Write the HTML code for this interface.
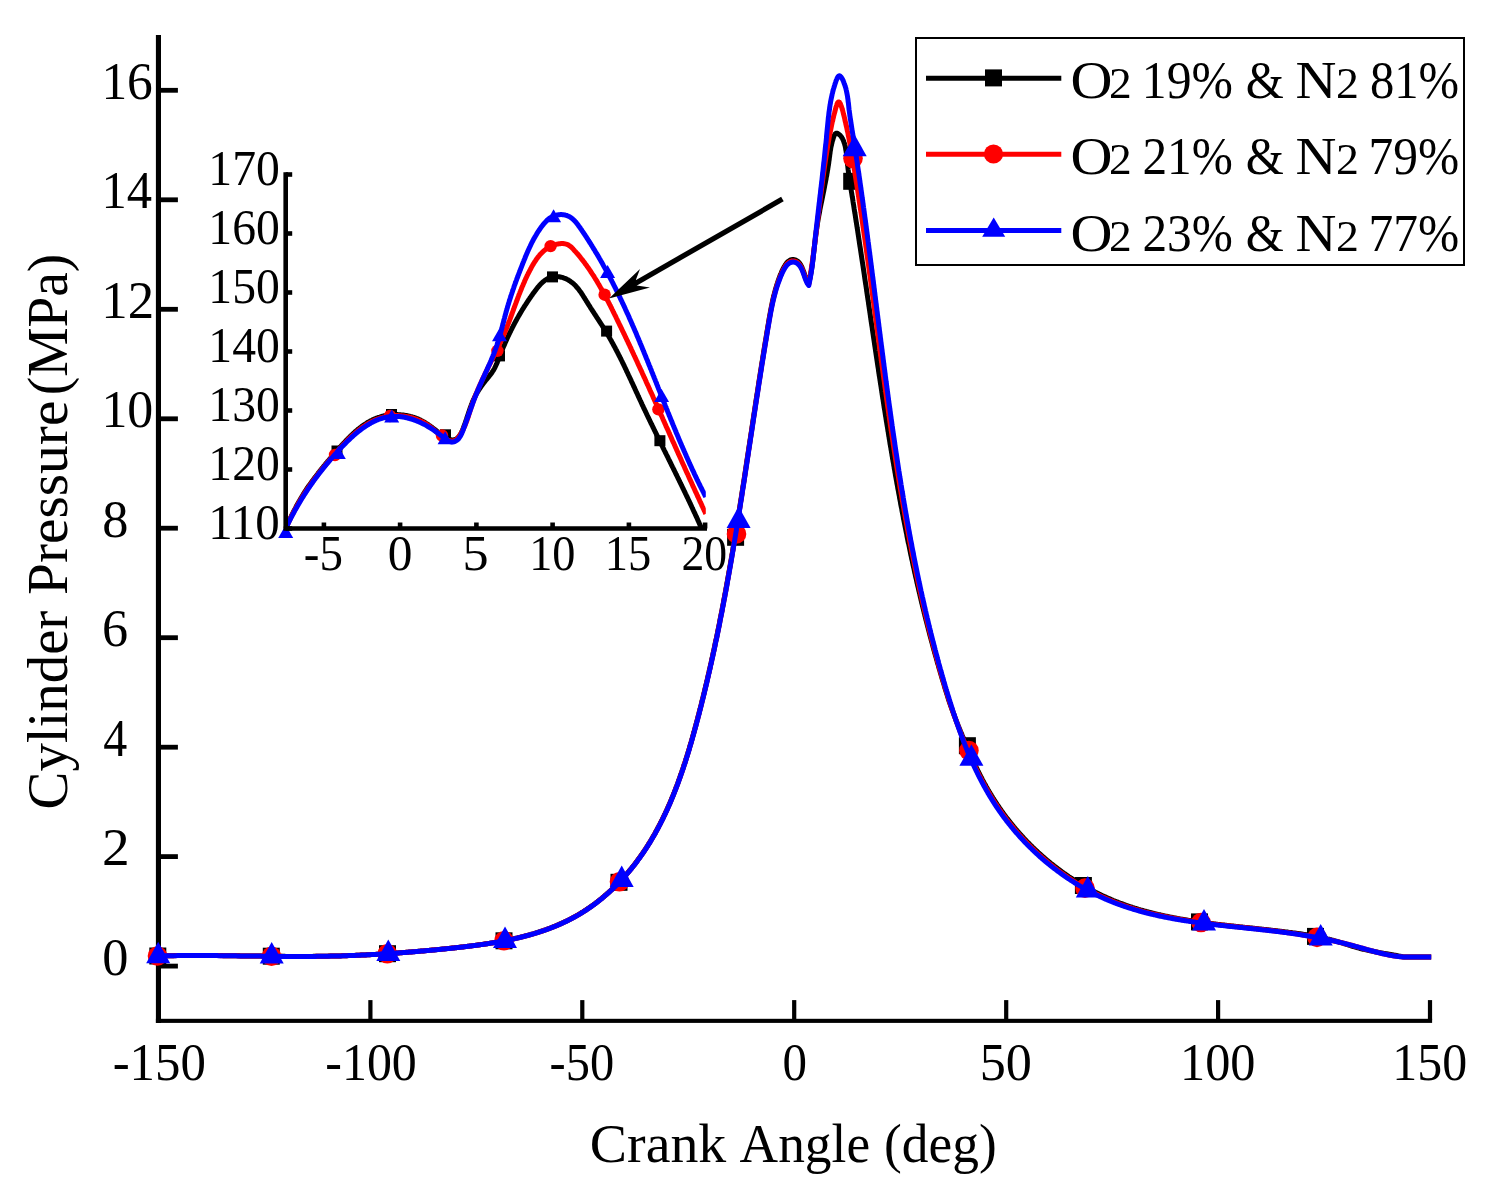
<!DOCTYPE html>
<html lang="en"><head><meta charset="utf-8"><title>Cylinder Pressure vs Crank Angle</title>
<style>html,body{margin:0;padding:0;background:#fff}body{width:1499px;height:1198px;overflow:hidden}svg{display:block}text{font-family:"Liberation Serif", "DejaVu Serif", serif;fill:#000}</style></head><body>
<svg width="1499" height="1198" viewBox="0 0 1499 1198">
<rect width="1499" height="1198" fill="#fff"/>
<g fill="#000">
<rect x="155.9" y="35" width="5.1" height="987.90"/>
<rect x="155.9" y="1018.8" width="1276.2" height="4.1"/>
<rect x="158" y="963.7" width="19.9" height="4.8"/>
<rect x="158" y="854.2" width="19.9" height="4.8"/>
<rect x="158" y="744.8" width="19.9" height="4.8"/>
<rect x="158" y="635.3" width="19.9" height="4.8"/>
<rect x="158" y="525.8" width="19.9" height="4.8"/>
<rect x="158" y="416.4" width="19.9" height="4.8"/>
<rect x="158" y="306.9" width="19.9" height="4.8"/>
<rect x="158" y="197.4" width="19.9" height="4.8"/>
<rect x="158" y="87.9" width="19.9" height="4.8"/>
<rect x="368.3" y="1000.1" width="4.2" height="20"/>
<rect x="580.2" y="1000.1" width="4.2" height="20"/>
<rect x="792.1" y="1000.1" width="4.2" height="20"/>
<rect x="1004.1" y="1000.1" width="4.2" height="20"/>
<rect x="1216.0" y="1000.1" width="4.2" height="20"/>
<rect x="1427.9" y="1000.1" width="4.2" height="20"/>
</g>
<clipPath id="ic"><rect x="283.4" y="170" width="422.4" height="361"/></clipPath>
<path d="M285.7 528.5 L286.1 527.5 L286.5 526.6 L287.0 525.6 L287.4 524.6 L287.8 523.6 L288.2 522.7 L288.7 521.7 L289.1 520.8 L289.6 519.8 L290.0 518.8 L290.5 517.9 L290.9 517.0 L291.4 516.0 L291.8 515.1 L292.3 514.1 L292.8 513.2 L293.2 512.3 L293.7 511.3 L294.2 510.4 L294.7 509.5 L295.2 508.6 L295.7 507.7 L296.1 506.7 L296.6 505.8 L297.1 504.9 L297.6 504.0 L298.1 503.1 L298.7 502.2 L299.2 501.3 L299.7 500.4 L300.2 499.5 L300.7 498.6 L301.2 497.8 L301.8 496.9 L302.3 496.0 L302.8 495.1 L303.4 494.2 L303.9 493.3 L304.4 492.5 L305.0 491.6 L305.5 490.7 L306.1 489.9 L306.6 489.0 L307.2 488.2 L307.7 487.4 L308.3 486.6 L308.9 485.8 L309.4 485.0 L310.0 484.2 L310.6 483.4 L311.2 482.6 L311.7 481.8 L312.3 481.0 L312.9 480.2 L313.5 479.4 L314.1 478.6 L314.7 477.8 L315.3 477.0 L315.9 476.3 L316.5 475.5 L317.1 474.7 L317.7 473.9 L318.3 473.1 L318.9 472.3 L319.5 471.6 L320.1 470.8 L320.7 470.0 L321.3 469.2 L322.0 468.4 L322.6 467.7 L323.2 466.9 L323.8 466.1 L324.5 465.3 L325.1 464.6 L325.7 463.8 L326.4 463.0 L327.0 462.3 L327.7 461.5 L328.3 460.7 L329.0 460.0 L329.6 459.2 L330.3 458.4 L330.9 457.7 L331.6 456.9 L332.2 456.1 L332.9 455.3 L333.5 454.6 L334.2 453.8 L334.9 453.0 L335.5 452.3 L336.2 451.5 L336.9 450.7 L337.6 450.0 L338.2 449.2 L338.9 448.4 L339.6 447.7 L340.3 446.9 L341.0 446.1 L341.6 445.4 L342.3 444.6 L343.0 443.9 L343.7 443.1 L344.4 442.4 L345.1 441.6 L345.8 440.9 L346.5 440.1 L347.2 439.4 L348.0 438.6 L348.7 437.9 L349.4 437.2 L350.1 436.5 L350.9 435.8 L351.6 435.1 L352.3 434.4 L353.1 433.7 L353.8 433.0 L354.6 432.3 L355.3 431.6 L356.1 431.0 L356.9 430.3 L357.6 429.7 L358.4 429.0 L359.2 428.4 L360.0 427.8 L360.8 427.2 L361.5 426.6 L362.3 426.0 L363.2 425.4 L364.0 424.9 L364.8 424.3 L365.6 423.8 L366.4 423.3 L367.3 422.7 L368.1 422.2 L369.0 421.8 L369.8 421.3 L370.7 420.8 L371.5 420.4 L372.4 419.9 L373.3 419.5 L374.2 419.1 L375.1 418.7 L376.0 418.4 L376.9 418.0 L377.8 417.7 L378.7 417.4 L379.7 417.1 L380.6 416.8 L381.6 416.5 L382.5 416.3 L383.5 416.0 L384.4 415.8 L385.4 415.6 L386.4 415.4 L387.4 415.3 L388.4 415.1 L389.3 415.0 L390.3 414.9 L391.3 414.8 L392.3 414.7 L393.3 414.7 L394.3 414.6 L395.3 414.6 L396.3 414.6 L397.3 414.6 L398.4 414.7 L399.4 414.7 L400.4 414.8 L401.4 414.9 L402.4 415.0 L403.4 415.1 L404.4 415.2 L405.4 415.4 L406.4 415.5 L407.3 415.7 L408.3 415.9 L409.3 416.1 L410.3 416.4 L411.3 416.6 L412.2 416.9 L413.2 417.2 L414.1 417.5 L415.1 417.8 L416.0 418.2 L416.9 418.5 L417.9 418.9 L418.8 419.3 L419.7 419.7 L420.6 420.1 L421.4 420.6 L422.3 421.1 L423.2 421.5 L424.0 422.0 L424.9 422.5 L425.7 423.1 L426.6 423.6 L427.4 424.1 L428.2 424.7 L429.1 425.3 L429.9 425.8 L430.7 426.4 L431.5 427.0 L432.3 427.6 L433.1 428.3 L433.9 428.9 L434.8 429.5 L435.6 430.1 L436.4 430.8 L437.2 431.4 L438.0 432.1 L438.8 432.7 L439.6 433.4 L440.5 434.1 L441.3 434.7 L442.1 435.4 L443.0 436.0 L443.8 436.6 L444.7 437.2 L445.6 437.7 L446.5 438.2 L447.3 438.7 L448.2 439.0 L449.1 439.4 L450.0 439.6 L450.9 439.8 L451.8 440.0 L452.7 440.0 L453.5 440.0 L454.3 439.8 L455.1 439.6 L455.8 439.3 L456.5 438.9 L457.2 438.4 L457.8 437.8 L458.4 437.1 L459.0 436.4 L459.6 435.7 L460.1 434.8 L460.6 434.0 L461.1 433.1 L461.6 432.1 L462.1 431.1 L462.5 430.1 L462.9 429.1 L463.3 428.1 L463.7 427.0 L464.1 426.0 L464.5 425.0 L464.8 424.1 L465.2 423.1 L465.5 422.1 L465.8 421.2 L466.2 420.2 L466.5 419.3 L466.8 418.3 L467.1 417.4 L467.4 416.4 L467.7 415.5 L468.0 414.6 L468.3 413.7 L468.6 412.8 L468.9 411.9 L469.2 411.0 L469.5 410.1 L469.8 409.2 L470.1 408.3 L470.4 407.4 L470.8 406.5 L471.1 405.6 L471.4 404.8 L471.7 403.9 L472.1 403.0 L472.4 402.2 L472.8 401.3 L473.1 400.5 L473.5 399.7 L473.9 398.8 L474.3 398.0 L474.7 397.2 L475.1 396.3 L475.5 395.5 L475.9 394.7 L476.4 393.9 L476.9 393.1 L477.4 392.3 L477.9 391.5 L478.4 390.6 L478.9 389.8 L479.5 388.9 L480.1 388.1 L480.7 387.2 L481.2 386.4 L481.8 385.5 L482.5 384.7 L483.1 383.8 L483.7 383.0 L484.3 382.2 L484.9 381.4 L485.6 380.6 L486.2 379.8 L486.8 379.1 L487.5 378.3 L488.1 377.5 L488.7 376.8 L489.3 376.0 L489.9 375.2 L490.5 374.5 L491.1 373.7 L491.7 372.9 L492.2 372.1 L492.7 371.3 L493.3 370.5 L493.8 369.6 L494.3 368.8 L494.7 367.9 L495.2 367.0 L495.6 366.1 L496.0 365.2 L496.5 364.2 L496.9 363.3 L497.3 362.4 L497.6 361.4 L498.0 360.5 L498.4 359.5 L498.8 358.5 L499.2 357.6 L499.5 356.6 L499.9 355.7 L500.3 354.7 L500.7 353.8 L501.0 352.8 L501.4 351.9 L501.8 350.9 L502.2 350.0 L502.6 349.1 L502.9 348.1 L503.3 347.2 L503.7 346.3 L504.1 345.4 L504.5 344.5 L504.9 343.5 L505.3 342.6 L505.7 341.7 L506.1 340.8 L506.5 339.9 L506.9 339.0 L507.3 338.1 L507.7 337.2 L508.1 336.3 L508.6 335.4 L509.0 334.5 L509.4 333.7 L509.8 332.8 L510.3 331.9 L510.7 331.0 L511.1 330.1 L511.6 329.2 L512.0 328.4 L512.4 327.5 L512.9 326.6 L513.3 325.8 L513.8 324.9 L514.2 324.0 L514.7 323.1 L515.2 322.3 L515.6 321.4 L516.1 320.6 L516.6 319.7 L517.0 318.8 L517.5 318.0 L518.0 317.1 L518.5 316.3 L519.0 315.4 L519.5 314.6 L520.0 313.7 L520.5 312.8 L521.0 312.0 L521.5 311.1 L522.0 310.3 L522.5 309.4 L523.1 308.6 L523.6 307.7 L524.1 306.9 L524.7 306.0 L525.2 305.2 L525.8 304.3 L526.3 303.5 L526.9 302.6 L527.4 301.8 L528.0 300.9 L528.6 300.1 L529.1 299.2 L529.7 298.4 L530.3 297.5 L530.9 296.7 L531.5 295.8 L532.1 295.0 L532.7 294.1 L533.3 293.3 L533.9 292.4 L534.6 291.6 L535.2 290.7 L535.8 289.9 L536.5 289.0 L537.1 288.2 L537.8 287.4 L538.4 286.6 L539.1 285.8 L539.8 285.0 L540.5 284.3 L541.2 283.6 L541.9 282.9 L542.7 282.2 L543.4 281.5 L544.2 280.9 L544.9 280.3 L545.7 279.8 L546.5 279.3 L547.3 278.8 L548.1 278.3 L549.0 277.9 L549.8 277.6 L550.7 277.3 L551.6 277.0 L552.5 276.8 L553.4 276.7 L554.4 276.6 L555.3 276.5 L556.3 276.5 L557.3 276.6 L558.2 276.7 L559.2 276.8 L560.2 277.0 L561.2 277.2 L562.1 277.4 L563.1 277.7 L564.1 278.1 L565.0 278.4 L565.9 278.8 L566.9 279.3 L567.8 279.7 L568.6 280.2 L569.5 280.7 L570.3 281.3 L571.1 281.9 L571.9 282.5 L572.7 283.1 L573.4 283.7 L574.2 284.4 L574.9 285.1 L575.6 285.8 L576.2 286.5 L576.9 287.3 L577.5 288.0 L578.2 288.8 L578.8 289.6 L579.4 290.4 L580.0 291.2 L580.6 292.0 L581.2 292.8 L581.7 293.7 L582.3 294.5 L582.8 295.4 L583.4 296.3 L583.9 297.1 L584.5 298.0 L585.0 298.9 L585.6 299.7 L586.1 300.6 L586.6 301.5 L587.2 302.3 L587.7 303.2 L588.2 304.1 L588.8 304.9 L589.3 305.8 L589.9 306.6 L590.4 307.5 L590.9 308.3 L591.5 309.2 L592.0 310.0 L592.6 310.9 L593.1 311.7 L593.7 312.5 L594.2 313.4 L594.8 314.2 L595.3 315.1 L595.9 315.9 L596.4 316.7 L596.9 317.6 L597.5 318.4 L598.0 319.2 L598.6 320.1 L599.1 320.9 L599.6 321.7 L600.2 322.5 L600.7 323.4 L601.3 324.2 L601.8 325.0 L602.3 325.9 L602.8 326.7 L603.4 327.6 L603.9 328.4 L604.4 329.2 L604.9 330.1 L605.5 330.9 L606.0 331.8 L606.5 332.6 L607.0 333.5 L607.5 334.3 L608.0 335.2 L608.5 336.0 L609.0 336.9 L609.5 337.7 L610.0 338.6 L610.5 339.5 L611.0 340.3 L611.5 341.2 L611.9 342.1 L612.4 342.9 L612.9 343.8 L613.4 344.7 L613.8 345.6 L614.3 346.4 L614.8 347.3 L615.3 348.2 L615.7 349.1 L616.2 349.9 L616.6 350.8 L617.1 351.7 L617.6 352.6 L618.0 353.5 L618.5 354.4 L618.9 355.3 L619.4 356.2 L619.8 357.0 L620.3 357.9 L620.7 358.8 L621.2 359.7 L621.6 360.6 L622.1 361.5 L622.5 362.4 L622.9 363.3 L623.4 364.2 L623.8 365.1 L624.2 366.0 L624.7 366.9 L625.1 367.8 L625.5 368.7 L626.0 369.6 L626.4 370.5 L626.8 371.5 L627.3 372.4 L627.7 373.3 L628.1 374.2 L628.5 375.1 L629.0 376.0 L629.4 376.9 L629.8 377.8 L630.2 378.7 L630.7 379.6 L631.1 380.5 L631.5 381.5 L631.9 382.4 L632.4 383.3 L632.8 384.2 L633.2 385.1 L633.6 386.0 L634.0 386.9 L634.5 387.8 L634.9 388.8 L635.3 389.7 L635.7 390.6 L636.1 391.5 L636.5 392.4 L637.0 393.3 L637.4 394.2 L637.8 395.1 L638.2 396.1 L638.6 397.0 L639.1 397.9 L639.5 398.8 L639.9 399.7 L640.3 400.6 L640.8 401.5 L641.2 402.4 L641.6 403.3 L642.0 404.3 L642.4 405.2 L642.9 406.1 L643.3 407.0 L643.7 407.9 L644.1 408.8 L644.6 409.7 L645.0 410.6 L645.4 411.5 L645.9 412.4 L646.3 413.3 L646.7 414.2 L647.1 415.1 L647.6 416.0 L648.0 416.9 L648.4 417.8 L648.9 418.7 L649.3 419.6 L649.7 420.5 L650.2 421.4 L650.6 422.3 L651.0 423.2 L651.5 424.1 L651.9 425.0 L652.4 425.9 L652.8 426.8 L653.2 427.7 L653.7 428.6 L654.1 429.5 L654.5 430.4 L655.0 431.3 L655.4 432.2 L655.9 433.1 L656.3 434.0 L656.7 434.9 L657.2 435.8 L657.6 436.7 L658.0 437.6 L658.5 438.5 L658.9 439.4 L659.4 440.3 L659.8 441.2 L660.3 442.1 L660.7 443.0 L661.1 443.9 L661.6 444.8 L662.0 445.7 L662.5 446.6 L662.9 447.5 L663.3 448.4 L663.8 449.3 L664.2 450.2 L664.7 451.0 L665.1 451.9 L665.5 452.8 L666.0 453.7 L666.4 454.6 L666.9 455.5 L667.3 456.4 L667.8 457.3 L668.2 458.2 L668.6 459.1 L669.1 460.0 L669.5 460.9 L670.0 461.8 L670.4 462.7 L670.9 463.6 L671.3 464.5 L671.7 465.4 L672.2 466.3 L672.6 467.1 L673.1 468.0 L673.5 468.9 L673.9 469.8 L674.4 470.7 L674.8 471.6 L675.3 472.5 L675.7 473.4 L676.1 474.3 L676.6 475.2 L677.0 476.1 L677.5 477.0 L677.9 477.9 L678.3 478.8 L678.8 479.7 L679.2 480.6 L679.6 481.5 L680.1 482.4 L680.5 483.3 L681.0 484.2 L681.4 485.1 L681.8 486.0 L682.3 486.9 L682.7 487.8 L683.1 488.7 L683.6 489.6 L684.0 490.5 L684.4 491.4 L684.9 492.3 L685.3 493.2 L685.7 494.1 L686.2 495.0 L686.6 495.9 L687.0 496.8 L687.5 497.7 L687.9 498.6 L688.3 499.5 L688.7 500.4 L689.2 501.3 L689.6 502.2 L690.0 503.1 L690.4 504.0 L690.9 504.9 L691.3 505.8 L691.7 506.7 L692.1 507.6 L692.6 508.5 L693.0 509.5 L693.4 510.4 L693.8 511.3 L694.2 512.2 L694.7 513.1 L695.1 514.0 L695.5 514.9 L695.9 515.8 L696.3 516.7 L696.8 517.7 L697.2 518.6 L697.6 519.5 L698.0 520.4 L698.4 521.3 L698.8 522.2 L699.2 523.1 L699.6 524.1 L700.0 525.0 L700.4 525.9 L700.9 526.8 L701.3 527.7 L701.6 528.5" fill="none" stroke="#000" stroke-width="5" stroke-linejoin="round" clip-path="url(#ic)"/>
<rect x="331.5" y="445.5" width="11.0" height="11.0" fill="#000"/>
<rect x="386.0" y="409.0" width="11.0" height="11.0" fill="#000"/>
<rect x="440.0" y="429.3" width="11.0" height="11.0" fill="#000"/>
<rect x="494.0" y="350.4" width="11.0" height="11.0" fill="#000"/>
<rect x="547.0" y="271.4" width="11.0" height="11.0" fill="#000"/>
<rect x="601.1" y="325.6" width="11.0" height="11.0" fill="#000"/>
<rect x="654.4" y="435.2" width="11.0" height="11.0" fill="#000"/>
<path d="M285.7 528.5 L286.1 527.6 L286.6 526.6 L287.0 525.6 L287.4 524.7 L287.9 523.8 L288.3 522.8 L288.7 521.9 L289.2 520.9 L289.6 520.0 L290.1 519.1 L290.5 518.2 L291.0 517.2 L291.5 516.3 L291.9 515.4 L292.4 514.5 L292.9 513.6 L293.3 512.7 L293.8 511.8 L294.3 510.9 L294.8 510.0 L295.3 509.1 L295.8 508.2 L296.2 507.3 L296.7 506.4 L297.2 505.5 L297.7 504.7 L298.2 503.8 L298.7 502.9 L299.2 502.0 L299.8 501.2 L300.3 500.3 L300.8 499.4 L301.3 498.6 L301.8 497.7 L302.4 496.9 L302.9 496.0 L303.4 495.1 L304.0 494.3 L304.5 493.4 L305.0 492.6 L305.6 491.8 L306.1 490.9 L306.7 490.1 L307.2 489.3 L307.8 488.5 L308.3 487.7 L308.9 486.9 L309.4 486.0 L310.0 485.2 L310.6 484.4 L311.1 483.6 L311.7 482.8 L312.3 482.0 L312.9 481.2 L313.5 480.4 L314.0 479.6 L314.6 478.9 L315.2 478.1 L315.8 477.3 L316.4 476.5 L317.0 475.7 L317.6 474.9 L318.2 474.1 L318.8 473.3 L319.4 472.6 L320.0 471.8 L320.6 471.0 L321.2 470.2 L321.9 469.4 L322.5 468.7 L323.1 467.9 L323.7 467.1 L324.4 466.3 L325.0 465.6 L325.6 464.8 L326.3 464.0 L326.9 463.3 L327.6 462.5 L328.2 461.7 L328.8 461.0 L329.5 460.2 L330.1 459.4 L330.8 458.6 L331.5 457.9 L332.1 457.1 L332.8 456.3 L333.4 455.6 L334.1 454.8 L334.8 454.1 L335.5 453.3 L336.1 452.5 L336.8 451.8 L337.5 451.0 L338.2 450.2 L338.9 449.5 L339.5 448.7 L340.2 447.9 L340.9 447.2 L341.6 446.4 L342.3 445.7 L343.0 444.9 L343.7 444.2 L344.4 443.4 L345.2 442.7 L345.9 441.9 L346.6 441.2 L347.3 440.4 L348.0 439.7 L348.8 439.0 L349.5 438.3 L350.2 437.6 L351.0 436.9 L351.7 436.2 L352.5 435.5 L353.2 434.8 L354.0 434.1 L354.7 433.4 L355.5 432.8 L356.3 432.1 L357.0 431.4 L357.8 430.8 L358.6 430.2 L359.4 429.5 L360.2 428.9 L361.0 428.3 L361.8 427.7 L362.6 427.2 L363.4 426.6 L364.2 426.0 L365.0 425.5 L365.9 424.9 L366.7 424.4 L367.5 423.9 L368.4 423.4 L369.2 422.9 L370.1 422.4 L370.9 422.0 L371.8 421.5 L372.6 421.1 L373.5 420.7 L374.4 420.3 L375.3 419.9 L376.2 419.5 L377.1 419.2 L378.0 418.8 L378.9 418.5 L379.8 418.2 L380.7 417.9 L381.7 417.6 L382.6 417.4 L383.5 417.1 L384.5 416.9 L385.4 416.7 L386.4 416.5 L387.3 416.4 L388.3 416.2 L389.3 416.1 L390.2 416.0 L391.2 415.8 L392.2 415.8 L393.2 415.7 L394.1 415.7 L395.1 415.6 L396.1 415.6 L397.1 415.6 L398.1 415.6 L399.1 415.7 L400.1 415.7 L401.0 415.8 L402.0 415.9 L403.0 416.0 L404.0 416.1 L405.0 416.3 L406.0 416.4 L407.0 416.6 L407.9 416.8 L408.9 417.0 L409.9 417.2 L410.9 417.5 L411.9 417.8 L412.8 418.0 L413.8 418.3 L414.8 418.7 L415.7 419.0 L416.7 419.3 L417.6 419.7 L418.6 420.1 L419.5 420.5 L420.4 420.9 L421.4 421.4 L422.3 421.8 L423.2 422.3 L424.1 422.8 L425.0 423.3 L425.9 423.9 L426.8 424.4 L427.7 425.0 L428.6 425.6 L429.4 426.2 L430.3 426.8 L431.1 427.4 L432.0 428.1 L432.8 428.8 L433.6 429.4 L434.4 430.1 L435.2 430.9 L436.0 431.6 L436.8 432.3 L437.6 433.0 L438.4 433.7 L439.2 434.4 L440.0 435.0 L440.8 435.7 L441.6 436.3 L442.4 436.9 L443.2 437.5 L444.0 438.1 L444.8 438.6 L445.6 439.1 L446.4 439.5 L447.3 439.9 L448.1 440.2 L449.0 440.5 L449.8 440.8 L450.7 440.9 L451.6 441.0 L452.5 441.1 L453.3 441.0 L454.2 440.8 L454.9 440.5 L455.7 440.0 L456.4 439.5 L457.1 438.9 L457.7 438.2 L458.3 437.4 L458.9 436.6 L459.5 435.8 L460.0 435.0 L460.5 434.2 L461.0 433.3 L461.5 432.5 L462.0 431.6 L462.5 430.8 L462.9 429.9 L463.4 429.0 L463.8 428.1 L464.2 427.2 L464.6 426.3 L465.0 425.4 L465.4 424.5 L465.7 423.6 L466.1 422.7 L466.4 421.8 L466.8 420.9 L467.1 420.0 L467.4 419.0 L467.8 418.1 L468.1 417.1 L468.4 416.2 L468.7 415.3 L469.0 414.3 L469.3 413.4 L469.6 412.4 L469.9 411.4 L470.2 410.5 L470.5 409.5 L470.8 408.6 L471.1 407.6 L471.4 406.7 L471.8 405.7 L472.1 404.8 L472.4 403.8 L472.7 402.9 L473.0 402.0 L473.4 401.0 L473.7 400.1 L474.1 399.2 L474.4 398.2 L474.8 397.3 L475.1 396.4 L475.5 395.5 L475.9 394.6 L476.2 393.6 L476.6 392.7 L477.0 391.8 L477.4 390.9 L477.7 390.0 L478.1 389.1 L478.5 388.2 L478.9 387.3 L479.3 386.3 L479.7 385.4 L480.1 384.5 L480.5 383.6 L481.0 382.7 L481.4 381.8 L481.8 380.8 L482.2 379.9 L482.6 379.0 L483.0 378.1 L483.5 377.2 L483.9 376.3 L484.3 375.4 L484.8 374.5 L485.2 373.6 L485.6 372.7 L486.1 371.8 L486.5 370.9 L486.9 370.0 L487.4 369.1 L487.8 368.2 L488.2 367.3 L488.7 366.4 L489.1 365.5 L489.6 364.6 L490.0 363.7 L490.5 362.8 L490.9 361.9 L491.3 361.1 L491.8 360.2 L492.2 359.3 L492.7 358.4 L493.1 357.5 L493.6 356.6 L494.0 355.7 L494.4 354.8 L494.9 353.9 L495.3 353.0 L495.7 352.1 L496.2 351.2 L496.6 350.3 L497.0 349.4 L497.5 348.5 L497.9 347.6 L498.3 346.8 L498.8 345.9 L499.2 345.0 L499.6 344.1 L500.0 343.2 L500.4 342.3 L500.9 341.4 L501.3 340.4 L501.7 339.5 L502.1 338.6 L502.5 337.7 L502.9 336.8 L503.3 335.9 L503.7 335.0 L504.1 334.1 L504.5 333.2 L504.8 332.3 L505.2 331.4 L505.6 330.4 L506.0 329.5 L506.3 328.6 L506.7 327.7 L507.1 326.8 L507.4 325.8 L507.8 324.9 L508.2 324.0 L508.5 323.0 L508.9 322.1 L509.2 321.2 L509.6 320.3 L509.9 319.3 L510.3 318.4 L510.6 317.5 L511.0 316.5 L511.3 315.6 L511.6 314.7 L512.0 313.7 L512.3 312.8 L512.7 311.9 L513.0 310.9 L513.4 310.0 L513.7 309.1 L514.0 308.1 L514.4 307.2 L514.7 306.2 L515.1 305.3 L515.4 304.4 L515.8 303.4 L516.1 302.5 L516.5 301.6 L516.8 300.6 L517.2 299.7 L517.5 298.7 L517.9 297.8 L518.2 296.9 L518.6 295.9 L518.9 295.0 L519.3 294.1 L519.7 293.1 L520.0 292.2 L520.4 291.3 L520.8 290.3 L521.2 289.4 L521.5 288.5 L521.9 287.5 L522.3 286.6 L522.7 285.7 L523.1 284.7 L523.5 283.8 L523.9 282.9 L524.3 282.0 L524.7 281.0 L525.1 280.1 L525.5 279.2 L525.9 278.3 L526.4 277.4 L526.8 276.4 L527.2 275.5 L527.7 274.6 L528.1 273.7 L528.6 272.8 L529.1 271.9 L529.5 271.0 L530.0 270.1 L530.5 269.2 L531.0 268.3 L531.4 267.4 L531.9 266.5 L532.4 265.6 L533.0 264.7 L533.5 263.8 L534.0 262.9 L534.6 262.1 L535.1 261.2 L535.7 260.4 L536.2 259.6 L536.8 258.7 L537.4 257.9 L538.0 257.1 L538.6 256.4 L539.3 255.6 L539.9 254.8 L540.6 254.1 L541.2 253.4 L541.9 252.7 L542.6 252.0 L543.3 251.4 L544.1 250.7 L544.8 250.1 L545.6 249.5 L546.3 248.9 L547.1 248.4 L547.9 247.9 L548.8 247.4 L549.6 246.9 L550.5 246.4 L551.3 246.0 L552.2 245.6 L553.2 245.3 L554.1 244.9 L555.1 244.6 L556.0 244.4 L557.0 244.1 L558.1 243.9 L559.1 243.8 L560.1 243.7 L561.1 243.6 L562.2 243.6 L563.2 243.6 L564.2 243.7 L565.2 243.9 L566.1 244.1 L567.0 244.4 L567.9 244.8 L568.8 245.3 L569.6 245.8 L570.4 246.4 L571.1 247.0 L571.9 247.7 L572.6 248.4 L573.3 249.2 L574.0 249.9 L574.6 250.7 L575.3 251.4 L576.0 252.2 L576.7 252.9 L577.3 253.7 L578.0 254.5 L578.6 255.2 L579.3 256.0 L579.9 256.8 L580.5 257.6 L581.2 258.4 L581.8 259.2 L582.4 260.0 L583.0 260.7 L583.6 261.5 L584.2 262.3 L584.8 263.1 L585.4 264.0 L586.0 264.8 L586.6 265.6 L587.2 266.4 L587.8 267.2 L588.3 268.0 L588.9 268.8 L589.5 269.7 L590.0 270.5 L590.6 271.3 L591.1 272.2 L591.7 273.0 L592.2 273.8 L592.8 274.7 L593.3 275.5 L593.9 276.3 L594.4 277.2 L594.9 278.0 L595.4 278.9 L596.0 279.7 L596.5 280.6 L597.0 281.4 L597.5 282.3 L598.0 283.2 L598.5 284.0 L599.0 284.9 L599.5 285.7 L600.0 286.6 L600.5 287.5 L601.0 288.3 L601.5 289.2 L602.0 290.1 L602.5 291.0 L603.0 291.8 L603.4 292.7 L603.9 293.6 L604.4 294.5 L604.9 295.4 L605.3 296.2 L605.8 297.1 L606.3 298.0 L606.7 298.9 L607.2 299.8 L607.7 300.7 L608.1 301.5 L608.6 302.4 L609.0 303.3 L609.5 304.2 L610.0 305.1 L610.4 306.0 L610.9 306.9 L611.3 307.8 L611.8 308.7 L612.2 309.6 L612.7 310.5 L613.1 311.4 L613.5 312.3 L614.0 313.2 L614.4 314.1 L614.9 315.0 L615.3 315.9 L615.8 316.8 L616.2 317.7 L616.6 318.6 L617.1 319.5 L617.5 320.4 L617.9 321.3 L618.4 322.2 L618.8 323.1 L619.3 324.0 L619.7 324.9 L620.1 325.8 L620.6 326.7 L621.0 327.6 L621.4 328.5 L621.9 329.4 L622.3 330.3 L622.7 331.2 L623.2 332.1 L623.6 333.0 L624.0 333.9 L624.5 334.8 L624.9 335.7 L625.3 336.6 L625.7 337.5 L626.2 338.4 L626.6 339.3 L627.0 340.2 L627.5 341.1 L627.9 342.0 L628.3 342.9 L628.7 343.8 L629.2 344.7 L629.6 345.6 L630.0 346.5 L630.4 347.4 L630.9 348.3 L631.3 349.3 L631.7 350.2 L632.1 351.1 L632.5 352.0 L633.0 352.9 L633.4 353.8 L633.8 354.7 L634.2 355.6 L634.7 356.5 L635.1 357.4 L635.5 358.3 L635.9 359.2 L636.3 360.1 L636.8 361.0 L637.2 361.9 L637.6 362.9 L638.0 363.8 L638.4 364.7 L638.8 365.6 L639.3 366.5 L639.7 367.4 L640.1 368.3 L640.5 369.2 L640.9 370.1 L641.3 371.0 L641.8 371.9 L642.2 372.9 L642.6 373.8 L643.0 374.7 L643.4 375.6 L643.8 376.5 L644.2 377.4 L644.7 378.3 L645.1 379.2 L645.5 380.1 L645.9 381.0 L646.3 382.0 L646.7 382.9 L647.1 383.8 L647.5 384.7 L648.0 385.6 L648.4 386.5 L648.8 387.4 L649.2 388.3 L649.6 389.2 L650.0 390.2 L650.4 391.1 L650.8 392.0 L651.2 392.9 L651.7 393.8 L652.1 394.7 L652.5 395.6 L652.9 396.5 L653.3 397.5 L653.7 398.4 L654.1 399.3 L654.5 400.2 L654.9 401.1 L655.3 402.0 L655.7 402.9 L656.2 403.8 L656.6 404.7 L657.0 405.7 L657.4 406.6 L657.8 407.5 L658.2 408.4 L658.6 409.3 L659.0 410.2 L659.4 411.1 L659.8 412.1 L660.2 413.0 L660.6 413.9 L661.0 414.8 L661.5 415.7 L661.9 416.6 L662.3 417.5 L662.7 418.4 L663.1 419.4 L663.5 420.3 L663.9 421.2 L664.3 422.1 L664.7 423.0 L665.1 423.9 L665.5 424.8 L665.9 425.7 L666.3 426.7 L666.7 427.6 L667.1 428.5 L667.6 429.4 L668.0 430.3 L668.4 431.2 L668.8 432.1 L669.2 433.1 L669.6 434.0 L670.0 434.9 L670.4 435.8 L670.8 436.7 L671.2 437.6 L671.6 438.5 L672.0 439.4 L672.4 440.4 L672.8 441.3 L673.2 442.2 L673.7 443.1 L674.1 444.0 L674.5 444.9 L674.9 445.8 L675.3 446.8 L675.7 447.7 L676.1 448.6 L676.5 449.5 L676.9 450.4 L677.3 451.3 L677.7 452.2 L678.1 453.1 L678.5 454.1 L679.0 455.0 L679.4 455.9 L679.8 456.8 L680.2 457.7 L680.6 458.6 L681.0 459.5 L681.4 460.4 L681.8 461.4 L682.2 462.3 L682.6 463.2 L683.0 464.1 L683.5 465.0 L683.9 465.9 L684.3 466.8 L684.7 467.7 L685.1 468.7 L685.5 469.6 L685.9 470.5 L686.3 471.4 L686.7 472.3 L687.1 473.2 L687.6 474.1 L688.0 475.0 L688.4 475.9 L688.8 476.9 L689.2 477.8 L689.6 478.7 L690.0 479.6 L690.4 480.5 L690.9 481.4 L691.3 482.3 L691.7 483.2 L692.1 484.1 L692.5 485.1 L692.9 486.0 L693.3 486.9 L693.8 487.8 L694.2 488.7 L694.6 489.6 L695.0 490.5 L695.4 491.4 L695.8 492.3 L696.3 493.2 L696.7 494.1 L697.1 495.1 L697.5 496.0 L697.9 496.9 L698.4 497.8 L698.8 498.7 L699.2 499.6 L699.6 500.5 L700.0 501.4 L700.4 502.3 L700.9 503.2 L701.3 504.1 L701.7 505.0 L702.1 506.0 L702.6 506.9 L703.0 507.8 L703.4 508.7 L703.8 509.6 L704.2 510.5 L704.7 511.4 L705.1 512.3 L705.5 513.2 L705.8 513.8" fill="none" stroke="#f00" stroke-width="5" stroke-linejoin="round" clip-path="url(#ic)"/>
<circle cx="335.0" cy="455.0" r="6.2" fill="#f00"/>
<circle cx="390.0" cy="416.0" r="6.2" fill="#f00"/>
<circle cx="442.0" cy="435.5" r="6.2" fill="#f00"/>
<circle cx="497.4" cy="350.8" r="6.2" fill="#f00"/>
<circle cx="550.6" cy="246.1" r="6.2" fill="#f00"/>
<circle cx="604.6" cy="294.7" r="6.2" fill="#f00"/>
<circle cx="658.4" cy="409.4" r="6.2" fill="#f00"/>
<path d="M285.7 528.5 L286.2 527.6 L286.6 526.6 L287.1 525.7 L287.5 524.7 L288.0 523.8 L288.4 522.9 L288.9 522.0 L289.3 521.1 L289.8 520.1 L290.3 519.2 L290.7 518.3 L291.2 517.4 L291.7 516.5 L292.2 515.6 L292.6 514.7 L293.1 513.8 L293.6 513.0 L294.1 512.1 L294.5 511.2 L295.0 510.3 L295.5 509.4 L296.0 508.6 L296.5 507.7 L297.0 506.8 L297.5 506.0 L298.0 505.1 L298.5 504.3 L299.0 503.4 L299.5 502.6 L300.0 501.7 L300.5 500.9 L301.0 500.0 L301.5 499.2 L302.0 498.4 L302.5 497.5 L303.1 496.7 L303.6 495.9 L304.1 495.0 L304.6 494.2 L305.2 493.4 L305.7 492.6 L306.2 491.7 L306.8 490.9 L307.3 490.1 L307.8 489.3 L308.4 488.5 L308.9 487.7 L309.5 486.9 L310.0 486.1 L310.6 485.3 L311.1 484.5 L311.7 483.7 L312.3 482.9 L312.8 482.1 L313.4 481.3 L314.0 480.5 L314.5 479.7 L315.1 478.9 L315.7 478.1 L316.3 477.3 L316.9 476.6 L317.5 475.8 L318.0 475.0 L318.6 474.2 L319.2 473.4 L319.8 472.7 L320.4 471.9 L321.0 471.1 L321.7 470.3 L322.3 469.6 L322.9 468.8 L323.5 468.0 L324.1 467.2 L324.7 466.5 L325.4 465.7 L326.0 464.9 L326.6 464.2 L327.3 463.4 L327.9 462.6 L328.6 461.8 L329.2 461.1 L329.9 460.3 L330.5 459.5 L331.2 458.8 L331.9 458.0 L332.5 457.3 L333.2 456.5 L333.9 455.7 L334.5 455.0 L335.2 454.2 L335.9 453.4 L336.6 452.7 L337.3 451.9 L338.0 451.1 L338.7 450.4 L339.4 449.6 L340.1 448.8 L340.8 448.1 L341.5 447.3 L342.2 446.6 L343.0 445.8 L343.7 445.0 L344.4 444.3 L345.2 443.6 L345.9 442.8 L346.6 442.1 L347.4 441.3 L348.1 440.6 L348.9 439.9 L349.6 439.2 L350.4 438.4 L351.2 437.7 L351.9 437.0 L352.7 436.3 L353.5 435.6 L354.2 434.9 L355.0 434.3 L355.8 433.6 L356.6 432.9 L357.4 432.3 L358.2 431.6 L359.0 431.0 L359.8 430.4 L360.6 429.8 L361.4 429.2 L362.2 428.6 L363.0 428.0 L363.9 427.4 L364.7 426.8 L365.5 426.3 L366.3 425.7 L367.2 425.2 L368.0 424.7 L368.9 424.2 L369.7 423.7 L370.6 423.2 L371.4 422.7 L372.3 422.3 L373.1 421.8 L374.0 421.4 L374.9 421.0 L375.8 420.6 L376.6 420.2 L377.5 419.9 L378.4 419.5 L379.3 419.2 L380.2 418.9 L381.1 418.6 L382.0 418.3 L382.9 418.0 L383.8 417.8 L384.7 417.6 L385.6 417.4 L386.5 417.2 L387.4 417.0 L388.4 416.9 L389.3 416.7 L390.2 416.6 L391.2 416.5 L392.1 416.5 L393.0 416.4 L394.0 416.4 L394.9 416.4 L395.9 416.4 L396.8 416.4 L397.8 416.5 L398.8 416.5 L399.7 416.6 L400.7 416.7 L401.6 416.8 L402.6 417.0 L403.6 417.1 L404.5 417.3 L405.5 417.5 L406.5 417.7 L407.4 418.0 L408.4 418.2 L409.4 418.5 L410.3 418.7 L411.3 419.0 L412.3 419.3 L413.2 419.7 L414.2 420.0 L415.2 420.4 L416.1 420.7 L417.1 421.1 L418.0 421.5 L419.0 421.9 L419.9 422.3 L420.9 422.8 L421.8 423.2 L422.8 423.7 L423.7 424.1 L424.6 424.6 L425.6 425.1 L426.5 425.6 L427.4 426.2 L428.3 426.7 L429.2 427.2 L430.1 427.8 L431.0 428.3 L431.9 428.9 L432.8 429.5 L433.7 430.1 L434.5 430.7 L435.4 431.3 L436.3 431.9 L437.1 432.5 L438.0 433.2 L438.8 433.8 L439.6 434.5 L440.5 435.1 L441.3 435.8 L442.1 436.4 L442.9 437.1 L443.7 437.8 L444.5 438.4 L445.3 439.0 L446.0 439.5 L446.8 440.1 L447.6 440.5 L448.4 441.0 L449.2 441.3 L450.0 441.6 L450.8 441.8 L451.6 441.9 L452.4 442.0 L453.2 441.9 L454.0 441.7 L454.8 441.5 L455.6 441.1 L456.3 440.7 L457.1 440.2 L457.7 439.7 L458.4 439.0 L458.9 438.3 L459.5 437.5 L460.0 436.7 L460.6 435.8 L461.0 434.9 L461.5 434.0 L461.9 433.0 L462.3 432.0 L462.8 431.0 L463.1 430.0 L463.5 429.0 L463.9 427.9 L464.3 426.9 L464.7 425.9 L465.0 424.9 L465.4 423.9 L465.7 422.9 L466.1 421.9 L466.4 420.9 L466.8 419.9 L467.1 418.9 L467.5 418.0 L467.8 417.0 L468.2 416.0 L468.5 415.1 L468.8 414.1 L469.2 413.2 L469.5 412.2 L469.9 411.3 L470.2 410.3 L470.5 409.4 L470.9 408.5 L471.2 407.5 L471.5 406.6 L471.9 405.7 L472.2 404.8 L472.5 403.9 L472.9 402.9 L473.2 402.0 L473.6 401.1 L473.9 400.2 L474.2 399.3 L474.6 398.4 L474.9 397.5 L475.3 396.6 L475.7 395.7 L476.0 394.8 L476.4 393.8 L476.7 392.9 L477.1 392.0 L477.5 391.1 L477.9 390.2 L478.2 389.3 L478.6 388.4 L479.0 387.5 L479.4 386.6 L479.8 385.7 L480.2 384.8 L480.6 383.9 L481.0 383.0 L481.4 382.1 L481.8 381.1 L482.2 380.2 L482.6 379.3 L483.1 378.4 L483.5 377.5 L483.9 376.6 L484.3 375.7 L484.7 374.8 L485.1 373.8 L485.5 372.9 L486.0 372.0 L486.4 371.1 L486.8 370.2 L487.2 369.3 L487.6 368.3 L488.0 367.4 L488.4 366.5 L488.8 365.6 L489.3 364.6 L489.7 363.7 L490.1 362.8 L490.5 361.9 L490.9 360.9 L491.3 360.0 L491.6 359.1 L492.0 358.1 L492.4 357.2 L492.8 356.3 L493.2 355.3 L493.6 354.4 L493.9 353.5 L494.3 352.5 L494.6 351.6 L495.0 350.7 L495.3 349.7 L495.7 348.8 L496.0 347.8 L496.4 346.9 L496.7 345.9 L497.0 345.0 L497.3 344.0 L497.6 343.1 L497.9 342.1 L498.2 341.2 L498.5 340.2 L498.8 339.3 L499.1 338.3 L499.4 337.4 L499.6 336.4 L499.9 335.4 L500.2 334.5 L500.4 333.5 L500.7 332.6 L501.0 331.6 L501.2 330.6 L501.5 329.7 L501.7 328.7 L502.0 327.7 L502.2 326.8 L502.5 325.8 L502.7 324.8 L503.0 323.9 L503.2 322.9 L503.5 322.0 L503.7 321.0 L504.0 320.0 L504.2 319.1 L504.5 318.1 L504.7 317.1 L505.0 316.2 L505.2 315.2 L505.5 314.2 L505.8 313.3 L506.0 312.3 L506.3 311.4 L506.6 310.4 L506.8 309.4 L507.1 308.5 L507.4 307.5 L507.6 306.6 L507.9 305.6 L508.2 304.7 L508.5 303.7 L508.8 302.7 L509.1 301.8 L509.4 300.8 L509.7 299.9 L510.0 298.9 L510.3 298.0 L510.6 297.0 L510.9 296.1 L511.2 295.1 L511.5 294.2 L511.8 293.2 L512.2 292.3 L512.5 291.3 L512.8 290.4 L513.1 289.4 L513.5 288.5 L513.8 287.5 L514.1 286.6 L514.4 285.6 L514.8 284.7 L515.1 283.8 L515.5 282.8 L515.8 281.9 L516.1 280.9 L516.5 280.0 L516.8 279.0 L517.2 278.1 L517.5 277.2 L517.9 276.2 L518.2 275.3 L518.6 274.4 L518.9 273.4 L519.3 272.5 L519.7 271.5 L520.0 270.6 L520.4 269.7 L520.7 268.7 L521.1 267.8 L521.5 266.9 L521.8 265.9 L522.2 265.0 L522.6 264.1 L522.9 263.1 L523.3 262.2 L523.7 261.3 L524.0 260.3 L524.4 259.4 L524.8 258.5 L525.2 257.5 L525.5 256.6 L525.9 255.7 L526.3 254.8 L526.7 253.8 L527.1 252.9 L527.5 252.0 L527.9 251.1 L528.3 250.2 L528.7 249.3 L529.1 248.4 L529.5 247.5 L530.0 246.6 L530.4 245.7 L530.8 244.8 L531.2 243.9 L531.7 243.0 L532.1 242.1 L532.6 241.2 L533.1 240.3 L533.5 239.4 L534.0 238.6 L534.5 237.7 L535.0 236.8 L535.5 236.0 L536.0 235.1 L536.5 234.3 L537.0 233.4 L537.5 232.6 L538.1 231.7 L538.6 230.9 L539.2 230.1 L539.7 229.3 L540.3 228.4 L540.9 227.6 L541.5 226.8 L542.1 226.0 L542.7 225.2 L543.3 224.5 L543.9 223.7 L544.6 222.9 L545.3 222.2 L545.9 221.4 L546.6 220.7 L547.4 220.0 L548.1 219.4 L548.9 218.7 L549.7 218.1 L550.5 217.6 L551.4 217.1 L552.3 216.6 L553.2 216.1 L554.2 215.8 L555.2 215.4 L556.3 215.2 L557.4 214.9 L558.4 214.8 L559.5 214.7 L560.6 214.6 L561.6 214.6 L562.7 214.7 L563.7 214.8 L564.7 214.9 L565.6 215.2 L566.6 215.4 L567.5 215.8 L568.3 216.1 L569.2 216.6 L570.0 217.0 L570.7 217.5 L571.5 218.1 L572.3 218.6 L573.0 219.3 L573.7 219.9 L574.4 220.6 L575.0 221.3 L575.7 222.0 L576.3 222.7 L576.9 223.5 L577.5 224.3 L578.1 225.1 L578.7 225.9 L579.3 226.7 L579.9 227.5 L580.5 228.4 L581.1 229.2 L581.6 230.0 L582.2 230.9 L582.8 231.7 L583.3 232.6 L583.9 233.4 L584.5 234.2 L585.0 235.1 L585.6 235.9 L586.1 236.8 L586.7 237.6 L587.2 238.5 L587.8 239.3 L588.3 240.1 L588.9 241.0 L589.4 241.8 L589.9 242.7 L590.5 243.5 L591.0 244.4 L591.5 245.3 L592.1 246.1 L592.6 247.0 L593.1 247.8 L593.6 248.7 L594.2 249.5 L594.7 250.4 L595.2 251.3 L595.7 252.1 L596.2 253.0 L596.8 253.8 L597.3 254.7 L597.8 255.6 L598.3 256.4 L598.8 257.3 L599.3 258.2 L599.8 259.0 L600.3 259.9 L600.8 260.8 L601.3 261.6 L601.8 262.5 L602.3 263.4 L602.8 264.3 L603.2 265.1 L603.7 266.0 L604.2 266.9 L604.7 267.8 L605.2 268.6 L605.7 269.5 L606.1 270.4 L606.6 271.3 L607.1 272.2 L607.6 273.0 L608.0 273.9 L608.5 274.8 L609.0 275.7 L609.4 276.6 L609.9 277.5 L610.4 278.3 L610.8 279.2 L611.3 280.1 L611.7 281.0 L612.2 281.9 L612.7 282.8 L613.1 283.7 L613.6 284.6 L614.0 285.5 L614.5 286.3 L614.9 287.2 L615.4 288.1 L615.8 289.0 L616.2 289.9 L616.7 290.8 L617.1 291.7 L617.6 292.6 L618.0 293.5 L618.4 294.4 L618.9 295.3 L619.3 296.2 L619.8 297.1 L620.2 298.0 L620.6 298.9 L621.0 299.8 L621.5 300.7 L621.9 301.6 L622.3 302.5 L622.7 303.4 L623.2 304.3 L623.6 305.2 L624.0 306.1 L624.4 307.0 L624.9 307.9 L625.3 308.9 L625.7 309.8 L626.1 310.7 L626.5 311.6 L626.9 312.5 L627.3 313.4 L627.8 314.3 L628.2 315.2 L628.6 316.1 L629.0 317.0 L629.4 318.0 L629.8 318.9 L630.2 319.8 L630.6 320.7 L631.0 321.6 L631.4 322.5 L631.8 323.4 L632.2 324.3 L632.6 325.3 L633.0 326.2 L633.4 327.1 L633.8 328.0 L634.2 328.9 L634.6 329.8 L635.0 330.8 L635.4 331.7 L635.8 332.6 L636.2 333.5 L636.6 334.4 L636.9 335.4 L637.3 336.3 L637.7 337.2 L638.1 338.1 L638.5 339.0 L638.9 340.0 L639.3 340.9 L639.7 341.8 L640.0 342.7 L640.4 343.7 L640.8 344.6 L641.2 345.5 L641.6 346.4 L642.0 347.4 L642.3 348.3 L642.7 349.2 L643.1 350.1 L643.5 351.1 L643.9 352.0 L644.2 352.9 L644.6 353.8 L645.0 354.8 L645.4 355.7 L645.7 356.6 L646.1 357.5 L646.5 358.5 L646.9 359.4 L647.3 360.3 L647.6 361.2 L648.0 362.2 L648.4 363.1 L648.7 364.0 L649.1 365.0 L649.5 365.9 L649.9 366.8 L650.2 367.7 L650.6 368.7 L651.0 369.6 L651.4 370.5 L651.7 371.5 L652.1 372.4 L652.5 373.3 L652.8 374.2 L653.2 375.2 L653.6 376.1 L653.9 377.0 L654.3 378.0 L654.7 378.9 L655.1 379.8 L655.4 380.8 L655.8 381.7 L656.2 382.6 L656.5 383.5 L656.9 384.5 L657.3 385.4 L657.6 386.3 L658.0 387.3 L658.4 388.2 L658.7 389.1 L659.1 390.1 L659.5 391.0 L659.9 391.9 L660.2 392.8 L660.6 393.8 L661.0 394.7 L661.3 395.6 L661.7 396.6 L662.1 397.5 L662.4 398.4 L662.8 399.4 L663.2 400.3 L663.5 401.2 L663.9 402.2 L664.3 403.1 L664.7 404.0 L665.0 404.9 L665.4 405.9 L665.8 406.8 L666.1 407.7 L666.5 408.7 L666.9 409.6 L667.3 410.5 L667.6 411.4 L668.0 412.4 L668.4 413.3 L668.8 414.2 L669.1 415.2 L669.5 416.1 L669.9 417.0 L670.3 417.9 L670.6 418.9 L671.0 419.8 L671.4 420.7 L671.8 421.6 L672.1 422.6 L672.5 423.5 L672.9 424.4 L673.3 425.4 L673.7 426.3 L674.0 427.2 L674.4 428.1 L674.8 429.1 L675.2 430.0 L675.6 430.9 L675.9 431.8 L676.3 432.8 L676.7 433.7 L677.1 434.6 L677.5 435.5 L677.9 436.4 L678.3 437.4 L678.6 438.3 L679.0 439.2 L679.4 440.1 L679.8 441.1 L680.2 442.0 L680.6 442.9 L681.0 443.8 L681.4 444.7 L681.8 445.7 L682.2 446.6 L682.6 447.5 L683.0 448.4 L683.4 449.3 L683.8 450.2 L684.2 451.2 L684.6 452.1 L685.0 453.0 L685.4 453.9 L685.8 454.8 L686.2 455.7 L686.6 456.7 L687.0 457.6 L687.4 458.5 L687.8 459.4 L688.2 460.3 L688.6 461.2 L689.0 462.1 L689.4 463.1 L689.8 464.0 L690.2 464.9 L690.7 465.8 L691.1 466.7 L691.5 467.6 L691.9 468.5 L692.3 469.4 L692.7 470.3 L693.2 471.2 L693.6 472.1 L694.0 473.0 L694.4 474.0 L694.9 474.9 L695.3 475.8 L695.7 476.7 L696.2 477.6 L696.6 478.5 L697.0 479.4 L697.4 480.3 L697.9 481.2 L698.3 482.1 L698.8 483.0 L699.2 483.9 L699.6 484.8 L700.1 485.7 L700.5 486.6 L701.0 487.5 L701.4 488.4 L701.9 489.3 L702.3 490.1 L702.8 491.0 L703.2 491.9 L703.7 492.8 L704.1 493.7 L704.6 494.6 L705.0 495.5 L705.5 496.4 L705.8 497.0" fill="none" stroke="#00f" stroke-width="5" stroke-linejoin="round" clip-path="url(#ic)"/>
<path d="M285.7 524.9 L293.2 537.9 L278.2 537.9 Z" fill="#00f"/>
<path d="M338.3 446.0 L345.8 459.0 L330.8 459.0 Z" fill="#00f"/>
<path d="M391.7 409.5 L399.2 422.5 L384.2 422.5 Z" fill="#00f"/>
<path d="M445.1 431.3 L452.6 444.3 L437.6 444.3 Z" fill="#00f"/>
<path d="M499.5 328.3 L507.0 341.3 L492.0 341.3 Z" fill="#00f"/>
<path d="M553.6 209.3 L561.1 222.3 L546.1 222.3 Z" fill="#00f"/>
<path d="M607.6 265.1 L615.1 278.1 L600.1 278.1 Z" fill="#00f"/>
<path d="M661.6 388.9 L669.1 401.9 L654.1 401.9 Z" fill="#00f"/>
<g stroke="#000" stroke-width="4.6" fill="none">
<path d="M285.7 172.3 V528.5 H707"/>
<path d="M285.7 528.5 H292.2"/>
<path d="M285.7 469.5 H292.2"/>
<path d="M285.7 410.5 H292.2"/>
<path d="M285.7 351.5 H292.2"/>
<path d="M285.7 292.5 H292.2"/>
<path d="M285.7 233.5 H292.2"/>
<path d="M285.7 174.5 H292.2"/>
<path d="M323.9 528.5 V522.5"/>
<path d="M400.1 528.5 V522.5"/>
<path d="M476.4 528.5 V522.5"/>
<path d="M552.6 528.5 V522.5"/>
<path d="M628.9 528.5 V522.5"/>
<path d="M705.1 528.5 V522.5"/>
</g>
<path d="M158.4 956.0 L159.4 955.9 L160.4 955.9 L161.4 955.9 L162.4 955.9 L163.4 955.8 L164.3 955.8 L165.3 955.8 L166.3 955.8 L167.3 955.8 L168.3 955.7 L169.3 955.7 L170.3 955.7 L171.3 955.7 L172.3 955.7 L173.3 955.7 L174.3 955.6 L175.3 955.6 L176.3 955.6 L177.3 955.6 L178.3 955.6 L179.3 955.6 L180.3 955.6 L181.3 955.6 L182.3 955.6 L183.3 955.6 L184.2 955.5 L185.2 955.5 L186.2 955.5 L187.2 955.5 L188.2 955.5 L189.2 955.5 L190.2 955.5 L191.2 955.5 L192.2 955.5 L193.2 955.5 L194.2 955.5 L195.2 955.5 L196.2 955.5 L197.2 955.5 L198.2 955.5 L199.2 955.5 L200.2 955.5 L201.2 955.5 L202.2 955.5 L203.2 955.5 L204.2 955.5 L205.2 955.5 L206.2 955.5 L207.2 955.5 L208.2 955.5 L209.2 955.5 L210.2 955.6 L211.2 955.6 L212.2 955.6 L213.2 955.6 L214.3 955.6 L215.3 955.6 L216.3 955.6 L217.3 955.6 L218.3 955.6 L219.3 955.6 L220.3 955.6 L221.3 955.6 L222.3 955.6 L223.3 955.7 L224.3 955.7 L225.3 955.7 L226.3 955.7 L227.3 955.7 L228.3 955.7 L229.3 955.7 L230.3 955.7 L231.3 955.7 L232.3 955.8 L233.3 955.8 L234.3 955.8 L235.3 955.8 L236.3 955.8 L237.3 955.8 L238.3 955.8 L239.3 955.8 L240.3 955.9 L241.4 955.9 L242.4 955.9 L243.4 955.9 L244.4 955.9 L245.4 955.9 L246.4 955.9 L247.4 955.9 L248.4 956.0 L249.4 956.0 L250.4 956.0 L251.4 956.0 L252.4 956.0 L253.4 956.0 L254.4 956.0 L255.4 956.1 L256.4 956.1 L257.4 956.1 L258.4 956.1 L259.4 956.1 L260.4 956.1 L261.5 956.1 L262.5 956.1 L263.5 956.2 L264.5 956.2 L265.5 956.2 L266.5 956.2 L267.5 956.2 L268.5 956.2 L269.5 956.2 L270.5 956.2 L271.5 956.2 L272.5 956.2 L273.5 956.3 L274.5 956.3 L275.5 956.3 L276.5 956.3 L277.5 956.3 L278.5 956.3 L279.5 956.3 L280.5 956.3 L281.5 956.3 L282.6 956.3 L283.6 956.3 L284.6 956.3 L285.6 956.4 L286.6 956.4 L287.6 956.4 L288.6 956.4 L289.6 956.4 L290.6 956.4 L291.6 956.4 L292.6 956.4 L293.6 956.4 L294.6 956.4 L295.6 956.4 L296.6 956.4 L297.6 956.4 L298.6 956.4 L299.6 956.4 L300.6 956.4 L301.6 956.4 L302.6 956.4 L303.6 956.4 L304.6 956.4 L305.6 956.4 L306.6 956.4 L307.6 956.4 L308.6 956.4 L309.6 956.4 L310.6 956.4 L311.6 956.4 L312.6 956.4 L313.6 956.3 L314.6 956.3 L315.6 956.3 L316.6 956.3 L317.6 956.3 L318.6 956.3 L319.6 956.3 L320.6 956.3 L321.6 956.3 L322.6 956.2 L323.6 956.2 L324.6 956.2 L325.6 956.2 L326.6 956.2 L327.6 956.2 L328.6 956.1 L329.6 956.1 L330.6 956.1 L331.6 956.1 L332.6 956.1 L333.6 956.0 L334.6 956.0 L335.6 956.0 L336.6 956.0 L337.6 955.9 L338.6 955.9 L339.6 955.9 L340.6 955.9 L341.6 955.8 L342.6 955.8 L343.6 955.8 L344.6 955.7 L345.5 955.7 L346.5 955.7 L347.5 955.6 L348.5 955.6 L349.5 955.6 L350.5 955.5 L351.5 955.5 L352.5 955.5 L353.5 955.4 L354.5 955.4 L355.5 955.3 L356.5 955.3 L357.5 955.3 L358.5 955.2 L359.5 955.2 L360.5 955.1 L361.4 955.1 L362.4 955.0 L363.4 955.0 L364.4 954.9 L365.4 954.9 L366.4 954.8 L367.4 954.8 L368.4 954.7 L369.4 954.7 L370.4 954.6 L371.4 954.6 L372.4 954.5 L373.4 954.5 L374.3 954.4 L375.3 954.4 L376.3 954.3 L377.3 954.3 L378.3 954.2 L379.3 954.2 L380.3 954.1 L381.3 954.0 L382.3 954.0 L383.3 953.9 L384.3 953.9 L385.3 953.8 L386.2 953.7 L387.2 953.7 L388.2 953.6 L389.2 953.5 L390.2 953.5 L391.2 953.4 L392.2 953.3 L393.2 953.3 L394.2 953.2 L395.2 953.1 L396.2 953.1 L397.2 953.0 L398.2 952.9 L399.1 952.8 L400.1 952.8 L401.1 952.7 L402.1 952.6 L403.1 952.6 L404.1 952.5 L405.1 952.4 L406.1 952.3 L407.1 952.2 L408.1 952.2 L409.1 952.1 L410.1 952.0 L411.1 951.9 L412.1 951.8 L413.1 951.8 L414.0 951.7 L415.0 951.6 L416.0 951.5 L417.0 951.4 L418.0 951.3 L419.0 951.3 L420.0 951.2 L421.0 951.1 L422.0 951.0 L423.0 950.9 L424.0 950.8 L425.0 950.7 L426.0 950.6 L427.0 950.6 L428.0 950.5 L429.0 950.4 L430.0 950.3 L431.0 950.2 L432.0 950.1 L433.0 950.0 L434.0 949.9 L435.0 949.8 L436.0 949.7 L437.0 949.6 L438.0 949.5 L439.0 949.4 L440.0 949.3 L441.0 949.2 L442.0 949.1 L443.0 949.0 L444.0 948.9 L445.0 948.8 L446.0 948.7 L447.0 948.6 L448.0 948.5 L449.0 948.4 L450.0 948.3 L451.0 948.2 L452.0 948.1 L453.0 948.0 L454.0 947.9 L455.0 947.8 L456.0 947.7 L457.0 947.5 L458.0 947.4 L459.0 947.3 L460.0 947.2 L461.0 947.1 L462.0 947.0 L463.0 946.9 L464.0 946.8 L465.0 946.6 L466.0 946.5 L467.0 946.4 L468.0 946.3 L469.0 946.2 L470.0 946.0 L471.0 945.9 L472.0 945.8 L473.0 945.6 L474.0 945.5 L475.0 945.4 L476.0 945.3 L477.0 945.1 L478.0 945.0 L479.0 944.8 L480.0 944.7 L481.1 944.6 L482.1 944.4 L483.1 944.3 L484.1 944.1 L485.1 944.0 L486.1 943.8 L487.1 943.7 L488.0 943.5 L489.0 943.4 L490.0 943.2 L491.0 943.1 L492.0 942.9 L493.0 942.7 L494.0 942.6 L495.0 942.4 L496.0 942.2 L497.0 942.1 L498.0 941.9 L499.0 941.7 L500.0 941.5 L501.0 941.4 L502.0 941.2 L503.0 941.0 L503.9 940.8 L504.9 940.6 L505.9 940.4 L506.9 940.2 L507.9 940.0 L508.9 939.8 L509.9 939.6 L510.8 939.4 L511.8 939.2 L512.8 939.0 L513.8 938.8 L514.8 938.5 L515.7 938.3 L516.7 938.1 L517.7 937.9 L518.7 937.6 L519.6 937.4 L520.6 937.2 L521.6 936.9 L522.6 936.7 L523.5 936.4 L524.5 936.2 L525.5 935.9 L526.4 935.7 L527.4 935.4 L528.4 935.2 L529.3 934.9 L530.3 934.6 L531.2 934.3 L532.2 934.1 L533.2 933.8 L534.1 933.5 L535.1 933.2 L536.0 932.9 L537.0 932.6 L537.9 932.3 L538.9 932.0 L539.8 931.7 L540.8 931.4 L541.7 931.1 L542.6 930.8 L543.6 930.5 L544.5 930.1 L545.5 929.8 L546.4 929.5 L547.3 929.1 L548.3 928.8 L549.2 928.4 L550.1 928.1 L551.1 927.7 L552.0 927.4 L552.9 927.0 L553.8 926.6 L554.7 926.3 L555.7 925.9 L556.6 925.5 L557.5 925.1 L558.4 924.7 L559.3 924.3 L560.2 923.9 L561.1 923.5 L562.0 923.1 L562.9 922.7 L563.8 922.3 L564.7 921.9 L565.6 921.4 L566.5 921.0 L567.4 920.6 L568.3 920.1 L569.2 919.7 L570.1 919.2 L571.0 918.8 L571.9 918.3 L572.7 917.8 L573.6 917.3 L574.5 916.9 L575.4 916.4 L576.2 915.9 L577.1 915.4 L578.0 914.9 L578.8 914.4 L579.7 913.9 L580.6 913.4 L581.4 912.8 L582.3 912.3 L583.1 911.8 L584.0 911.2 L584.8 910.7 L585.7 910.2 L586.5 909.6 L587.3 909.0 L588.2 908.5 L589.0 907.9 L589.8 907.3 L590.7 906.7 L591.5 906.2 L592.3 905.6 L593.1 905.0 L594.0 904.4 L594.8 903.8 L595.6 903.2 L596.4 902.5 L597.2 901.9 L598.0 901.3 L598.8 900.7 L599.6 900.0 L600.4 899.4 L601.2 898.8 L602.0 898.1 L602.7 897.5 L603.5 896.8 L604.3 896.2 L605.1 895.5 L605.8 894.8 L606.6 894.2 L607.4 893.5 L608.1 892.8 L608.9 892.1 L609.6 891.5 L610.4 890.8 L611.1 890.1 L611.9 889.4 L612.6 888.7 L613.3 888.0 L614.0 887.3 L614.8 886.6 L615.5 885.9 L616.2 885.2 L616.9 884.4 L617.6 883.7 L618.3 883.0 L619.0 882.3 L619.7 881.6 L620.4 880.8 L621.1 880.1 L621.8 879.4 L622.5 878.6 L623.1 877.9 L623.8 877.2 L624.5 876.4 L625.2 875.7 L625.8 874.9 L626.5 874.2 L627.1 873.4 L627.8 872.7 L628.4 871.9 L629.1 871.1 L629.7 870.4 L630.3 869.6 L631.0 868.8 L631.6 868.1 L632.2 867.3 L632.8 866.5 L633.4 865.7 L634.1 865.0 L634.7 864.2 L635.3 863.4 L635.9 862.6 L636.5 861.8 L637.1 861.0 L637.6 860.2 L638.2 859.4 L638.8 858.6 L639.4 857.8 L640.0 857.0 L640.5 856.2 L641.1 855.4 L641.7 854.6 L642.2 853.8 L642.8 853.0 L643.4 852.2 L643.9 851.3 L644.5 850.5 L645.0 849.7 L645.6 848.9 L646.1 848.0 L646.6 847.2 L647.2 846.4 L647.7 845.5 L648.2 844.7 L648.7 843.9 L649.3 843.0 L649.8 842.2 L650.3 841.3 L650.8 840.5 L651.3 839.6 L651.8 838.8 L652.3 837.9 L652.8 837.1 L653.3 836.2 L653.8 835.4 L654.3 834.5 L654.8 833.7 L655.3 832.8 L655.7 831.9 L656.2 831.1 L656.7 830.2 L657.2 829.3 L657.6 828.4 L658.1 827.6 L658.6 826.7 L659.0 825.8 L659.5 824.9 L659.9 824.1 L660.4 823.2 L660.8 822.3 L661.3 821.4 L661.7 820.5 L662.2 819.6 L662.6 818.7 L663.1 817.8 L663.5 817.0 L663.9 816.1 L664.3 815.2 L664.8 814.3 L665.2 813.4 L665.6 812.5 L666.0 811.6 L666.5 810.7 L666.9 809.7 L667.3 808.8 L667.7 807.9 L668.1 807.0 L668.5 806.1 L668.9 805.2 L669.3 804.3 L669.7 803.4 L670.1 802.5 L670.5 801.5 L670.9 800.6 L671.3 799.7 L671.6 798.8 L672.0 797.8 L672.4 796.9 L672.8 796.0 L673.2 795.1 L673.5 794.1 L673.9 793.2 L674.3 792.3 L674.6 791.3 L675.0 790.4 L675.4 789.5 L675.7 788.5 L676.1 787.6 L676.4 786.7 L676.8 785.7 L677.2 784.8 L677.5 783.9 L677.9 782.9 L678.2 782.0 L678.5 781.0 L678.9 780.1 L679.2 779.1 L679.6 778.2 L679.9 777.2 L680.2 776.3 L680.6 775.3 L680.9 774.4 L681.2 773.4 L681.6 772.5 L681.9 771.5 L682.2 770.6 L682.5 769.6 L682.9 768.7 L683.2 767.7 L683.5 766.8 L683.8 765.8 L684.1 764.8 L684.4 763.9 L684.8 762.9 L685.1 762.0 L685.4 761.0 L685.7 760.0 L686.0 759.1 L686.3 758.1 L686.6 757.1 L686.9 756.2 L687.2 755.2 L687.5 754.2 L687.8 753.3 L688.1 752.3 L688.4 751.3 L688.7 750.4 L689.0 749.4 L689.3 748.4 L689.5 747.5 L689.8 746.5 L690.1 745.5 L690.4 744.5 L690.7 743.6 L691.0 742.6 L691.3 741.6 L691.5 740.6 L691.8 739.7 L692.1 738.7 L692.4 737.7 L692.6 736.8 L692.9 735.8 L693.2 734.8 L693.5 733.8 L693.7 732.8 L694.0 731.9 L694.3 730.9 L694.5 729.9 L694.8 728.9 L695.1 728.0 L695.3 727.0 L695.6 726.0 L695.9 725.0 L696.1 724.0 L696.4 723.1 L696.6 722.1 L696.9 721.1 L697.2 720.1 L697.4 719.2 L697.7 718.2 L697.9 717.2 L698.2 716.2 L698.4 715.2 L698.7 714.3 L699.0 713.3 L699.2 712.3 L699.5 711.3 L699.7 710.3 L700.0 709.4 L700.2 708.4 L700.5 707.4 L700.7 706.4 L701.0 705.4 L701.2 704.5 L701.5 703.5 L701.7 702.5 L701.9 701.5 L702.2 700.5 L702.4 699.6 L702.7 698.6 L702.9 697.6 L703.2 696.6 L703.4 695.6 L703.6 694.7 L703.9 693.7 L704.1 692.7 L704.4 691.7 L704.6 690.7 L704.8 689.8 L705.1 688.8 L705.3 687.8 L705.5 686.8 L705.8 685.8 L706.0 684.9 L706.2 683.9 L706.5 682.9 L706.7 681.9 L706.9 680.9 L707.2 679.9 L707.4 679.0 L707.6 678.0 L707.8 677.0 L708.1 676.0 L708.3 675.0 L708.5 674.1 L708.7 673.1 L709.0 672.1 L709.2 671.1 L709.4 670.1 L709.6 669.1 L709.9 668.2 L710.1 667.2 L710.3 666.2 L710.5 665.2 L710.7 664.2 L711.0 663.3 L711.2 662.3 L711.4 661.3 L711.6 660.3 L711.8 659.3 L712.0 658.3 L712.3 657.4 L712.5 656.4 L712.7 655.4 L712.9 654.4 L713.1 653.4 L713.3 652.4 L713.5 651.5 L713.8 650.5 L714.0 649.5 L714.2 648.5 L714.4 647.5 L714.6 646.6 L714.8 645.6 L715.0 644.6 L715.2 643.6 L715.4 642.6 L715.6 641.6 L715.8 640.7 L716.0 639.7 L716.3 638.7 L716.5 637.7 L716.7 636.7 L716.9 635.7 L717.1 634.8 L717.3 633.8 L717.5 632.8 L717.7 631.8 L717.9 630.8 L718.1 629.8 L718.3 628.9 L718.5 627.9 L718.7 626.9 L718.9 625.9 L719.1 624.9 L719.3 623.9 L719.5 622.9 L719.7 622.0 L719.8 621.0 L720.0 620.0 L720.2 619.0 L720.4 618.0 L720.6 617.0 L720.8 616.1 L721.0 615.1 L721.2 614.1 L721.4 613.1 L721.6 612.1 L721.8 611.1 L722.0 610.2 L722.2 609.2 L722.3 608.2 L722.5 607.2 L722.7 606.2 L722.9 605.2 L723.1 604.2 L723.3 603.3 L723.5 602.3 L723.7 601.3 L723.8 600.3 L724.0 599.3 L724.2 598.3 L724.4 597.3 L724.6 596.4 L724.8 595.4 L724.9 594.4 L725.1 593.4 L725.3 592.4 L725.5 591.4 L725.7 590.5 L725.9 589.5 L726.0 588.5 L726.2 587.5 L726.4 586.5 L726.6 585.5 L726.8 584.5 L726.9 583.6 L727.1 582.6 L727.3 581.6 L727.5 580.6 L727.6 579.6 L727.8 578.6 L728.0 577.6 L728.2 576.7 L728.3 575.7 L728.5 574.7 L728.7 573.7 L728.9 572.7 L729.0 571.7 L729.2 570.7 L729.4 569.8 L729.6 568.8 L729.7 567.8 L729.9 566.8 L730.1 565.8 L730.3 564.8 L730.4 563.8 L730.6 562.8 L730.8 561.9 L730.9 560.9 L731.1 559.9 L731.3 558.9 L731.4 557.9 L731.6 556.9 L731.8 555.9 L731.9 555.0 L732.1 554.0 L732.3 553.0 L732.5 552.0 L732.6 551.0 L732.8 550.0 L733.0 549.0 L733.1 548.1 L733.3 547.1 L733.4 546.1 L733.6 545.1 L733.8 544.1 L733.9 543.1 L734.1 542.1 L734.3 541.1 L734.4 540.2 L734.6 539.2 L734.8 538.2 L734.9 537.2 L735.1 536.2 L735.3 535.2 L735.4 534.2 L735.6 533.2 L735.7 532.3 L735.9 531.3 L736.1 530.3 L736.2 529.3 L736.4 528.3 L736.5 527.3 L736.7 526.3 L736.9 525.3 L737.0 524.4 L737.2 523.4 L737.3 522.4 L737.5 521.4 L737.7 520.4 L737.8 519.4 L738.0 518.4 L738.1 517.4 L738.3 516.5 L738.5 515.5 L738.6 514.5 L738.8 513.5 L738.9 512.5 L739.1 511.5 L739.2 510.5 L739.4 509.5 L739.5 508.6 L739.7 507.6 L739.9 506.6 L740.0 505.6 L740.2 504.6 L740.3 503.6 L740.5 502.6 L740.6 501.6 L740.8 500.7 L740.9 499.7 L741.1 498.7 L741.3 497.7 L741.4 496.7 L741.6 495.7 L741.7 494.7 L741.9 493.7 L742.0 492.7 L742.2 491.8 L742.3 490.8 L742.5 489.8 L742.6 488.8 L742.8 487.8 L742.9 486.8 L743.1 485.8 L743.3 484.8 L743.4 483.9 L743.6 482.9 L743.7 481.9 L743.9 480.9 L744.0 479.9 L744.2 478.9 L744.3 477.9 L744.5 476.9 L744.6 475.9 L744.8 475.0 L744.9 474.0 L745.1 473.0 L745.2 472.0 L745.4 471.0 L745.5 470.0 L745.7 469.0 L745.8 468.0 L746.0 467.0 L746.1 466.1 L746.3 465.1 L746.4 464.1 L746.6 463.1 L746.7 462.1 L746.9 461.1 L747.0 460.1 L747.2 459.1 L747.3 458.1 L747.5 457.2 L747.6 456.2 L747.8 455.2 L747.9 454.2 L748.1 453.2 L748.2 452.2 L748.4 451.2 L748.5 450.2 L748.7 449.2 L748.8 448.3 L749.0 447.3 L749.1 446.3 L749.3 445.3 L749.4 444.3 L749.6 443.3 L749.7 442.3 L749.9 441.3 L750.0 440.3 L750.2 439.4 L750.3 438.4 L750.5 437.4 L750.6 436.4 L750.8 435.4 L750.9 434.4 L751.1 433.4 L751.2 432.4 L751.4 431.4 L751.5 430.5 L751.7 429.5 L751.8 428.5 L752.0 427.5 L752.1 426.5 L752.3 425.5 L752.4 424.5 L752.6 423.5 L752.7 422.5 L752.9 421.5 L753.0 420.6 L753.2 419.6 L753.3 418.6 L753.5 417.6 L753.6 416.6 L753.8 415.6 L753.9 414.6 L754.1 413.6 L754.2 412.6 L754.4 411.7 L754.5 410.7 L754.7 409.7 L754.8 408.7 L755.0 407.7 L755.1 406.7 L755.3 405.7 L755.4 404.7 L755.6 403.7 L755.7 402.7 L755.9 401.8 L756.0 400.8 L756.2 399.8 L756.3 398.8 L756.5 397.8 L756.6 396.8 L756.8 395.8 L756.9 394.8 L757.1 393.8 L757.3 392.9 L757.4 391.9 L757.6 390.9 L757.7 389.9 L757.9 388.9 L758.0 387.9 L758.2 386.9 L758.3 385.9 L758.5 384.9 L758.6 383.9 L758.8 383.0 L758.9 382.0 L759.1 381.0 L759.2 380.0 L759.4 379.0 L759.6 378.0 L759.7 377.0 L759.9 376.0 L760.0 375.0 L760.2 374.0 L760.3 373.1 L760.5 372.1 L760.6 371.1 L760.8 370.1 L761.0 369.1 L761.1 368.1 L761.3 367.1 L761.4 366.1 L761.6 365.1 L761.7 364.1 L761.9 363.2 L762.0 362.2 L762.2 361.2 L762.4 360.2 L762.5 359.2 L762.7 358.2 L762.8 357.2 L763.0 356.2 L763.2 355.2 L763.3 354.2 L763.5 353.3 L763.6 352.3 L763.8 351.3 L764.0 350.3 L764.1 349.3 L764.3 348.3 L764.4 347.3 L764.6 346.3 L764.8 345.3 L764.9 344.4 L765.1 343.4 L765.2 342.4 L765.4 341.4 L765.6 340.4 L765.7 339.4 L765.9 338.4 L766.1 337.4 L766.2 336.4 L766.4 335.4 L766.6 334.5 L766.7 333.5 L766.9 332.5 L767.0 331.5 L767.2 330.5 L767.4 329.5 L767.5 328.5 L767.7 327.5 L767.9 326.5 L768.0 325.5 L768.2 324.6 L768.4 323.6 L768.5 322.6 L768.7 321.6 L768.9 320.6 L769.0 319.6 L769.2 318.6 L769.4 317.6 L769.6 316.6 L769.7 315.6 L769.9 314.7 L770.1 313.7 L770.3 312.7 L770.4 311.7 L770.6 310.7 L770.8 309.7 L771.0 308.7 L771.2 307.7 L771.4 306.7 L771.6 305.7 L771.8 304.8 L772.0 303.8 L772.2 302.8 L772.4 301.8 L772.6 300.8 L772.8 299.8 L773.1 298.8 L773.3 297.8 L773.5 296.8 L773.8 295.8 L774.0 294.9 L774.3 293.9 L774.5 292.9 L774.8 291.9 L775.1 290.9 L775.3 289.9 L775.6 288.9 L775.9 287.9 L776.2 286.9 L776.5 285.9 L776.8 284.9 L777.1 283.9 L777.5 283.0 L777.8 282.0 L778.1 281.0 L778.5 280.0 L778.8 279.0 L779.2 278.0 L779.6 277.0 L779.9 276.0 L780.3 275.0 L780.7 274.0 L781.2 273.0 L781.6 272.0 L782.0 271.0 L782.4 270.1 L782.9 269.1 L783.4 268.1 L783.9 267.2 L784.4 266.3 L784.9 265.5 L785.4 264.6 L786.0 263.9 L786.5 263.1 L787.1 262.4 L787.7 261.8 L788.4 261.3 L789.0 260.8 L789.7 260.4 L790.4 260.0 L791.2 259.8 L791.9 259.6 L792.7 259.6 L793.5 259.6 L794.3 259.7 L795.1 259.9 L795.9 260.2 L796.6 260.5 L797.4 261.0 L798.1 261.6 L798.7 262.2 L799.4 263.0 L800.0 263.8 L800.6 264.7 L801.1 265.6 L801.6 266.5 L802.1 267.5 L802.5 268.6 L802.9 269.6 L803.3 270.7 L803.7 271.7 L804.1 272.8 L804.4 273.9 L804.8 274.9 L805.1 275.9 L805.5 277.0 L805.9 277.9 L806.3 278.9 L806.7 279.8 L807.1 280.6 L807.6 281.4 L808.1 282.1 L808.7 282.8 L808.8 282.9 L808.8 282.9 L809.0 282.1 L809.2 281.3 L809.4 280.5 L809.6 279.6 L809.8 278.8 L810.0 277.9 L810.1 277.1 L810.3 276.2 L810.5 275.4 L810.7 274.5 L810.8 273.6 L811.0 272.8 L811.1 271.9 L811.3 271.0 L811.4 270.2 L811.6 269.3 L811.7 268.4 L811.9 267.5 L812.0 266.6 L812.1 265.6 L812.3 264.7 L812.4 263.7 L812.5 262.7 L812.6 261.7 L812.8 260.7 L812.9 259.7 L813.0 258.7 L813.1 257.7 L813.2 256.7 L813.3 255.8 L813.5 254.8 L813.6 253.8 L813.7 252.8 L813.8 251.8 L813.9 250.8 L814.0 249.8 L814.1 248.8 L814.3 247.8 L814.4 246.8 L814.5 245.9 L814.6 244.9 L814.7 243.9 L814.8 242.9 L814.9 241.9 L815.1 240.9 L815.2 239.9 L815.3 238.9 L815.4 237.9 L815.5 236.9 L815.7 236.0 L815.8 235.0 L815.9 234.0 L816.1 233.0 L816.2 232.0 L816.3 231.0 L816.5 230.0 L816.6 229.0 L816.8 228.0 L816.9 227.0 L817.1 226.1 L817.2 225.1 L817.4 224.1 L817.5 223.1 L817.7 222.1 L817.9 221.1 L818.0 220.1 L818.2 219.1 L818.4 218.1 L818.6 217.2 L818.7 216.2 L818.9 215.2 L819.1 214.2 L819.3 213.2 L819.5 212.2 L819.7 211.2 L819.8 210.2 L820.0 209.3 L820.2 208.3 L820.4 207.3 L820.6 206.3 L820.8 205.3 L821.0 204.3 L821.2 203.3 L821.4 202.4 L821.6 201.4 L821.8 200.4 L822.0 199.4 L822.2 198.4 L822.4 197.4 L822.6 196.4 L822.8 195.5 L823.0 194.5 L823.2 193.5 L823.4 192.5 L823.6 191.5 L823.8 190.6 L824.0 189.6 L824.2 188.6 L824.4 187.6 L824.6 186.6 L824.7 185.6 L824.9 184.7 L825.1 183.7 L825.3 182.7 L825.5 181.7 L825.7 180.8 L825.9 179.8 L826.1 178.8 L826.2 177.8 L826.4 176.8 L826.6 175.9 L826.8 174.9 L826.9 173.9 L827.1 172.9 L827.3 172.0 L827.4 171.0 L827.6 170.0 L827.8 169.0 L827.9 168.1 L828.1 167.1 L828.2 166.1 L828.4 165.2 L828.5 164.2 L828.7 163.2 L828.8 162.3 L828.9 161.3 L829.1 160.3 L829.2 159.4 L829.3 158.4 L829.4 157.4 L829.6 156.4 L829.7 155.5 L829.8 154.5 L830.0 153.5 L830.1 152.5 L830.2 151.5 L830.4 150.5 L830.6 149.5 L830.7 148.5 L830.9 147.4 L831.1 146.4 L831.4 145.3 L831.6 144.2 L831.9 143.1 L832.1 142.0 L832.4 140.9 L832.8 139.8 L833.1 138.6 L833.5 137.4 L833.9 136.3 L834.3 135.3 L834.8 134.5 L835.3 133.8 L835.9 133.4 L836.5 133.2 L837.2 133.3 L837.8 133.6 L838.4 134.0 L839.1 134.4 L839.6 134.9 L840.2 135.4 L840.7 136.0 L841.2 136.6 L841.6 137.2 L842.0 137.9 L842.5 138.6 L842.8 139.3 L843.2 140.1 L843.5 140.9 L843.8 141.7 L844.1 142.6 L844.4 143.4 L844.7 144.3 L844.9 145.3 L845.2 146.2 L845.4 147.2 L845.6 148.2 L845.7 149.2 L845.9 150.2 L846.1 151.2 L846.2 152.3 L846.4 153.4 L846.5 154.4 L846.6 155.5 L846.8 156.6 L846.9 157.7 L847.0 158.8 L847.1 159.9 L847.2 161.0 L847.3 162.1 L847.4 163.2 L847.5 164.3 L847.6 165.3 L847.8 166.4 L847.9 167.5 L848.0 168.6 L848.1 169.6 L848.3 170.7 L848.4 171.7 L848.5 172.8 L848.7 173.8 L848.8 174.8 L848.9 175.8 L849.1 176.9 L849.2 177.9 L849.4 178.9 L849.5 179.9 L849.7 180.9 L849.8 181.9 L850.0 182.9 L850.2 183.9 L850.3 184.8 L850.5 185.8 L850.6 186.8 L850.8 187.8 L851.0 188.8 L851.1 189.8 L851.3 190.7 L851.4 191.7 L851.6 192.7 L851.8 193.7 L851.9 194.7 L852.1 195.7 L852.2 196.6 L852.4 197.6 L852.6 198.6 L852.7 199.6 L852.9 200.6 L853.0 201.6 L853.2 202.5 L853.3 203.5 L853.5 204.5 L853.7 205.5 L853.8 206.5 L854.0 207.5 L854.1 208.4 L854.3 209.4 L854.4 210.4 L854.6 211.4 L854.8 212.4 L854.9 213.4 L855.1 214.3 L855.2 215.3 L855.4 216.3 L855.5 217.3 L855.7 218.3 L855.8 219.3 L856.0 220.3 L856.1 221.2 L856.3 222.2 L856.5 223.2 L856.6 224.2 L856.8 225.2 L856.9 226.2 L857.1 227.2 L857.2 228.1 L857.4 229.1 L857.5 230.1 L857.7 231.1 L857.8 232.1 L858.0 233.1 L858.1 234.0 L858.3 235.0 L858.4 236.0 L858.6 237.0 L858.7 238.0 L858.9 239.0 L859.0 240.0 L859.2 240.9 L859.3 241.9 L859.5 242.9 L859.6 243.9 L859.8 244.9 L859.9 245.9 L860.1 246.9 L860.2 247.8 L860.4 248.8 L860.5 249.8 L860.7 250.8 L860.8 251.8 L861.0 252.8 L861.1 253.8 L861.3 254.8 L861.4 255.7 L861.6 256.7 L861.7 257.7 L861.9 258.7 L862.0 259.7 L862.2 260.7 L862.3 261.7 L862.5 262.6 L862.6 263.6 L862.8 264.6 L862.9 265.6 L863.1 266.6 L863.2 267.6 L863.4 268.6 L863.5 269.6 L863.7 270.5 L863.8 271.5 L864.0 272.5 L864.1 273.5 L864.3 274.5 L864.4 275.5 L864.5 276.5 L864.7 277.4 L864.8 278.4 L865.0 279.4 L865.1 280.4 L865.3 281.4 L865.4 282.4 L865.6 283.4 L865.7 284.4 L865.9 285.3 L866.0 286.3 L866.2 287.3 L866.3 288.3 L866.5 289.3 L866.6 290.3 L866.7 291.3 L866.9 292.3 L867.0 293.2 L867.2 294.2 L867.3 295.2 L867.5 296.2 L867.6 297.2 L867.8 298.2 L867.9 299.2 L868.1 300.2 L868.2 301.1 L868.4 302.1 L868.5 303.1 L868.6 304.1 L868.8 305.1 L868.9 306.1 L869.1 307.1 L869.2 308.1 L869.4 309.1 L869.5 310.0 L869.7 311.0 L869.8 312.0 L870.0 313.0 L870.1 314.0 L870.3 315.0 L870.4 316.0 L870.5 317.0 L870.7 317.9 L870.8 318.9 L871.0 319.9 L871.1 320.9 L871.3 321.9 L871.4 322.9 L871.6 323.9 L871.7 324.9 L871.9 325.9 L872.0 326.8 L872.2 327.8 L872.3 328.8 L872.4 329.8 L872.6 330.8 L872.7 331.8 L872.9 332.8 L873.0 333.8 L873.2 334.7 L873.3 335.7 L873.5 336.7 L873.6 337.7 L873.8 338.7 L873.9 339.7 L874.1 340.7 L874.2 341.7 L874.4 342.7 L874.5 343.6 L874.6 344.6 L874.8 345.6 L874.9 346.6 L875.1 347.6 L875.2 348.6 L875.4 349.6 L875.5 350.6 L875.7 351.5 L875.8 352.5 L876.0 353.5 L876.1 354.5 L876.3 355.5 L876.4 356.5 L876.6 357.5 L876.7 358.5 L876.9 359.5 L877.0 360.4 L877.2 361.4 L877.3 362.4 L877.5 363.4 L877.6 364.4 L877.8 365.4 L877.9 366.4 L878.1 367.4 L878.2 368.3 L878.4 369.3 L878.5 370.3 L878.6 371.3 L878.8 372.3 L878.9 373.3 L879.1 374.3 L879.2 375.3 L879.4 376.3 L879.6 377.2 L879.7 378.2 L879.9 379.2 L880.0 380.2 L880.2 381.2 L880.3 382.2 L880.5 383.2 L880.6 384.2 L880.8 385.1 L880.9 386.1 L881.1 387.1 L881.2 388.1 L881.4 389.1 L881.5 390.1 L881.7 391.1 L881.8 392.1 L882.0 393.0 L882.1 394.0 L882.3 395.0 L882.4 396.0 L882.6 397.0 L882.7 398.0 L882.9 399.0 L883.1 400.0 L883.2 400.9 L883.4 401.9 L883.5 402.9 L883.7 403.9 L883.8 404.9 L884.0 405.9 L884.1 406.9 L884.3 407.9 L884.4 408.8 L884.6 409.8 L884.8 410.8 L884.9 411.8 L885.1 412.8 L885.2 413.8 L885.4 414.8 L885.5 415.8 L885.7 416.7 L885.9 417.7 L886.0 418.7 L886.2 419.7 L886.3 420.7 L886.5 421.7 L886.7 422.7 L886.8 423.7 L887.0 424.6 L887.1 425.6 L887.3 426.6 L887.5 427.6 L887.6 428.6 L887.8 429.6 L887.9 430.6 L888.1 431.5 L888.3 432.5 L888.4 433.5 L888.6 434.5 L888.7 435.5 L888.9 436.5 L889.1 437.5 L889.2 438.5 L889.4 439.4 L889.6 440.4 L889.7 441.4 L889.9 442.4 L890.0 443.4 L890.2 444.4 L890.4 445.4 L890.5 446.3 L890.7 447.3 L890.9 448.3 L891.0 449.3 L891.2 450.3 L891.4 451.3 L891.5 452.3 L891.7 453.2 L891.9 454.2 L892.0 455.2 L892.2 456.2 L892.4 457.2 L892.5 458.2 L892.7 459.2 L892.9 460.1 L893.0 461.1 L893.2 462.1 L893.4 463.1 L893.6 464.1 L893.7 465.1 L893.9 466.0 L894.1 467.0 L894.2 468.0 L894.4 469.0 L894.6 470.0 L894.8 471.0 L894.9 472.0 L895.1 472.9 L895.3 473.9 L895.4 474.9 L895.6 475.9 L895.8 476.9 L896.0 477.9 L896.1 478.8 L896.3 479.8 L896.5 480.8 L896.7 481.8 L896.8 482.8 L897.0 483.8 L897.2 484.7 L897.4 485.7 L897.6 486.7 L897.7 487.7 L897.9 488.7 L898.1 489.7 L898.3 490.6 L898.5 491.6 L898.6 492.6 L898.8 493.6 L899.0 494.6 L899.2 495.6 L899.4 496.5 L899.5 497.5 L899.7 498.5 L899.9 499.5 L900.1 500.5 L900.3 501.5 L900.5 502.4 L900.6 503.4 L900.8 504.4 L901.0 505.4 L901.2 506.4 L901.4 507.4 L901.6 508.3 L901.8 509.3 L901.9 510.3 L902.1 511.3 L902.3 512.3 L902.5 513.2 L902.7 514.2 L902.9 515.2 L903.1 516.2 L903.3 517.2 L903.4 518.2 L903.6 519.1 L903.8 520.1 L904.0 521.1 L904.2 522.1 L904.4 523.1 L904.6 524.0 L904.8 525.0 L905.0 526.0 L905.2 527.0 L905.4 528.0 L905.6 528.9 L905.8 529.9 L906.0 530.9 L906.2 531.9 L906.4 532.9 L906.6 533.8 L906.8 534.8 L906.9 535.8 L907.1 536.8 L907.3 537.8 L907.5 538.7 L907.7 539.7 L907.9 540.7 L908.1 541.7 L908.3 542.7 L908.6 543.6 L908.8 544.6 L909.0 545.6 L909.2 546.6 L909.4 547.5 L909.6 548.5 L909.8 549.5 L910.0 550.5 L910.2 551.5 L910.4 552.4 L910.6 553.4 L910.8 554.4 L911.0 555.4 L911.2 556.3 L911.4 557.3 L911.6 558.3 L911.8 559.3 L912.1 560.3 L912.3 561.2 L912.5 562.2 L912.7 563.2 L912.9 564.2 L913.1 565.1 L913.3 566.1 L913.5 567.1 L913.8 568.1 L914.0 569.0 L914.2 570.0 L914.4 571.0 L914.6 572.0 L914.8 573.0 L915.1 573.9 L915.3 574.9 L915.5 575.9 L915.7 576.9 L915.9 577.8 L916.2 578.8 L916.4 579.8 L916.6 580.8 L916.8 581.7 L917.0 582.7 L917.3 583.7 L917.5 584.7 L917.7 585.6 L917.9 586.6 L918.2 587.6 L918.4 588.6 L918.6 589.5 L918.8 590.5 L919.1 591.5 L919.3 592.4 L919.5 593.4 L919.8 594.4 L920.0 595.4 L920.2 596.3 L920.4 597.3 L920.7 598.3 L920.9 599.3 L921.1 600.2 L921.4 601.2 L921.6 602.2 L921.8 603.2 L922.1 604.1 L922.3 605.1 L922.5 606.1 L922.8 607.0 L923.0 608.0 L923.3 609.0 L923.5 610.0 L923.7 610.9 L924.0 611.9 L924.2 612.9 L924.5 613.8 L924.7 614.8 L924.9 615.8 L925.2 616.7 L925.4 617.7 L925.7 618.7 L925.9 619.7 L926.2 620.6 L926.4 621.6 L926.7 622.6 L926.9 623.5 L927.2 624.5 L927.4 625.5 L927.7 626.4 L927.9 627.4 L928.2 628.4 L928.4 629.4 L928.7 630.3 L928.9 631.3 L929.2 632.3 L929.4 633.2 L929.7 634.2 L929.9 635.2 L930.2 636.1 L930.4 637.1 L930.7 638.1 L931.0 639.0 L931.2 640.0 L931.5 641.0 L931.7 641.9 L932.0 642.9 L932.3 643.9 L932.5 644.8 L932.8 645.8 L933.0 646.8 L933.3 647.7 L933.6 648.7 L933.8 649.7 L934.1 650.6 L934.4 651.6 L934.6 652.6 L934.9 653.5 L935.2 654.5 L935.4 655.5 L935.7 656.4 L936.0 657.4 L936.3 658.4 L936.5 659.3 L936.8 660.3 L937.1 661.2 L937.3 662.2 L937.6 663.2 L937.9 664.1 L938.2 665.1 L938.5 666.1 L938.7 667.0 L939.0 668.0 L939.3 669.0 L939.6 669.9 L939.9 670.9 L940.1 671.8 L940.4 672.8 L940.7 673.8 L941.0 674.7 L941.3 675.7 L941.6 676.7 L941.8 677.6 L942.1 678.6 L942.4 679.5 L942.7 680.5 L943.0 681.5 L943.3 682.4 L943.6 683.4 L943.9 684.3 L944.2 685.3 L944.4 686.3 L944.7 687.2 L945.0 688.2 L945.3 689.1 L945.6 690.1 L945.9 691.1 L946.2 692.0 L946.5 693.0 L946.8 693.9 L947.1 694.9 L947.4 695.9 L947.7 696.8 L948.0 697.8 L948.3 698.7 L948.6 699.7 L948.9 700.6 L949.2 701.6 L949.6 702.6 L949.9 703.5 L950.2 704.4 L950.5 705.4 L950.9 706.3 L951.2 707.2 L951.5 708.1 L951.9 709.1 L952.2 710.0 L952.5 710.9 L952.9 711.8 L953.2 712.7 L953.6 713.6 L953.9 714.6 L954.2 715.5 L954.6 716.4 L954.9 717.3 L955.3 718.2 L955.6 719.1 L956.0 720.0 L956.3 721.0 L956.7 721.9 L957.1 722.8 L957.4 723.7 L957.8 724.6 L958.1 725.5 L958.5 726.4 L958.9 727.3 L959.2 728.2 L959.6 729.1 L960.0 730.0 L960.3 730.9 L960.7 731.8 L961.1 732.7 L961.5 733.6 L961.9 734.5 L962.2 735.4 L962.6 736.3 L963.0 737.2 L963.4 738.1 L963.8 739.0 L964.2 739.9 L964.6 740.8 L964.9 741.7 L965.3 742.6 L965.7 743.5 L966.1 744.4 L966.5 745.3 L966.9 746.2 L967.3 747.1 L967.7 748.0 L968.0 749.0 L968.4 749.9 L968.8 750.8 L969.2 751.7 L969.6 752.6 L970.0 753.6 L970.4 754.5 L970.8 755.4 L971.2 756.3 L971.6 757.2 L972.0 758.1 L972.4 759.0 L972.8 759.9 L973.2 760.9 L973.6 761.8 L974.1 762.7 L974.5 763.6 L974.9 764.5 L975.3 765.4 L975.7 766.3 L976.2 767.2 L976.6 768.1 L977.0 769.0 L977.5 769.9 L977.9 770.7 L978.4 771.6 L978.8 772.5 L979.2 773.4 L979.7 774.3 L980.1 775.2 L980.6 776.1 L981.1 777.0 L981.5 777.8 L982.0 778.7 L982.4 779.6 L982.9 780.5 L983.4 781.3 L983.8 782.2 L984.3 783.1 L984.8 784.0 L985.3 784.8 L985.8 785.7 L986.2 786.6 L986.7 787.4 L987.2 788.3 L987.7 789.2 L988.2 790.0 L988.7 790.9 L989.2 791.7 L989.7 792.6 L990.2 793.4 L990.7 794.3 L991.3 795.1 L991.8 796.0 L992.3 796.8 L992.8 797.7 L993.3 798.5 L993.9 799.4 L994.4 800.2 L994.9 801.0 L995.5 801.9 L996.0 802.7 L996.6 803.5 L997.1 804.4 L997.7 805.2 L998.2 806.0 L998.8 806.8 L999.3 807.7 L999.9 808.5 L1000.5 809.3 L1001.0 810.1 L1001.6 810.9 L1002.2 811.7 L1002.8 812.6 L1003.4 813.4 L1004.0 814.2 L1004.5 815.0 L1005.1 815.8 L1005.7 816.6 L1006.3 817.4 L1006.9 818.2 L1007.6 819.0 L1008.2 819.7 L1008.8 820.5 L1009.4 821.3 L1010.0 822.1 L1010.6 822.9 L1011.3 823.7 L1011.9 824.4 L1012.5 825.2 L1013.2 826.0 L1013.8 826.8 L1014.4 827.5 L1015.1 828.3 L1015.7 829.1 L1016.4 829.8 L1017.0 830.6 L1017.7 831.3 L1018.4 832.1 L1019.0 832.9 L1019.7 833.6 L1020.4 834.4 L1021.0 835.1 L1021.7 835.8 L1022.4 836.6 L1023.1 837.3 L1023.7 838.1 L1024.4 838.8 L1025.1 839.5 L1025.8 840.2 L1026.5 841.0 L1027.2 841.7 L1027.9 842.4 L1028.6 843.1 L1029.3 843.8 L1030.0 844.6 L1030.7 845.3 L1031.4 846.0 L1032.2 846.7 L1032.9 847.4 L1033.6 848.1 L1034.3 848.8 L1035.1 849.5 L1035.8 850.2 L1036.5 850.8 L1037.3 851.5 L1038.0 852.2 L1038.7 852.9 L1039.5 853.6 L1040.2 854.2 L1041.0 854.9 L1041.7 855.6 L1042.5 856.2 L1043.2 856.9 L1044.0 857.6 L1044.8 858.2 L1045.5 858.9 L1046.3 859.5 L1047.0 860.2 L1047.8 860.8 L1048.6 861.5 L1049.4 862.1 L1050.1 862.7 L1050.9 863.4 L1051.7 864.0 L1052.5 864.6 L1053.3 865.2 L1054.1 865.9 L1054.9 866.5 L1055.7 867.1 L1056.5 867.7 L1057.3 868.3 L1058.1 868.9 L1058.9 869.5 L1059.7 870.1 L1060.5 870.7 L1061.3 871.3 L1062.1 871.9 L1062.9 872.5 L1063.7 873.1 L1064.5 873.6 L1065.4 874.2 L1066.2 874.8 L1067.0 875.4 L1067.8 875.9 L1068.7 876.5 L1069.5 877.0 L1070.3 877.6 L1071.2 878.1 L1072.0 878.7 L1072.9 879.2 L1073.7 879.8 L1074.5 880.3 L1075.4 880.9 L1076.2 881.4 L1077.1 881.9 L1077.9 882.4 L1078.8 883.0 L1079.6 883.5 L1080.5 884.0 L1081.4 884.5 L1082.2 885.0 L1083.1 885.5 L1084.0 886.0 L1084.8 886.5 L1085.7 887.0 L1086.6 887.5 L1087.4 888.0 L1088.3 888.5 L1089.2 888.9 L1090.1 889.4 L1090.9 889.9 L1091.8 890.3 L1092.7 890.8 L1093.6 891.3 L1094.5 891.7 L1095.4 892.2 L1096.3 892.6 L1097.1 893.1 L1098.0 893.5 L1098.9 893.9 L1099.8 894.4 L1100.7 894.8 L1101.6 895.2 L1102.5 895.7 L1103.4 896.1 L1104.3 896.5 L1105.2 896.9 L1106.1 897.3 L1107.0 897.7 L1107.9 898.1 L1108.9 898.5 L1109.8 898.9 L1110.7 899.3 L1111.6 899.7 L1112.5 900.1 L1113.4 900.5 L1114.3 900.8 L1115.3 901.2 L1116.2 901.6 L1117.1 901.9 L1118.0 902.3 L1118.9 902.6 L1119.9 903.0 L1120.8 903.3 L1121.7 903.7 L1122.7 904.0 L1123.6 904.4 L1124.5 904.7 L1125.4 905.0 L1126.4 905.4 L1127.3 905.7 L1128.3 906.0 L1129.2 906.3 L1130.1 906.6 L1131.1 906.9 L1132.0 907.3 L1133.0 907.6 L1133.9 907.9 L1134.8 908.2 L1135.8 908.4 L1136.7 908.7 L1137.7 909.0 L1138.6 909.3 L1139.6 909.6 L1140.5 909.9 L1141.5 910.1 L1142.5 910.4 L1143.4 910.7 L1144.4 911.0 L1145.3 911.2 L1146.3 911.5 L1147.2 911.7 L1148.2 912.0 L1149.2 912.2 L1150.1 912.5 L1151.1 912.7 L1152.1 913.0 L1153.0 913.2 L1154.0 913.5 L1155.0 913.7 L1155.9 913.9 L1156.9 914.1 L1157.9 914.4 L1158.8 914.6 L1159.8 914.8 L1160.8 915.0 L1161.7 915.3 L1162.7 915.5 L1163.7 915.7 L1164.7 915.9 L1165.6 916.1 L1166.6 916.3 L1167.6 916.5 L1168.6 916.7 L1169.6 916.9 L1170.5 917.1 L1171.5 917.3 L1172.5 917.5 L1173.5 917.7 L1174.5 917.9 L1175.4 918.0 L1176.4 918.2 L1177.4 918.4 L1178.4 918.6 L1179.4 918.8 L1180.4 918.9 L1181.4 919.1 L1182.3 919.3 L1183.3 919.5 L1184.3 919.6 L1185.3 919.8 L1186.3 920.0 L1187.3 920.1 L1188.3 920.3 L1189.3 920.4 L1190.3 920.6 L1191.3 920.7 L1192.2 920.9 L1193.2 921.0 L1194.2 921.2 L1195.2 921.3 L1196.2 921.5 L1197.2 921.6 L1198.2 921.8 L1199.2 921.9 L1200.2 922.1 L1201.2 922.2 L1202.2 922.3 L1203.2 922.5 L1204.2 922.6 L1205.2 922.8 L1206.2 922.9 L1207.2 923.0 L1208.2 923.1 L1209.2 923.3 L1210.2 923.4 L1211.2 923.5 L1212.2 923.7 L1213.2 923.8 L1214.2 923.9 L1215.2 924.0 L1216.2 924.2 L1217.2 924.3 L1218.2 924.4 L1219.2 924.5 L1220.2 924.6 L1221.2 924.8 L1222.2 924.9 L1223.2 925.0 L1224.2 925.1 L1225.2 925.2 L1226.2 925.3 L1227.2 925.4 L1228.2 925.6 L1229.2 925.7 L1230.2 925.8 L1231.2 925.9 L1232.2 926.0 L1233.2 926.1 L1234.2 926.2 L1235.2 926.3 L1236.2 926.4 L1237.2 926.5 L1238.2 926.6 L1239.2 926.8 L1240.2 926.9 L1241.2 927.0 L1242.2 927.1 L1243.2 927.2 L1244.2 927.3 L1245.2 927.4 L1246.2 927.5 L1247.1 927.6 L1248.1 927.7 L1249.1 927.8 L1250.1 927.9 L1251.1 928.0 L1252.1 928.1 L1253.1 928.2 L1254.1 928.3 L1255.1 928.4 L1256.1 928.5 L1257.1 928.7 L1258.1 928.8 L1259.1 928.9 L1260.1 929.0 L1261.1 929.1 L1262.1 929.2 L1263.1 929.3 L1264.1 929.4 L1265.1 929.5 L1266.1 929.6 L1267.0 929.7 L1268.0 929.8 L1269.0 929.9 L1270.0 930.0 L1271.0 930.2 L1272.0 930.3 L1273.0 930.4 L1274.0 930.5 L1275.0 930.6 L1275.9 930.7 L1276.9 930.8 L1277.9 930.9 L1278.9 931.1 L1279.9 931.2 L1280.9 931.3 L1281.8 931.4 L1282.8 931.5 L1283.8 931.6 L1284.8 931.8 L1285.8 931.9 L1286.7 932.0 L1287.7 932.1 L1288.7 932.3 L1289.7 932.4 L1290.7 932.5 L1291.6 932.6 L1292.6 932.8 L1293.6 932.9 L1294.6 933.0 L1295.5 933.2 L1296.5 933.3 L1297.5 933.4 L1298.4 933.6 L1299.4 933.7 L1300.4 933.8 L1301.3 934.0 L1302.3 934.1 L1303.3 934.3 L1304.2 934.4 L1305.2 934.6 L1306.2 934.7 L1307.1 934.9 L1308.1 935.0 L1309.1 935.2 L1310.0 935.4 L1311.0 935.5 L1312.0 935.7 L1312.9 935.9 L1313.9 936.1 L1314.9 936.2 L1315.8 936.4 L1316.8 936.6 L1317.7 936.8 L1318.7 937.0 L1319.7 937.2 L1320.6 937.4 L1321.6 937.6 L1322.5 937.8 L1323.5 938.0 L1324.5 938.2 L1325.4 938.4 L1326.4 938.6 L1327.4 938.9 L1328.3 939.1 L1329.3 939.3 L1330.2 939.6 L1331.2 939.8 L1332.2 940.1 L1333.1 940.3 L1334.1 940.6 L1335.1 940.9 L1336.0 941.1 L1337.0 941.4 L1337.9 941.7 L1338.9 942.0 L1339.9 942.3 L1340.8 942.6 L1341.8 942.9 L1342.8 943.2 L1343.7 943.5 L1344.7 943.8 L1345.7 944.1 L1346.6 944.4 L1347.6 944.7 L1348.6 945.0 L1349.5 945.3 L1350.5 945.7 L1351.5 946.0 L1352.4 946.3 L1353.4 946.6 L1354.4 946.8 L1355.4 947.1 L1356.3 947.4 L1357.3 947.7 L1358.3 947.9 L1359.2 948.2 L1360.2 948.5 L1361.2 948.7 L1362.2 949.0 L1363.1 949.2 L1364.1 949.4 L1365.1 949.6 L1366.1 949.9 L1367.0 950.1 L1368.0 950.3 L1369.0 950.5 L1370.0 950.7 L1370.9 950.9 L1371.9 951.1 L1372.9 951.3 L1373.9 951.5 L1374.8 951.7 L1375.8 951.9 L1376.8 952.0 L1377.8 952.2 L1378.7 952.4 L1379.7 952.6 L1380.7 952.8 L1381.7 952.9 L1382.6 953.1 L1383.6 953.3 L1384.6 953.4 L1385.6 953.6 L1386.6 953.8 L1387.5 954.0 L1388.5 954.1 L1389.5 954.3 L1390.5 954.5 L1391.5 954.6 L1392.5 954.8 L1393.4 955.0 L1394.4 955.2 L1395.4 955.3 L1396.4 955.5 L1397.4 955.7 L1398.4 955.9 L1399.4 956.1 L1400.3 956.3 L1401.3 956.5 L1402.3 956.7 L1403.3 956.9 L1404.0 957.0 L1404.0 957.0 L1431.2 957.1" fill="none" stroke="#000" stroke-width="5" stroke-linejoin="round"/>
<rect x="149.3" y="947.5" width="17.0" height="17.0" fill="#000"/>
<rect x="262.8" y="947.7" width="17.0" height="17.0" fill="#000"/>
<rect x="379.0" y="945.2" width="17.0" height="17.0" fill="#000"/>
<rect x="495.5" y="932.3" width="17.0" height="17.0" fill="#000"/>
<rect x="610.5" y="873.8" width="17.0" height="17.0" fill="#000"/>
<rect x="727.1" y="528.8" width="17.0" height="17.0" fill="#000"/>
<rect x="843.2" y="172.8" width="17.0" height="17.0" fill="#000"/>
<rect x="958.9" y="737.2" width="17.0" height="17.0" fill="#000"/>
<rect x="1074.9" y="877.0" width="17.0" height="17.0" fill="#000"/>
<rect x="1191.0" y="913.4" width="17.0" height="17.0" fill="#000"/>
<rect x="1307.0" y="927.9" width="17.0" height="17.0" fill="#000"/>
<path d="M158.4 956.0 L159.4 956.0 L160.4 955.9 L161.4 955.9 L162.4 955.9 L163.4 955.9 L164.3 955.8 L165.3 955.8 L166.3 955.8 L167.3 955.8 L168.3 955.8 L169.3 955.7 L170.3 955.7 L171.3 955.7 L172.3 955.7 L173.3 955.7 L174.3 955.7 L175.3 955.7 L176.3 955.6 L177.3 955.6 L178.3 955.6 L179.3 955.6 L180.3 955.6 L181.3 955.6 L182.3 955.6 L183.3 955.6 L184.2 955.6 L185.2 955.6 L186.2 955.6 L187.2 955.6 L188.2 955.5 L189.2 955.5 L190.2 955.5 L191.2 955.5 L192.2 955.5 L193.2 955.5 L194.2 955.5 L195.2 955.5 L196.2 955.5 L197.2 955.5 L198.2 955.5 L199.2 955.5 L200.2 955.5 L201.2 955.5 L202.2 955.5 L203.2 955.5 L204.2 955.5 L205.2 955.5 L206.2 955.6 L207.2 955.6 L208.2 955.6 L209.2 955.6 L210.2 955.6 L211.2 955.6 L212.2 955.6 L213.2 955.6 L214.3 955.6 L215.3 955.6 L216.3 955.6 L217.3 955.6 L218.3 955.6 L219.3 955.6 L220.3 955.7 L221.3 955.7 L222.3 955.7 L223.3 955.7 L224.3 955.7 L225.3 955.7 L226.3 955.7 L227.3 955.7 L228.3 955.7 L229.3 955.7 L230.3 955.8 L231.3 955.8 L232.3 955.8 L233.3 955.8 L234.3 955.8 L235.3 955.8 L236.3 955.8 L237.3 955.8 L238.3 955.9 L239.3 955.9 L240.3 955.9 L241.4 955.9 L242.4 955.9 L243.4 955.9 L244.4 955.9 L245.4 955.9 L246.4 956.0 L247.4 956.0 L248.4 956.0 L249.4 956.0 L250.4 956.0 L251.4 956.0 L252.4 956.0 L253.4 956.0 L254.4 956.1 L255.4 956.1 L256.4 956.1 L257.4 956.1 L258.4 956.1 L259.4 956.1 L260.4 956.1 L261.5 956.1 L262.5 956.2 L263.5 956.2 L264.5 956.2 L265.5 956.2 L266.5 956.2 L267.5 956.2 L268.5 956.2 L269.5 956.2 L270.5 956.2 L271.5 956.3 L272.5 956.3 L273.5 956.3 L274.5 956.3 L275.5 956.3 L276.5 956.3 L277.5 956.3 L278.5 956.3 L279.5 956.3 L280.5 956.3 L281.5 956.3 L282.6 956.4 L283.6 956.4 L284.6 956.4 L285.6 956.4 L286.6 956.4 L287.6 956.4 L288.6 956.4 L289.6 956.4 L290.6 956.4 L291.6 956.4 L292.6 956.4 L293.6 956.4 L294.6 956.4 L295.6 956.4 L296.6 956.4 L297.6 956.4 L298.6 956.4 L299.6 956.4 L300.6 956.4 L301.6 956.4 L302.6 956.4 L303.6 956.4 L304.6 956.4 L305.6 956.4 L306.6 956.4 L307.6 956.4 L308.6 956.4 L309.6 956.4 L310.6 956.4 L311.6 956.4 L312.6 956.4 L313.6 956.4 L314.6 956.4 L315.6 956.3 L316.6 956.3 L317.6 956.3 L318.6 956.3 L319.6 956.3 L320.6 956.3 L321.6 956.3 L322.6 956.3 L323.6 956.2 L324.6 956.2 L325.6 956.2 L326.6 956.2 L327.6 956.2 L328.6 956.2 L329.6 956.1 L330.6 956.1 L331.6 956.1 L332.6 956.1 L333.6 956.1 L334.6 956.0 L335.6 956.0 L336.6 956.0 L337.6 956.0 L338.6 955.9 L339.6 955.9 L340.6 955.9 L341.6 955.8 L342.6 955.8 L343.6 955.8 L344.6 955.8 L345.5 955.7 L346.5 955.7 L347.5 955.7 L348.5 955.6 L349.5 955.6 L350.5 955.5 L351.5 955.5 L352.5 955.5 L353.5 955.4 L354.5 955.4 L355.5 955.4 L356.5 955.3 L357.5 955.3 L358.5 955.2 L359.5 955.2 L360.5 955.1 L361.4 955.1 L362.4 955.1 L363.4 955.0 L364.4 955.0 L365.4 954.9 L366.4 954.9 L367.4 954.8 L368.4 954.8 L369.4 954.7 L370.4 954.7 L371.4 954.6 L372.4 954.6 L373.4 954.5 L374.3 954.5 L375.3 954.4 L376.3 954.3 L377.3 954.3 L378.3 954.2 L379.3 954.2 L380.3 954.1 L381.3 954.1 L382.3 954.0 L383.3 953.9 L384.3 953.9 L385.3 953.8 L386.2 953.8 L387.2 953.7 L388.2 953.6 L389.2 953.6 L390.2 953.5 L391.2 953.4 L392.2 953.4 L393.2 953.3 L394.2 953.2 L395.2 953.2 L396.2 953.1 L397.2 953.0 L398.2 952.9 L399.1 952.9 L400.1 952.8 L401.1 952.7 L402.1 952.7 L403.1 952.6 L404.1 952.5 L405.1 952.4 L406.1 952.3 L407.1 952.3 L408.1 952.2 L409.1 952.1 L410.1 952.0 L411.1 952.0 L412.1 951.9 L413.1 951.8 L414.0 951.7 L415.0 951.6 L416.0 951.5 L417.0 951.5 L418.0 951.4 L419.0 951.3 L420.0 951.2 L421.0 951.1 L422.0 951.0 L423.0 950.9 L424.0 950.9 L425.0 950.8 L426.0 950.7 L427.0 950.6 L428.0 950.5 L429.0 950.4 L430.0 950.3 L431.0 950.2 L432.0 950.1 L433.0 950.0 L434.0 949.9 L435.0 949.8 L436.0 949.7 L437.0 949.6 L438.0 949.6 L439.0 949.5 L440.0 949.4 L441.0 949.3 L442.0 949.2 L443.0 949.1 L444.0 949.0 L445.0 948.9 L446.0 948.7 L447.0 948.6 L448.0 948.5 L449.0 948.4 L450.0 948.3 L451.0 948.2 L452.0 948.1 L453.0 948.0 L454.0 947.9 L455.0 947.8 L456.0 947.7 L457.0 947.6 L458.0 947.5 L459.0 947.4 L460.0 947.2 L461.0 947.1 L462.0 947.0 L463.0 946.9 L464.0 946.8 L465.0 946.7 L466.0 946.6 L467.0 946.4 L468.0 946.3 L469.0 946.2 L470.0 946.1 L471.0 945.9 L472.0 945.8 L473.0 945.7 L474.0 945.6 L475.0 945.4 L476.0 945.3 L477.0 945.2 L478.0 945.0 L479.0 944.9 L480.0 944.8 L481.1 944.6 L482.1 944.5 L483.1 944.3 L484.1 944.2 L485.1 944.0 L486.1 943.9 L487.1 943.7 L488.0 943.6 L489.0 943.4 L490.0 943.3 L491.0 943.1 L492.0 943.0 L493.0 942.8 L494.0 942.6 L495.0 942.5 L496.0 942.3 L497.0 942.1 L498.0 941.9 L499.0 941.8 L500.0 941.6 L501.0 941.4 L502.0 941.2 L503.0 941.0 L503.9 940.8 L504.9 940.7 L505.9 940.5 L506.9 940.3 L507.9 940.1 L508.9 939.9 L509.9 939.7 L510.8 939.5 L511.8 939.2 L512.8 939.0 L513.8 938.8 L514.8 938.6 L515.7 938.4 L516.7 938.2 L517.7 937.9 L518.7 937.7 L519.6 937.5 L520.6 937.2 L521.6 937.0 L522.6 936.7 L523.5 936.5 L524.5 936.2 L525.5 936.0 L526.4 935.7 L527.4 935.5 L528.4 935.2 L529.3 935.0 L530.3 934.7 L531.2 934.4 L532.2 934.1 L533.2 933.9 L534.1 933.6 L535.1 933.3 L536.0 933.0 L537.0 932.7 L537.9 932.4 L538.9 932.1 L539.8 931.8 L540.8 931.5 L541.7 931.2 L542.6 930.8 L543.6 930.5 L544.5 930.2 L545.5 929.9 L546.4 929.5 L547.3 929.2 L548.3 928.9 L549.2 928.5 L550.1 928.2 L551.1 927.8 L552.0 927.4 L552.9 927.1 L553.8 926.7 L554.7 926.3 L555.7 926.0 L556.6 925.6 L557.5 925.2 L558.4 924.8 L559.3 924.4 L560.2 924.0 L561.1 923.6 L562.0 923.2 L562.9 922.8 L563.8 922.4 L564.7 921.9 L565.6 921.5 L566.5 921.1 L567.4 920.6 L568.3 920.2 L569.2 919.8 L570.1 919.3 L571.0 918.8 L571.9 918.4 L572.7 917.9 L573.6 917.4 L574.5 917.0 L575.4 916.5 L576.2 916.0 L577.1 915.5 L578.0 915.0 L578.8 914.5 L579.7 914.0 L580.6 913.5 L581.4 913.0 L582.3 912.4 L583.1 911.9 L584.0 911.4 L584.8 910.8 L585.7 910.3 L586.5 909.7 L587.3 909.2 L588.2 908.6 L589.0 908.0 L589.8 907.4 L590.7 906.9 L591.5 906.3 L592.3 905.7 L593.1 905.1 L594.0 904.5 L594.8 903.9 L595.6 903.3 L596.4 902.7 L597.2 902.0 L598.0 901.4 L598.8 900.8 L599.6 900.2 L600.4 899.5 L601.2 898.9 L602.0 898.3 L602.7 897.6 L603.5 897.0 L604.3 896.3 L605.1 895.6 L605.8 895.0 L606.6 894.3 L607.4 893.6 L608.1 893.0 L608.9 892.3 L609.6 891.6 L610.4 890.9 L611.1 890.2 L611.9 889.5 L612.6 888.8 L613.3 888.1 L614.0 887.4 L614.8 886.7 L615.5 886.0 L616.2 885.3 L616.9 884.6 L617.6 883.9 L618.3 883.2 L619.0 882.5 L619.7 881.7 L620.4 881.0 L621.1 880.3 L621.8 879.5 L622.5 878.8 L623.1 878.1 L623.8 877.3 L624.5 876.6 L625.2 875.8 L625.8 875.1 L626.5 874.4 L627.1 873.6 L627.8 872.8 L628.4 872.1 L629.1 871.3 L629.7 870.6 L630.3 869.8 L631.0 869.0 L631.6 868.3 L632.2 867.5 L632.8 866.7 L633.4 865.9 L634.1 865.2 L634.7 864.4 L635.3 863.6 L635.9 862.8 L636.5 862.0 L637.1 861.2 L637.6 860.4 L638.2 859.6 L638.8 858.8 L639.4 858.0 L640.0 857.2 L640.5 856.4 L641.1 855.6 L641.7 854.8 L642.2 854.0 L642.8 853.2 L643.4 852.4 L643.9 851.6 L644.5 850.7 L645.0 849.9 L645.6 849.1 L646.1 848.3 L646.6 847.4 L647.2 846.6 L647.7 845.8 L648.2 844.9 L648.7 844.1 L649.3 843.3 L649.8 842.4 L650.3 841.6 L650.8 840.7 L651.3 839.9 L651.8 839.0 L652.3 838.2 L652.8 837.3 L653.3 836.5 L653.8 835.6 L654.3 834.8 L654.8 833.9 L655.3 833.1 L655.7 832.2 L656.2 831.3 L656.7 830.5 L657.2 829.6 L657.6 828.7 L658.1 827.8 L658.6 827.0 L659.0 826.1 L659.5 825.2 L659.9 824.3 L660.4 823.5 L660.8 822.6 L661.3 821.7 L661.7 820.8 L662.2 819.9 L662.6 819.0 L663.1 818.1 L663.5 817.2 L663.9 816.4 L664.3 815.5 L664.8 814.6 L665.2 813.7 L665.6 812.8 L666.0 811.9 L666.5 811.0 L666.9 810.1 L667.3 809.2 L667.7 808.2 L668.1 807.3 L668.5 806.4 L668.9 805.5 L669.3 804.6 L669.7 803.7 L670.1 802.8 L670.5 801.9 L670.9 800.9 L671.3 800.0 L671.6 799.1 L672.0 798.2 L672.4 797.3 L672.8 796.3 L673.2 795.4 L673.5 794.5 L673.9 793.6 L674.3 792.6 L674.6 791.7 L675.0 790.8 L675.4 789.8 L675.7 788.9 L676.1 788.0 L676.4 787.0 L676.8 786.1 L677.2 785.1 L677.5 784.2 L677.9 783.3 L678.2 782.3 L678.5 781.4 L678.9 780.4 L679.2 779.5 L679.6 778.6 L679.9 777.6 L680.2 776.7 L680.6 775.7 L680.9 774.8 L681.2 773.8 L681.6 772.9 L681.9 771.9 L682.2 771.0 L682.5 770.0 L682.9 769.1 L683.2 768.1 L683.5 767.1 L683.8 766.2 L684.1 765.2 L684.4 764.3 L684.8 763.3 L685.1 762.4 L685.4 761.4 L685.7 760.4 L686.0 759.5 L686.3 758.5 L686.6 757.5 L686.9 756.6 L687.2 755.6 L687.5 754.7 L687.8 753.7 L688.1 752.7 L688.4 751.8 L688.7 750.8 L689.0 749.8 L689.3 748.9 L689.5 747.9 L689.8 746.9 L690.1 745.9 L690.4 745.0 L690.7 744.0 L691.0 743.0 L691.3 742.1 L691.5 741.1 L691.8 740.1 L692.1 739.1 L692.4 738.2 L692.6 737.2 L692.9 736.2 L693.2 735.3 L693.5 734.3 L693.7 733.3 L694.0 732.3 L694.3 731.4 L694.5 730.4 L694.8 729.4 L695.1 728.4 L695.3 727.5 L695.6 726.5 L695.9 725.5 L696.1 724.5 L696.4 723.5 L696.6 722.6 L696.9 721.6 L697.2 720.6 L697.4 719.6 L697.7 718.7 L697.9 717.7 L698.2 716.7 L698.4 715.7 L698.7 714.8 L699.0 713.8 L699.2 712.8 L699.5 711.8 L699.7 710.8 L700.0 709.9 L700.2 708.9 L700.5 707.9 L700.7 706.9 L701.0 706.0 L701.2 705.0 L701.5 704.0 L701.7 703.0 L701.9 702.0 L702.2 701.1 L702.4 700.1 L702.7 699.1 L702.9 698.1 L703.2 697.2 L703.4 696.2 L703.6 695.2 L703.9 694.2 L704.1 693.2 L704.4 692.3 L704.6 691.3 L704.8 690.3 L705.1 689.3 L705.3 688.3 L705.5 687.4 L705.8 686.4 L706.0 685.4 L706.2 684.4 L706.5 683.4 L706.7 682.5 L706.9 681.5 L707.2 680.5 L707.4 679.5 L707.6 678.5 L707.8 677.6 L708.1 676.6 L708.3 675.6 L708.5 674.6 L708.7 673.7 L709.0 672.7 L709.2 671.7 L709.4 670.7 L709.6 669.7 L709.9 668.8 L710.1 667.8 L710.3 666.8 L710.5 665.8 L710.7 664.8 L711.0 663.9 L711.2 662.9 L711.4 661.9 L711.6 660.9 L711.8 659.9 L712.0 659.0 L712.3 658.0 L712.5 657.0 L712.7 656.0 L712.9 655.0 L713.1 654.0 L713.3 653.1 L713.5 652.1 L713.8 651.1 L714.0 650.1 L714.2 649.1 L714.4 648.2 L714.6 647.2 L714.8 646.2 L715.0 645.2 L715.2 644.2 L715.4 643.3 L715.6 642.3 L715.8 641.3 L716.0 640.3 L716.3 639.3 L716.5 638.4 L716.7 637.4 L716.9 636.4 L717.1 635.4 L717.3 634.4 L717.5 633.4 L717.7 632.5 L717.9 631.5 L718.1 630.5 L718.3 629.5 L718.5 628.5 L718.7 627.6 L718.9 626.6 L719.1 625.6 L719.3 624.6 L719.5 623.6 L719.7 622.6 L719.8 621.7 L720.0 620.7 L720.2 619.7 L720.4 618.7 L720.6 617.7 L720.8 616.7 L721.0 615.8 L721.2 614.8 L721.4 613.8 L721.6 612.8 L721.8 611.8 L722.0 610.9 L722.2 609.9 L722.3 608.9 L722.5 607.9 L722.7 606.9 L722.9 605.9 L723.1 605.0 L723.3 604.0 L723.5 603.0 L723.7 602.0 L723.8 601.0 L724.0 600.0 L724.2 599.1 L724.4 598.1 L724.6 597.1 L724.8 596.1 L724.9 595.1 L725.1 594.1 L725.3 593.2 L725.5 592.2 L725.7 591.2 L725.9 590.2 L726.0 589.2 L726.2 588.2 L726.4 587.3 L726.6 586.3 L726.8 585.3 L726.9 584.3 L727.1 583.3 L727.3 582.3 L727.5 581.4 L727.6 580.4 L727.8 579.4 L728.0 578.4 L728.2 577.4 L728.3 576.4 L728.5 575.5 L728.7 574.5 L728.9 573.5 L729.0 572.5 L729.2 571.5 L729.4 570.5 L729.6 569.6 L729.7 568.6 L729.9 567.6 L730.1 566.6 L730.3 565.6 L730.4 564.6 L730.6 563.6 L730.8 562.7 L730.9 561.7 L731.1 560.7 L731.3 559.7 L731.4 558.7 L731.6 557.7 L731.8 556.8 L731.9 555.8 L732.1 554.8 L732.3 553.8 L732.5 552.8 L732.6 551.8 L732.8 550.8 L733.0 549.9 L733.1 548.9 L733.3 547.9 L733.4 546.9 L733.6 545.9 L733.8 544.9 L733.9 544.0 L734.1 543.0 L734.3 542.0 L734.4 541.0 L734.6 540.0 L734.8 539.0 L734.9 538.0 L735.1 537.1 L735.3 536.1 L735.4 535.1 L735.6 534.1 L735.7 533.1 L735.9 532.1 L736.1 531.1 L736.2 530.2 L736.4 529.2 L736.5 528.2 L736.7 527.2 L736.9 526.2 L737.0 525.2 L737.2 524.2 L737.3 523.3 L737.5 522.3 L737.7 521.3 L737.8 520.3 L738.0 519.3 L738.1 518.3 L738.3 517.3 L738.5 516.4 L738.6 515.4 L738.8 514.4 L738.9 513.4 L739.1 512.4 L739.2 511.4 L739.4 510.4 L739.5 509.5 L739.7 508.5 L739.9 507.5 L740.0 506.5 L740.2 505.5 L740.3 504.5 L740.5 503.5 L740.6 502.6 L740.8 501.6 L740.9 500.6 L741.1 499.6 L741.3 498.6 L741.4 497.6 L741.6 496.6 L741.7 495.7 L741.9 494.7 L742.0 493.7 L742.2 492.7 L742.3 491.7 L742.5 490.7 L742.6 489.7 L742.8 488.8 L742.9 487.8 L743.1 486.8 L743.3 485.8 L743.4 484.8 L743.6 483.8 L743.7 482.8 L743.9 481.8 L744.0 480.9 L744.2 479.9 L744.3 478.9 L744.5 477.9 L744.6 476.9 L744.8 475.9 L744.9 474.9 L745.1 474.0 L745.2 473.0 L745.4 472.0 L745.5 471.0 L745.7 470.0 L745.8 469.0 L746.0 468.0 L746.1 467.0 L746.3 466.1 L746.4 465.1 L746.6 464.1 L746.7 463.1 L746.9 462.1 L747.0 461.1 L747.2 460.1 L747.3 459.1 L747.5 458.2 L747.6 457.2 L747.8 456.2 L747.9 455.2 L748.1 454.2 L748.2 453.2 L748.4 452.2 L748.5 451.3 L748.7 450.3 L748.8 449.3 L749.0 448.3 L749.1 447.3 L749.3 446.3 L749.4 445.3 L749.6 444.3 L749.7 443.4 L749.9 442.4 L750.0 441.4 L750.2 440.4 L750.3 439.4 L750.5 438.4 L750.6 437.4 L750.8 436.4 L750.9 435.5 L751.1 434.5 L751.2 433.5 L751.4 432.5 L751.5 431.5 L751.7 430.5 L751.8 429.5 L752.0 428.5 L752.1 427.6 L752.3 426.6 L752.4 425.6 L752.6 424.6 L752.7 423.6 L752.9 422.6 L753.0 421.6 L753.2 420.6 L753.3 419.7 L753.5 418.7 L753.6 417.7 L753.8 416.7 L753.9 415.7 L754.1 414.7 L754.2 413.7 L754.4 412.7 L754.5 411.8 L754.7 410.8 L754.8 409.8 L755.0 408.8 L755.1 407.8 L755.3 406.8 L755.4 405.8 L755.6 404.8 L755.7 403.9 L755.9 402.9 L756.0 401.9 L756.2 400.9 L756.3 399.9 L756.5 398.9 L756.6 397.9 L756.8 396.9 L756.9 396.0 L757.1 395.0 L757.3 394.0 L757.4 393.0 L757.6 392.0 L757.7 391.0 L757.9 390.0 L758.0 389.0 L758.2 388.1 L758.3 387.1 L758.5 386.1 L758.6 385.1 L758.8 384.1 L758.9 383.1 L759.1 382.1 L759.2 381.1 L759.4 380.2 L759.6 379.2 L759.7 378.2 L759.9 377.2 L760.0 376.2 L760.2 375.2 L760.3 374.2 L760.5 373.2 L760.6 372.2 L760.8 371.3 L761.0 370.3 L761.1 369.3 L761.3 368.3 L761.4 367.3 L761.6 366.3 L761.7 365.3 L761.9 364.3 L762.0 363.4 L762.2 362.4 L762.4 361.4 L762.5 360.4 L762.7 359.4 L762.8 358.4 L763.0 357.4 L763.2 356.4 L763.3 355.5 L763.5 354.5 L763.6 353.5 L763.8 352.5 L764.0 351.5 L764.1 350.5 L764.3 349.5 L764.4 348.5 L764.6 347.6 L764.8 346.6 L764.9 345.6 L765.1 344.6 L765.2 343.6 L765.4 342.6 L765.6 341.6 L765.7 340.6 L765.9 339.7 L766.1 338.7 L766.2 337.7 L766.4 336.7 L766.6 335.7 L766.7 334.7 L766.9 333.7 L767.0 332.7 L767.2 331.7 L767.4 330.8 L767.5 329.8 L767.7 328.8 L767.9 327.8 L768.0 326.8 L768.2 325.8 L768.4 324.8 L768.5 323.8 L768.7 322.9 L768.9 321.9 L769.0 320.9 L769.2 319.9 L769.4 318.9 L769.6 317.9 L769.7 316.9 L769.9 315.9 L770.1 315.0 L770.3 314.0 L770.4 313.0 L770.6 312.0 L770.8 311.0 L771.0 310.0 L771.2 309.0 L771.4 308.0 L771.6 307.1 L771.8 306.1 L772.0 305.1 L772.2 304.1 L772.4 303.1 L772.6 302.1 L772.8 301.1 L773.1 300.1 L773.3 299.1 L773.5 298.2 L773.8 297.2 L774.0 296.2 L774.3 295.2 L774.5 294.2 L774.8 293.2 L775.1 292.2 L775.3 291.2 L775.6 290.2 L775.9 289.3 L776.2 288.3 L776.5 287.3 L776.8 286.3 L777.1 285.3 L777.5 284.3 L777.8 283.3 L778.1 282.3 L778.5 281.3 L778.8 280.3 L779.2 279.4 L779.6 278.4 L779.9 277.4 L780.3 276.4 L780.7 275.4 L781.2 274.4 L781.6 273.4 L782.0 272.4 L782.4 271.4 L782.9 270.5 L783.4 269.5 L783.9 268.6 L784.4 267.7 L784.9 266.8 L785.4 266.0 L786.0 265.2 L786.5 264.5 L787.1 263.8 L787.7 263.2 L788.4 262.7 L789.0 262.2 L789.7 261.8 L790.4 261.4 L791.2 261.2 L791.9 261.0 L792.7 261.0 L793.5 261.0 L794.3 261.1 L795.1 261.3 L795.9 261.6 L796.6 261.9 L797.4 262.4 L798.1 263.0 L798.7 263.6 L799.4 264.4 L800.0 265.2 L800.6 266.0 L801.1 267.0 L801.6 267.9 L802.1 268.9 L802.5 269.9 L802.9 271.0 L803.3 272.0 L803.7 273.1 L804.1 274.2 L804.4 275.2 L804.8 276.3 L805.1 277.3 L805.5 278.3 L805.9 279.3 L806.3 280.2 L806.7 281.1 L807.1 282.0 L807.6 282.8 L808.1 283.5 L808.7 284.2 L808.8 284.3 L808.8 284.3 L809.0 283.4 L809.1 282.4 L809.3 281.5 L809.4 280.6 L809.6 279.6 L809.7 278.7 L809.9 277.7 L810.1 276.8 L810.2 275.9 L810.4 274.9 L810.5 274.0 L810.7 273.0 L810.8 272.1 L810.9 271.2 L811.1 270.2 L811.2 269.3 L811.4 268.3 L811.5 267.4 L811.7 266.5 L811.8 265.5 L811.9 264.6 L812.1 263.6 L812.2 262.6 L812.4 261.6 L812.5 260.6 L812.6 259.6 L812.8 258.7 L812.9 257.7 L813.0 256.7 L813.2 255.7 L813.3 254.7 L813.4 253.7 L813.6 252.7 L813.7 251.7 L813.8 250.7 L814.0 249.8 L814.1 248.8 L814.2 247.8 L814.3 246.8 L814.5 245.8 L814.6 244.8 L814.7 243.8 L814.9 242.8 L815.0 241.8 L815.1 240.9 L815.2 239.9 L815.4 238.9 L815.5 237.9 L815.6 236.9 L815.7 235.9 L815.8 234.9 L816.0 233.9 L816.1 232.9 L816.2 232.0 L816.3 231.0 L816.5 230.0 L816.6 229.0 L816.7 228.0 L816.8 227.0 L816.9 226.0 L817.1 225.0 L817.2 224.0 L817.3 223.0 L817.4 222.1 L817.5 221.1 L817.7 220.1 L817.8 219.1 L817.9 218.1 L818.0 217.1 L818.1 216.1 L818.3 215.1 L818.4 214.1 L818.5 213.2 L818.6 212.2 L818.7 211.2 L818.9 210.2 L819.0 209.2 L819.1 208.2 L819.2 207.2 L819.4 206.2 L819.5 205.2 L819.6 204.3 L819.7 203.3 L819.8 202.3 L820.0 201.3 L820.1 200.3 L820.2 199.3 L820.3 198.3 L820.5 197.3 L820.6 196.3 L820.7 195.3 L820.8 194.3 L821.0 193.4 L821.1 192.4 L821.2 191.4 L821.3 190.4 L821.5 189.4 L821.6 188.4 L821.7 187.4 L821.8 186.4 L822.0 185.4 L822.1 184.4 L822.2 183.4 L822.4 182.5 L822.5 181.5 L822.6 180.5 L822.7 179.5 L822.9 178.5 L823.0 177.5 L823.1 176.5 L823.3 175.5 L823.4 174.5 L823.6 173.5 L823.7 172.5 L823.8 171.5 L824.0 170.6 L824.1 169.6 L824.2 168.6 L824.4 167.6 L824.5 166.6 L824.7 165.6 L824.8 164.6 L825.0 163.6 L825.1 162.6 L825.3 161.6 L825.4 160.6 L825.6 159.6 L825.7 158.6 L825.9 157.6 L826.0 156.6 L826.2 155.6 L826.3 154.7 L826.5 153.7 L826.6 152.7 L826.8 151.7 L826.9 150.7 L827.1 149.7 L827.3 148.7 L827.4 147.7 L827.6 146.7 L827.7 145.7 L827.9 144.7 L828.1 143.7 L828.3 142.7 L828.4 141.7 L828.6 140.7 L828.8 139.7 L829.0 138.7 L829.1 137.7 L829.3 136.7 L829.5 135.7 L829.7 134.7 L829.9 133.8 L830.1 132.8 L830.3 131.8 L830.5 130.8 L830.7 129.8 L830.9 128.8 L831.1 127.8 L831.3 126.8 L831.5 125.8 L831.7 124.8 L831.9 123.8 L832.1 122.8 L832.3 121.8 L832.6 120.9 L832.8 119.9 L833.0 118.9 L833.3 117.9 L833.5 116.9 L833.7 115.9 L834.0 114.9 L834.2 113.9 L834.5 113.0 L834.8 112.0 L835.0 111.0 L835.3 110.0 L835.5 109.0 L835.8 108.0 L836.1 107.1 L836.4 106.1 L836.7 105.2 L836.9 104.4 L837.2 103.6 L837.5 103.0 L837.9 102.4 L838.2 102.1 L838.5 101.9 L838.8 101.9 L839.1 102.0 L839.5 102.3 L839.8 102.8 L840.2 103.4 L840.5 104.1 L840.8 104.9 L841.2 105.8 L841.5 106.9 L841.9 107.9 L842.2 109.1 L842.6 110.3 L842.9 111.5 L843.2 112.8 L843.5 114.1 L843.9 115.4 L844.2 116.7 L844.5 117.9 L844.8 119.2 L845.0 120.4 L845.3 121.6 L845.6 122.7 L845.8 123.9 L846.1 125.0 L846.3 126.0 L846.6 127.1 L846.8 128.1 L847.0 129.1 L847.2 130.1 L847.4 131.1 L847.7 132.1 L847.9 133.1 L848.1 134.0 L848.2 134.9 L848.4 135.9 L848.6 136.8 L848.8 137.7 L849.0 138.6 L849.2 139.6 L849.3 140.5 L849.5 141.4 L849.7 142.3 L849.9 143.3 L850.0 144.2 L850.2 145.2 L850.4 146.1 L850.6 147.1 L850.7 148.0 L850.9 149.0 L851.1 149.9 L851.2 150.9 L851.4 151.9 L851.6 152.9 L851.7 153.8 L851.9 154.8 L852.1 155.8 L852.2 156.8 L852.4 157.8 L852.6 158.7 L852.7 159.7 L852.9 160.7 L853.1 161.7 L853.2 162.7 L853.4 163.7 L853.5 164.7 L853.7 165.6 L853.9 166.6 L854.0 167.6 L854.2 168.6 L854.3 169.6 L854.5 170.6 L854.7 171.6 L854.8 172.6 L855.0 173.5 L855.1 174.5 L855.3 175.5 L855.5 176.5 L855.6 177.5 L855.8 178.5 L855.9 179.5 L856.1 180.5 L856.2 181.4 L856.4 182.4 L856.6 183.4 L856.7 184.4 L856.9 185.4 L857.0 186.4 L857.2 187.4 L857.3 188.4 L857.5 189.4 L857.6 190.3 L857.8 191.3 L857.9 192.3 L858.1 193.3 L858.2 194.3 L858.4 195.3 L858.5 196.3 L858.7 197.3 L858.8 198.3 L859.0 199.2 L859.1 200.2 L859.3 201.2 L859.4 202.2 L859.6 203.2 L859.7 204.2 L859.9 205.2 L860.0 206.2 L860.2 207.2 L860.3 208.1 L860.5 209.1 L860.6 210.1 L860.8 211.1 L860.9 212.1 L861.1 213.1 L861.2 214.1 L861.4 215.1 L861.5 216.1 L861.7 217.0 L861.8 218.0 L862.0 219.0 L862.1 220.0 L862.2 221.0 L862.4 222.0 L862.5 223.0 L862.7 224.0 L862.8 225.0 L863.0 226.0 L863.1 226.9 L863.3 227.9 L863.4 228.9 L863.5 229.9 L863.7 230.9 L863.8 231.9 L864.0 232.9 L864.1 233.9 L864.2 234.9 L864.4 235.9 L864.5 236.8 L864.7 237.8 L864.8 238.8 L865.0 239.8 L865.1 240.8 L865.2 241.8 L865.4 242.8 L865.5 243.8 L865.7 244.8 L865.8 245.8 L865.9 246.8 L866.1 247.7 L866.2 248.7 L866.4 249.7 L866.5 250.7 L866.6 251.7 L866.8 252.7 L866.9 253.7 L867.0 254.7 L867.2 255.7 L867.3 256.7 L867.5 257.7 L867.6 258.6 L867.7 259.6 L867.9 260.6 L868.0 261.6 L868.1 262.6 L868.3 263.6 L868.4 264.6 L868.6 265.6 L868.7 266.6 L868.8 267.6 L869.0 268.6 L869.1 269.6 L869.2 270.5 L869.4 271.5 L869.5 272.5 L869.6 273.5 L869.8 274.5 L869.9 275.5 L870.1 276.5 L870.2 277.5 L870.3 278.5 L870.5 279.5 L870.6 280.5 L870.7 281.4 L870.9 282.4 L871.0 283.4 L871.1 284.4 L871.3 285.4 L871.4 286.4 L871.5 287.4 L871.7 288.4 L871.8 289.4 L871.9 290.4 L872.1 291.4 L872.2 292.4 L872.3 293.3 L872.5 294.3 L872.6 295.3 L872.7 296.3 L872.9 297.3 L873.0 298.3 L873.1 299.3 L873.3 300.3 L873.4 301.3 L873.5 302.3 L873.7 303.3 L873.8 304.3 L873.9 305.2 L874.1 306.2 L874.2 307.2 L874.3 308.2 L874.5 309.2 L874.6 310.2 L874.7 311.2 L874.9 312.2 L875.0 313.2 L875.1 314.2 L875.3 315.2 L875.4 316.2 L875.5 317.2 L875.7 318.1 L875.8 319.1 L875.9 320.1 L876.1 321.1 L876.2 322.1 L876.3 323.1 L876.5 324.1 L876.6 325.1 L876.7 326.1 L876.9 327.1 L877.0 328.1 L877.1 329.1 L877.3 330.0 L877.4 331.0 L877.5 332.0 L877.7 333.0 L877.8 334.0 L877.9 335.0 L878.1 336.0 L878.2 337.0 L878.3 338.0 L878.5 339.0 L878.6 340.0 L878.7 341.0 L878.9 341.9 L879.0 342.9 L879.1 343.9 L879.3 344.9 L879.4 345.9 L879.5 346.9 L879.7 347.9 L879.8 348.9 L879.9 349.9 L880.1 350.9 L880.2 351.9 L880.3 352.9 L880.5 353.8 L880.6 354.8 L880.7 355.8 L880.9 356.8 L881.0 357.8 L881.1 358.8 L881.3 359.8 L881.4 360.8 L881.5 361.8 L881.7 362.8 L881.8 363.8 L881.9 364.8 L882.1 365.7 L882.2 366.7 L882.4 367.7 L882.5 368.7 L882.6 369.7 L882.8 370.7 L882.9 371.7 L883.0 372.7 L883.2 373.7 L883.3 374.7 L883.4 375.7 L883.6 376.6 L883.7 377.6 L883.8 378.6 L884.0 379.6 L884.1 380.6 L884.3 381.6 L884.4 382.6 L884.5 383.6 L884.7 384.6 L884.8 385.6 L884.9 386.6 L885.1 387.5 L885.2 388.5 L885.4 389.5 L885.5 390.5 L885.6 391.5 L885.8 392.5 L885.9 393.5 L886.1 394.5 L886.2 395.5 L886.3 396.5 L886.5 397.4 L886.6 398.4 L886.7 399.4 L886.9 400.4 L887.0 401.4 L887.2 402.4 L887.3 403.4 L887.4 404.4 L887.6 405.4 L887.7 406.4 L887.9 407.4 L888.0 408.3 L888.2 409.3 L888.3 410.3 L888.4 411.3 L888.6 412.3 L888.7 413.3 L888.9 414.3 L889.0 415.3 L889.2 416.3 L889.3 417.2 L889.4 418.2 L889.6 419.2 L889.7 420.2 L889.9 421.2 L890.0 422.2 L890.2 423.2 L890.3 424.2 L890.4 425.2 L890.6 426.2 L890.7 427.1 L890.9 428.1 L891.0 429.1 L891.2 430.1 L891.3 431.1 L891.5 432.1 L891.6 433.1 L891.8 434.1 L891.9 435.1 L892.1 436.0 L892.2 437.0 L892.4 438.0 L892.5 439.0 L892.7 440.0 L892.8 441.0 L893.0 442.0 L893.1 443.0 L893.2 443.9 L893.4 444.9 L893.6 445.9 L893.7 446.9 L893.9 447.9 L894.0 448.9 L894.2 449.9 L894.3 450.9 L894.5 451.9 L894.6 452.8 L894.8 453.8 L894.9 454.8 L895.1 455.8 L895.2 456.8 L895.4 457.8 L895.5 458.8 L895.7 459.8 L895.8 460.7 L896.0 461.7 L896.2 462.7 L896.3 463.7 L896.5 464.7 L896.6 465.7 L896.8 466.7 L896.9 467.6 L897.1 468.6 L897.2 469.6 L897.4 470.6 L897.6 471.6 L897.7 472.6 L897.9 473.6 L898.0 474.6 L898.2 475.5 L898.4 476.5 L898.5 477.5 L898.7 478.5 L898.8 479.5 L899.0 480.5 L899.2 481.5 L899.3 482.4 L899.5 483.4 L899.7 484.4 L899.8 485.4 L900.0 486.4 L900.1 487.4 L900.3 488.4 L900.5 489.3 L900.6 490.3 L900.8 491.3 L901.0 492.3 L901.1 493.3 L901.3 494.3 L901.5 495.2 L901.6 496.2 L901.8 497.2 L902.0 498.2 L902.1 499.2 L902.3 500.2 L902.5 501.2 L902.7 502.1 L902.8 503.1 L903.0 504.1 L903.2 505.1 L903.3 506.1 L903.5 507.1 L903.7 508.0 L903.9 509.0 L904.0 510.0 L904.2 511.0 L904.4 512.0 L904.6 513.0 L904.7 513.9 L904.9 514.9 L905.1 515.9 L905.3 516.9 L905.4 517.9 L905.6 518.9 L905.8 519.8 L906.0 520.8 L906.1 521.8 L906.3 522.8 L906.5 523.8 L906.7 524.8 L906.9 525.7 L907.1 526.7 L907.2 527.7 L907.4 528.7 L907.6 529.7 L907.8 530.6 L908.0 531.6 L908.1 532.6 L908.3 533.6 L908.5 534.6 L908.7 535.6 L908.9 536.5 L909.1 537.5 L909.3 538.5 L909.4 539.5 L909.6 540.5 L909.8 541.4 L910.0 542.4 L910.2 543.4 L910.4 544.4 L910.6 545.4 L910.8 546.3 L911.0 547.3 L911.2 548.3 L911.3 549.3 L911.5 550.3 L911.7 551.2 L911.9 552.2 L912.1 553.2 L912.3 554.2 L912.5 555.2 L912.7 556.1 L912.9 557.1 L913.1 558.1 L913.3 559.1 L913.5 560.1 L913.7 561.0 L913.9 562.0 L914.1 563.0 L914.3 564.0 L914.5 564.9 L914.7 565.9 L914.9 566.9 L915.1 567.9 L915.3 568.9 L915.5 569.8 L915.7 570.8 L915.9 571.8 L916.1 572.8 L916.3 573.7 L916.5 574.7 L916.7 575.7 L917.0 576.7 L917.2 577.6 L917.4 578.6 L917.6 579.6 L917.8 580.6 L918.0 581.6 L918.2 582.5 L918.4 583.5 L918.6 584.5 L918.9 585.5 L919.1 586.4 L919.3 587.4 L919.5 588.4 L919.7 589.4 L919.9 590.3 L920.1 591.3 L920.4 592.3 L920.6 593.3 L920.8 594.2 L921.0 595.2 L921.2 596.2 L921.5 597.2 L921.7 598.1 L921.9 599.1 L922.1 600.1 L922.3 601.1 L922.6 602.0 L922.8 603.0 L923.0 604.0 L923.2 604.9 L923.5 605.9 L923.7 606.9 L923.9 607.9 L924.2 608.8 L924.4 609.8 L924.6 610.8 L924.8 611.8 L925.1 612.7 L925.3 613.7 L925.5 614.7 L925.8 615.6 L926.0 616.6 L926.2 617.6 L926.5 618.6 L926.7 619.5 L926.9 620.5 L927.2 621.5 L927.4 622.4 L927.7 623.4 L927.9 624.4 L928.1 625.4 L928.4 626.3 L928.6 627.3 L928.9 628.3 L929.1 629.2 L929.3 630.2 L929.6 631.2 L929.8 632.1 L930.1 633.1 L930.3 634.1 L930.6 635.1 L930.8 636.0 L931.1 637.0 L931.3 638.0 L931.6 638.9 L931.8 639.9 L932.1 640.9 L932.3 641.8 L932.6 642.8 L932.8 643.8 L933.1 644.7 L933.3 645.7 L933.6 646.7 L933.9 647.6 L934.1 648.6 L934.4 649.6 L934.6 650.5 L934.9 651.5 L935.1 652.5 L935.4 653.4 L935.7 654.4 L935.9 655.4 L936.2 656.3 L936.5 657.3 L936.7 658.3 L937.0 659.2 L937.3 660.2 L937.5 661.2 L937.8 662.1 L938.1 663.1 L938.3 664.1 L938.6 665.0 L938.9 666.0 L939.1 667.0 L939.4 667.9 L939.7 668.9 L940.0 669.9 L940.2 670.8 L940.5 671.8 L940.8 672.7 L941.1 673.7 L941.3 674.7 L941.6 675.6 L941.9 676.6 L942.2 677.6 L942.5 678.5 L942.7 679.5 L943.0 680.4 L943.3 681.4 L943.6 682.4 L943.9 683.3 L944.2 684.3 L944.5 685.3 L944.7 686.2 L945.0 687.2 L945.3 688.1 L945.6 689.1 L945.9 690.1 L946.2 691.0 L946.5 692.0 L946.8 692.9 L947.1 693.9 L947.4 694.9 L947.7 695.8 L948.0 696.8 L948.3 697.7 L948.6 698.7 L948.9 699.6 L949.2 700.6 L949.5 701.6 L949.8 702.5 L950.1 703.5 L950.4 704.4 L950.7 705.4 L951.0 706.3 L951.4 707.2 L951.7 708.2 L952.0 709.1 L952.3 710.1 L952.6 711.0 L953.0 711.9 L953.3 712.9 L953.6 713.8 L954.0 714.7 L954.3 715.7 L954.6 716.6 L955.0 717.6 L955.3 718.5 L955.6 719.4 L956.0 720.4 L956.3 721.3 L956.6 722.2 L957.0 723.1 L957.3 724.1 L957.7 725.0 L958.0 725.9 L958.4 726.9 L958.7 727.8 L959.1 728.7 L959.4 729.6 L959.8 730.6 L960.1 731.5 L960.5 732.4 L960.9 733.3 L961.2 734.3 L961.6 735.2 L961.9 736.1 L962.3 737.0 L962.7 737.9 L963.1 738.9 L963.4 739.8 L963.8 740.7 L964.2 741.6 L964.6 742.5 L964.9 743.4 L965.3 744.3 L965.7 745.3 L966.1 746.2 L966.5 747.1 L966.8 748.0 L967.2 749.0 L967.6 749.9 L968.0 750.8 L968.4 751.7 L968.8 752.6 L969.2 753.6 L969.5 754.5 L969.9 755.4 L970.3 756.3 L970.7 757.2 L971.1 758.1 L971.6 759.0 L972.0 760.0 L972.4 760.9 L972.8 761.8 L973.2 762.7 L973.6 763.6 L974.0 764.5 L974.4 765.4 L974.9 766.3 L975.3 767.2 L975.7 768.1 L976.2 769.0 L976.6 769.9 L977.0 770.8 L977.5 771.7 L977.9 772.6 L978.3 773.5 L978.8 774.4 L979.2 775.2 L979.7 776.1 L980.1 777.0 L980.6 777.9 L981.1 778.8 L981.5 779.7 L982.0 780.5 L982.4 781.4 L982.9 782.3 L983.4 783.2 L983.9 784.0 L984.3 784.9 L984.8 785.8 L985.3 786.7 L985.8 787.5 L986.3 788.4 L986.8 789.3 L987.3 790.1 L987.8 791.0 L988.3 791.8 L988.8 792.7 L989.3 793.6 L989.8 794.4 L990.3 795.3 L990.8 796.1 L991.3 797.0 L991.8 797.8 L992.4 798.7 L992.9 799.5 L993.4 800.3 L994.0 801.2 L994.5 802.0 L995.0 802.9 L995.6 803.7 L996.1 804.5 L996.7 805.4 L997.2 806.2 L997.8 807.0 L998.3 807.8 L998.9 808.7 L999.5 809.5 L1000.0 810.3 L1000.6 811.1 L1001.2 811.9 L1001.8 812.7 L1002.3 813.6 L1002.9 814.4 L1003.5 815.2 L1004.1 816.0 L1004.7 816.8 L1005.3 817.6 L1005.9 818.4 L1006.5 819.2 L1007.1 820.0 L1007.7 820.8 L1008.3 821.6 L1009.0 822.3 L1009.6 823.1 L1010.2 823.9 L1010.8 824.7 L1011.5 825.5 L1012.1 826.2 L1012.7 827.0 L1013.4 827.8 L1014.0 828.6 L1014.6 829.3 L1015.3 830.1 L1015.9 830.9 L1016.6 831.6 L1017.3 832.4 L1017.9 833.1 L1018.6 833.9 L1019.2 834.6 L1019.9 835.4 L1020.6 836.1 L1021.3 836.9 L1021.9 837.6 L1022.6 838.4 L1023.3 839.1 L1024.0 839.8 L1024.7 840.6 L1025.4 841.3 L1026.1 842.0 L1026.8 842.7 L1027.5 843.5 L1028.2 844.2 L1028.9 844.9 L1029.6 845.6 L1030.3 846.3 L1031.0 847.0 L1031.7 847.7 L1032.4 848.4 L1033.2 849.1 L1033.9 849.8 L1034.6 850.5 L1035.3 851.2 L1036.1 851.9 L1036.8 852.6 L1037.6 853.3 L1038.3 854.0 L1039.0 854.6 L1039.8 855.3 L1040.5 856.0 L1041.3 856.6 L1042.0 857.3 L1042.8 858.0 L1043.6 858.6 L1044.3 859.3 L1045.1 859.9 L1045.8 860.6 L1046.6 861.2 L1047.4 861.9 L1048.2 862.5 L1048.9 863.2 L1049.7 863.8 L1050.5 864.4 L1051.3 865.1 L1052.1 865.7 L1052.8 866.3 L1053.6 866.9 L1054.4 867.6 L1055.2 868.2 L1056.0 868.8 L1056.8 869.4 L1057.6 870.0 L1058.4 870.6 L1059.2 871.2 L1060.0 871.8 L1060.8 872.4 L1061.7 873.0 L1062.5 873.6 L1063.3 874.1 L1064.1 874.7 L1064.9 875.3 L1065.8 875.9 L1066.6 876.4 L1067.4 877.0 L1068.2 877.6 L1069.1 878.1 L1069.9 878.7 L1070.7 879.2 L1071.6 879.8 L1072.4 880.3 L1073.3 880.9 L1074.1 881.4 L1074.9 881.9 L1075.8 882.5 L1076.6 883.0 L1077.5 883.5 L1078.3 884.0 L1079.2 884.5 L1080.1 885.1 L1080.9 885.6 L1081.8 886.1 L1082.6 886.6 L1083.5 887.1 L1084.4 887.6 L1085.2 888.1 L1086.1 888.5 L1087.0 889.0 L1087.9 889.5 L1088.7 890.0 L1089.6 890.5 L1090.5 890.9 L1091.4 891.4 L1092.3 891.8 L1093.2 892.3 L1094.0 892.8 L1094.9 893.2 L1095.8 893.6 L1096.7 894.1 L1097.6 894.5 L1098.5 895.0 L1099.4 895.4 L1100.3 895.8 L1101.2 896.2 L1102.1 896.7 L1103.0 897.1 L1103.9 897.5 L1104.8 897.9 L1105.7 898.3 L1106.6 898.7 L1107.5 899.1 L1108.4 899.5 L1109.3 899.9 L1110.3 900.3 L1111.2 900.6 L1112.1 901.0 L1113.0 901.4 L1113.9 901.8 L1114.8 902.1 L1115.8 902.5 L1116.7 902.8 L1117.6 903.2 L1118.5 903.5 L1119.5 903.9 L1120.4 904.2 L1121.3 904.6 L1122.3 904.9 L1123.2 905.2 L1124.1 905.6 L1125.1 905.9 L1126.0 906.2 L1126.9 906.5 L1127.9 906.8 L1128.8 907.1 L1129.8 907.4 L1130.7 907.7 L1131.6 908.0 L1132.6 908.3 L1133.5 908.6 L1134.5 908.9 L1135.4 909.2 L1136.4 909.5 L1137.3 909.8 L1138.3 910.0 L1139.2 910.3 L1140.2 910.6 L1141.2 910.9 L1142.1 911.1 L1143.1 911.4 L1144.0 911.6 L1145.0 911.9 L1145.9 912.1 L1146.9 912.4 L1147.9 912.6 L1148.8 912.9 L1149.8 913.1 L1150.8 913.4 L1151.7 913.6 L1152.7 913.8 L1153.7 914.1 L1154.6 914.3 L1155.6 914.5 L1156.6 914.7 L1157.5 915.0 L1158.5 915.2 L1159.5 915.4 L1160.5 915.6 L1161.4 915.8 L1162.4 916.0 L1163.4 916.2 L1164.4 916.4 L1165.4 916.6 L1166.3 916.8 L1167.3 917.0 L1168.3 917.2 L1169.3 917.4 L1170.3 917.6 L1171.2 917.8 L1172.2 918.0 L1173.2 918.1 L1174.2 918.3 L1175.2 918.5 L1176.2 918.7 L1177.1 918.8 L1178.1 919.0 L1179.1 919.2 L1180.1 919.4 L1181.1 919.5 L1182.1 919.7 L1183.1 919.9 L1184.1 920.0 L1185.1 920.2 L1186.1 920.3 L1187.0 920.5 L1188.0 920.6 L1189.0 920.8 L1190.0 920.9 L1191.0 921.1 L1192.0 921.2 L1193.0 921.4 L1194.0 921.5 L1195.0 921.7 L1196.0 921.8 L1197.0 922.0 L1198.0 922.1 L1199.0 922.2 L1200.0 922.4 L1201.0 922.5 L1202.0 922.6 L1203.0 922.8 L1204.0 922.9 L1205.0 923.0 L1206.0 923.2 L1207.0 923.3 L1208.0 923.4 L1209.0 923.5 L1210.0 923.7 L1211.0 923.8 L1212.0 923.9 L1213.0 924.0 L1214.0 924.2 L1215.0 924.3 L1216.0 924.4 L1217.0 924.5 L1218.0 924.6 L1219.0 924.8 L1220.0 924.9 L1221.0 925.0 L1222.0 925.1 L1223.0 925.2 L1224.0 925.3 L1225.0 925.4 L1226.0 925.6 L1227.0 925.7 L1228.0 925.8 L1229.0 925.9 L1230.0 926.0 L1231.0 926.1 L1232.0 926.2 L1233.0 926.3 L1234.0 926.4 L1235.0 926.5 L1236.0 926.7 L1237.0 926.8 L1238.0 926.9 L1239.0 927.0 L1240.0 927.1 L1241.0 927.2 L1242.1 927.3 L1243.1 927.4 L1244.1 927.5 L1245.1 927.6 L1246.1 927.7 L1247.1 927.8 L1248.1 927.9 L1249.1 928.1 L1250.1 928.2 L1251.1 928.3 L1252.1 928.4 L1253.1 928.5 L1254.1 928.6 L1255.0 928.7 L1256.0 928.8 L1257.0 928.9 L1258.0 929.0 L1259.0 929.1 L1260.0 929.3 L1261.0 929.4 L1262.0 929.5 L1263.0 929.6 L1264.0 929.7 L1265.0 929.8 L1266.0 929.9 L1267.0 930.0 L1268.0 930.2 L1269.0 930.3 L1270.0 930.4 L1271.0 930.5 L1272.0 930.6 L1273.0 930.8 L1273.9 930.9 L1274.9 931.0 L1275.9 931.1 L1276.9 931.2 L1277.9 931.4 L1278.9 931.5 L1279.9 931.6 L1280.9 931.7 L1281.8 931.9 L1282.8 932.0 L1283.8 932.1 L1284.8 932.3 L1285.8 932.4 L1286.8 932.5 L1287.7 932.7 L1288.7 932.8 L1289.7 932.9 L1290.7 933.1 L1291.7 933.2 L1292.6 933.4 L1293.6 933.5 L1294.6 933.6 L1295.6 933.8 L1296.5 933.9 L1297.5 934.1 L1298.5 934.2 L1299.4 934.4 L1300.4 934.5 L1301.4 934.7 L1302.4 934.9 L1303.3 935.0 L1304.3 935.2 L1305.3 935.3 L1306.2 935.5 L1307.2 935.7 L1308.2 935.8 L1309.1 936.0 L1310.1 936.2 L1311.1 936.3 L1312.0 936.5 L1313.0 936.7 L1314.0 936.9 L1314.9 937.0 L1315.9 937.2 L1316.9 937.4 L1317.8 937.6 L1318.8 937.8 L1319.8 938.0 L1320.7 938.2 L1321.7 938.3 L1322.6 938.5 L1323.6 938.7 L1324.6 938.9 L1325.5 939.1 L1326.5 939.3 L1327.5 939.5 L1328.4 939.7 L1329.4 939.9 L1330.3 940.1 L1331.3 940.4 L1332.3 940.6 L1333.2 940.8 L1334.2 941.0 L1335.2 941.2 L1336.1 941.4 L1337.1 941.7 L1338.0 941.9 L1339.0 942.1 L1340.0 942.3 L1340.9 942.6 L1341.9 942.8 L1342.9 943.0 L1343.8 943.3 L1344.8 943.5 L1345.8 943.8 L1346.7 944.0 L1347.7 944.3 L1348.7 944.5 L1349.6 944.8 L1350.6 945.0 L1351.6 945.3 L1352.5 945.5 L1353.5 945.8 L1354.5 946.0 L1355.4 946.3 L1356.4 946.6 L1357.4 946.8 L1358.4 947.1 L1359.3 947.4 L1360.3 947.7 L1361.3 947.9 L1362.3 948.2 L1363.2 948.5 L1364.2 948.8 L1365.2 949.0 L1366.2 949.3 L1367.1 949.6 L1368.1 949.9 L1369.1 950.1 L1370.1 950.4 L1371.0 950.7 L1372.0 950.9 L1373.0 951.2 L1374.0 951.5 L1375.0 951.7 L1375.9 952.0 L1376.9 952.2 L1377.9 952.5 L1378.9 952.7 L1379.9 953.0 L1380.8 953.2 L1381.8 953.5 L1382.8 953.7 L1383.8 953.9 L1384.8 954.1 L1385.8 954.4 L1386.7 954.6 L1387.7 954.8 L1388.7 955.0 L1389.7 955.2 L1390.7 955.3 L1391.7 955.5 L1392.6 955.7 L1393.6 955.9 L1394.6 956.0 L1395.6 956.1 L1396.6 956.3 L1397.6 956.4 L1398.5 956.5 L1399.5 956.6 L1400.5 956.7 L1401.5 956.8 L1402.5 956.9 L1403.4 957.0 L1404.0 957.0 L1404.0 957.0 L1431.2 957.1" fill="none" stroke="#f00" stroke-width="5" stroke-linejoin="round"/>
<circle cx="157.5" cy="956.0" r="9.8" fill="#f00"/>
<circle cx="271.5" cy="956.3" r="9.8" fill="#f00"/>
<circle cx="387.3" cy="953.7" r="9.8" fill="#f00"/>
<circle cx="504.0" cy="940.8" r="9.8" fill="#f00"/>
<circle cx="619.5" cy="881.7" r="9.8" fill="#f00"/>
<circle cx="736.5" cy="533.9" r="9.8" fill="#f00"/>
<circle cx="853.0" cy="158.5" r="9.8" fill="#f00"/>
<circle cx="968.9" cy="750.5" r="9.8" fill="#f00"/>
<circle cx="1085.0" cy="888.1" r="9.8" fill="#f00"/>
<circle cx="1201.0" cy="922.5" r="9.8" fill="#f00"/>
<circle cx="1317.0" cy="937.4" r="9.8" fill="#f00"/>
<path d="M158.4 956.0 L159.4 956.0 L160.4 955.9 L161.4 955.9 L162.4 955.9 L163.4 955.9 L164.3 955.9 L165.3 955.8 L166.3 955.8 L167.3 955.8 L168.3 955.8 L169.3 955.8 L170.3 955.7 L171.3 955.7 L172.3 955.7 L173.3 955.7 L174.3 955.7 L175.3 955.7 L176.3 955.7 L177.3 955.6 L178.3 955.6 L179.3 955.6 L180.3 955.6 L181.3 955.6 L182.3 955.6 L183.3 955.6 L184.2 955.6 L185.2 955.6 L186.2 955.6 L187.2 955.6 L188.2 955.6 L189.2 955.6 L190.2 955.6 L191.2 955.6 L192.2 955.5 L193.2 955.5 L194.2 955.5 L195.2 955.5 L196.2 955.5 L197.2 955.5 L198.2 955.5 L199.2 955.5 L200.2 955.5 L201.2 955.6 L202.2 955.6 L203.2 955.6 L204.2 955.6 L205.2 955.6 L206.2 955.6 L207.2 955.6 L208.2 955.6 L209.2 955.6 L210.2 955.6 L211.2 955.6 L212.2 955.6 L213.2 955.6 L214.3 955.6 L215.3 955.6 L216.3 955.6 L217.3 955.6 L218.3 955.7 L219.3 955.7 L220.3 955.7 L221.3 955.7 L222.3 955.7 L223.3 955.7 L224.3 955.7 L225.3 955.7 L226.3 955.7 L227.3 955.7 L228.3 955.8 L229.3 955.8 L230.3 955.8 L231.3 955.8 L232.3 955.8 L233.3 955.8 L234.3 955.8 L235.3 955.8 L236.3 955.8 L237.3 955.9 L238.3 955.9 L239.3 955.9 L240.3 955.9 L241.4 955.9 L242.4 955.9 L243.4 955.9 L244.4 955.9 L245.4 956.0 L246.4 956.0 L247.4 956.0 L248.4 956.0 L249.4 956.0 L250.4 956.0 L251.4 956.0 L252.4 956.0 L253.4 956.1 L254.4 956.1 L255.4 956.1 L256.4 956.1 L257.4 956.1 L258.4 956.1 L259.4 956.1 L260.4 956.1 L261.5 956.2 L262.5 956.2 L263.5 956.2 L264.5 956.2 L265.5 956.2 L266.5 956.2 L267.5 956.2 L268.5 956.2 L269.5 956.3 L270.5 956.3 L271.5 956.3 L272.5 956.3 L273.5 956.3 L274.5 956.3 L275.5 956.3 L276.5 956.3 L277.5 956.3 L278.5 956.3 L279.5 956.3 L280.5 956.4 L281.5 956.4 L282.6 956.4 L283.6 956.4 L284.6 956.4 L285.6 956.4 L286.6 956.4 L287.6 956.4 L288.6 956.4 L289.6 956.4 L290.6 956.4 L291.6 956.4 L292.6 956.4 L293.6 956.4 L294.6 956.4 L295.6 956.4 L296.6 956.4 L297.6 956.4 L298.6 956.4 L299.6 956.4 L300.6 956.4 L301.6 956.4 L302.6 956.4 L303.6 956.4 L304.6 956.4 L305.6 956.4 L306.6 956.4 L307.6 956.4 L308.6 956.4 L309.6 956.4 L310.6 956.4 L311.6 956.4 L312.6 956.4 L313.6 956.4 L314.6 956.4 L315.6 956.4 L316.6 956.3 L317.6 956.3 L318.6 956.3 L319.6 956.3 L320.6 956.3 L321.6 956.3 L322.6 956.3 L323.6 956.3 L324.6 956.2 L325.6 956.2 L326.6 956.2 L327.6 956.2 L328.6 956.2 L329.6 956.2 L330.6 956.1 L331.6 956.1 L332.6 956.1 L333.6 956.1 L334.6 956.0 L335.6 956.0 L336.6 956.0 L337.6 956.0 L338.6 955.9 L339.6 955.9 L340.6 955.9 L341.6 955.9 L342.6 955.8 L343.6 955.8 L344.6 955.8 L345.5 955.7 L346.5 955.7 L347.5 955.7 L348.5 955.6 L349.5 955.6 L350.5 955.6 L351.5 955.5 L352.5 955.5 L353.5 955.5 L354.5 955.4 L355.5 955.4 L356.5 955.3 L357.5 955.3 L358.5 955.3 L359.5 955.2 L360.5 955.2 L361.4 955.1 L362.4 955.1 L363.4 955.0 L364.4 955.0 L365.4 954.9 L366.4 954.9 L367.4 954.8 L368.4 954.8 L369.4 954.7 L370.4 954.7 L371.4 954.6 L372.4 954.6 L373.4 954.5 L374.3 954.5 L375.3 954.4 L376.3 954.4 L377.3 954.3 L378.3 954.3 L379.3 954.2 L380.3 954.1 L381.3 954.1 L382.3 954.0 L383.3 954.0 L384.3 953.9 L385.3 953.8 L386.2 953.8 L387.2 953.7 L388.2 953.6 L389.2 953.6 L390.2 953.5 L391.2 953.4 L392.2 953.4 L393.2 953.3 L394.2 953.2 L395.2 953.2 L396.2 953.1 L397.2 953.0 L398.2 953.0 L399.1 952.9 L400.1 952.8 L401.1 952.7 L402.1 952.7 L403.1 952.6 L404.1 952.5 L405.1 952.4 L406.1 952.4 L407.1 952.3 L408.1 952.2 L409.1 952.1 L410.1 952.1 L411.1 952.0 L412.1 951.9 L413.1 951.8 L414.0 951.7 L415.0 951.7 L416.0 951.6 L417.0 951.5 L418.0 951.4 L419.0 951.3 L420.0 951.2 L421.0 951.1 L422.0 951.1 L423.0 951.0 L424.0 950.9 L425.0 950.8 L426.0 950.7 L427.0 950.6 L428.0 950.5 L429.0 950.4 L430.0 950.3 L431.0 950.2 L432.0 950.2 L433.0 950.1 L434.0 950.0 L435.0 949.9 L436.0 949.8 L437.0 949.7 L438.0 949.6 L439.0 949.5 L440.0 949.4 L441.0 949.3 L442.0 949.2 L443.0 949.1 L444.0 949.0 L445.0 948.9 L446.0 948.8 L447.0 948.7 L448.0 948.6 L449.0 948.5 L450.0 948.4 L451.0 948.3 L452.0 948.2 L453.0 948.0 L454.0 947.9 L455.0 947.8 L456.0 947.7 L457.0 947.6 L458.0 947.5 L459.0 947.4 L460.0 947.3 L461.0 947.2 L462.0 947.1 L463.0 946.9 L464.0 946.8 L465.0 946.7 L466.0 946.6 L467.0 946.5 L468.0 946.3 L469.0 946.2 L470.0 946.1 L471.0 946.0 L472.0 945.8 L473.0 945.7 L474.0 945.6 L475.0 945.5 L476.0 945.3 L477.0 945.2 L478.0 945.1 L479.0 944.9 L480.0 944.8 L481.1 944.6 L482.1 944.5 L483.1 944.4 L484.1 944.2 L485.1 944.1 L486.1 943.9 L487.1 943.8 L488.0 943.6 L489.0 943.5 L490.0 943.3 L491.0 943.1 L492.0 943.0 L493.0 942.8 L494.0 942.7 L495.0 942.5 L496.0 942.3 L497.0 942.2 L498.0 942.0 L499.0 941.8 L500.0 941.6 L501.0 941.4 L502.0 941.3 L503.0 941.1 L503.9 940.9 L504.9 940.7 L505.9 940.5 L506.9 940.3 L507.9 940.1 L508.9 939.9 L509.9 939.7 L510.8 939.5 L511.8 939.3 L512.8 939.1 L513.8 938.9 L514.8 938.6 L515.7 938.4 L516.7 938.2 L517.7 938.0 L518.7 937.7 L519.6 937.5 L520.6 937.3 L521.6 937.0 L522.6 936.8 L523.5 936.5 L524.5 936.3 L525.5 936.0 L526.4 935.8 L527.4 935.5 L528.4 935.3 L529.3 935.0 L530.3 934.7 L531.2 934.5 L532.2 934.2 L533.2 933.9 L534.1 933.6 L535.1 933.3 L536.0 933.0 L537.0 932.8 L537.9 932.5 L538.9 932.2 L539.8 931.8 L540.8 931.5 L541.7 931.2 L542.6 930.9 L543.6 930.6 L544.5 930.3 L545.5 929.9 L546.4 929.6 L547.3 929.3 L548.3 928.9 L549.2 928.6 L550.1 928.2 L551.1 927.9 L552.0 927.5 L552.9 927.1 L553.8 926.8 L554.7 926.4 L555.7 926.0 L556.6 925.6 L557.5 925.3 L558.4 924.9 L559.3 924.5 L560.2 924.1 L561.1 923.7 L562.0 923.3 L562.9 922.9 L563.8 922.4 L564.7 922.0 L565.6 921.6 L566.5 921.2 L567.4 920.7 L568.3 920.3 L569.2 919.8 L570.1 919.4 L571.0 918.9 L571.9 918.5 L572.7 918.0 L573.6 917.5 L574.5 917.0 L575.4 916.6 L576.2 916.1 L577.1 915.6 L578.0 915.1 L578.8 914.6 L579.7 914.1 L580.6 913.6 L581.4 913.0 L582.3 912.5 L583.1 912.0 L584.0 911.4 L584.8 910.9 L585.7 910.4 L586.5 909.8 L587.3 909.2 L588.2 908.7 L589.0 908.1 L589.8 907.5 L590.7 907.0 L591.5 906.4 L592.3 905.8 L593.1 905.2 L594.0 904.6 L594.8 904.0 L595.6 903.4 L596.4 902.8 L597.2 902.2 L598.0 901.5 L598.8 900.9 L599.6 900.3 L600.4 899.6 L601.2 899.0 L602.0 898.4 L602.7 897.7 L603.5 897.1 L604.3 896.4 L605.1 895.7 L605.8 895.1 L606.6 894.4 L607.4 893.8 L608.1 893.1 L608.9 892.4 L609.6 891.7 L610.4 891.0 L611.1 890.3 L611.9 889.7 L612.6 889.0 L613.3 888.3 L614.0 887.6 L614.8 886.9 L615.5 886.2 L616.2 885.5 L616.9 884.7 L617.6 884.0 L618.3 883.3 L619.0 882.6 L619.7 881.9 L620.4 881.1 L621.1 880.4 L621.8 879.7 L622.5 879.0 L623.1 878.2 L623.8 877.5 L624.5 876.7 L625.2 876.0 L625.8 875.2 L626.5 874.5 L627.1 873.7 L627.8 873.0 L628.4 872.2 L629.1 871.5 L629.7 870.7 L630.3 870.0 L631.0 869.2 L631.6 868.4 L632.2 867.6 L632.8 866.9 L633.4 866.1 L634.1 865.3 L634.7 864.5 L635.3 863.8 L635.9 863.0 L636.5 862.2 L637.1 861.4 L637.6 860.6 L638.2 859.8 L638.8 859.0 L639.4 858.2 L640.0 857.4 L640.5 856.6 L641.1 855.8 L641.7 855.0 L642.2 854.2 L642.8 853.4 L643.4 852.6 L643.9 851.7 L644.5 850.9 L645.0 850.1 L645.6 849.3 L646.1 848.5 L646.6 847.6 L647.2 846.8 L647.7 846.0 L648.2 845.1 L648.7 844.3 L649.3 843.5 L649.8 842.6 L650.3 841.8 L650.8 840.9 L651.3 840.1 L651.8 839.2 L652.3 838.4 L652.8 837.5 L653.3 836.7 L653.8 835.8 L654.3 835.0 L654.8 834.1 L655.3 833.3 L655.7 832.4 L656.2 831.5 L656.7 830.7 L657.2 829.8 L657.6 828.9 L658.1 828.1 L658.6 827.2 L659.0 826.3 L659.5 825.4 L659.9 824.6 L660.4 823.7 L660.8 822.8 L661.3 821.9 L661.7 821.0 L662.2 820.2 L662.6 819.3 L663.1 818.4 L663.5 817.5 L663.9 816.6 L664.3 815.7 L664.8 814.8 L665.2 813.9 L665.6 813.0 L666.0 812.1 L666.5 811.2 L666.9 810.3 L667.3 809.4 L667.7 808.5 L668.1 807.6 L668.5 806.7 L668.9 805.8 L669.3 804.9 L669.7 804.0 L670.1 803.0 L670.5 802.1 L670.9 801.2 L671.3 800.3 L671.6 799.4 L672.0 798.5 L672.4 797.5 L672.8 796.6 L673.2 795.7 L673.5 794.8 L673.9 793.8 L674.3 792.9 L674.6 792.0 L675.0 791.0 L675.4 790.1 L675.7 789.2 L676.1 788.2 L676.4 787.3 L676.8 786.4 L677.2 785.4 L677.5 784.5 L677.9 783.6 L678.2 782.6 L678.5 781.7 L678.9 780.7 L679.2 779.8 L679.6 778.9 L679.9 777.9 L680.2 777.0 L680.6 776.0 L680.9 775.1 L681.2 774.1 L681.6 773.2 L681.9 772.2 L682.2 771.3 L682.5 770.3 L682.9 769.4 L683.2 768.4 L683.5 767.5 L683.8 766.5 L684.1 765.6 L684.4 764.6 L684.8 763.6 L685.1 762.7 L685.4 761.7 L685.7 760.8 L686.0 759.8 L686.3 758.8 L686.6 757.9 L686.9 756.9 L687.2 756.0 L687.5 755.0 L687.8 754.0 L688.1 753.1 L688.4 752.1 L688.7 751.1 L689.0 750.2 L689.3 749.2 L689.5 748.2 L689.8 747.3 L690.1 746.3 L690.4 745.3 L690.7 744.4 L691.0 743.4 L691.3 742.4 L691.5 741.5 L691.8 740.5 L692.1 739.5 L692.4 738.5 L692.6 737.6 L692.9 736.6 L693.2 735.6 L693.5 734.7 L693.7 733.7 L694.0 732.7 L694.3 731.7 L694.5 730.8 L694.8 729.8 L695.1 728.8 L695.3 727.8 L695.6 726.9 L695.9 725.9 L696.1 724.9 L696.4 723.9 L696.6 723.0 L696.9 722.0 L697.2 721.0 L697.4 720.0 L697.7 719.1 L697.9 718.1 L698.2 717.1 L698.4 716.1 L698.7 715.2 L699.0 714.2 L699.2 713.2 L699.5 712.2 L699.7 711.3 L700.0 710.3 L700.2 709.3 L700.5 708.3 L700.7 707.4 L701.0 706.4 L701.2 705.4 L701.5 704.4 L701.7 703.4 L701.9 702.5 L702.2 701.5 L702.4 700.5 L702.7 699.5 L702.9 698.6 L703.2 697.6 L703.4 696.6 L703.6 695.6 L703.9 694.7 L704.1 693.7 L704.4 692.7 L704.6 691.7 L704.8 690.7 L705.1 689.8 L705.3 688.8 L705.5 687.8 L705.8 686.8 L706.0 685.9 L706.2 684.9 L706.5 683.9 L706.7 682.9 L706.9 681.9 L707.2 681.0 L707.4 680.0 L707.6 679.0 L707.8 678.0 L708.1 677.1 L708.3 676.1 L708.5 675.1 L708.7 674.1 L709.0 673.1 L709.2 672.2 L709.4 671.2 L709.6 670.2 L709.9 669.2 L710.1 668.3 L710.3 667.3 L710.5 666.3 L710.7 665.3 L711.0 664.3 L711.2 663.4 L711.4 662.4 L711.6 661.4 L711.8 660.4 L712.0 659.4 L712.3 658.5 L712.5 657.5 L712.7 656.5 L712.9 655.5 L713.1 654.6 L713.3 653.6 L713.5 652.6 L713.8 651.6 L714.0 650.6 L714.2 649.7 L714.4 648.7 L714.6 647.7 L714.8 646.7 L715.0 645.7 L715.2 644.8 L715.4 643.8 L715.6 642.8 L715.8 641.8 L716.0 640.8 L716.3 639.9 L716.5 638.9 L716.7 637.9 L716.9 636.9 L717.1 635.9 L717.3 635.0 L717.5 634.0 L717.7 633.0 L717.9 632.0 L718.1 631.0 L718.3 630.1 L718.5 629.1 L718.7 628.1 L718.9 627.1 L719.1 626.1 L719.3 625.2 L719.5 624.2 L719.7 623.2 L719.8 622.2 L720.0 621.2 L720.2 620.3 L720.4 619.3 L720.6 618.3 L720.8 617.3 L721.0 616.3 L721.2 615.4 L721.4 614.4 L721.6 613.4 L721.8 612.4 L722.0 611.4 L722.2 610.4 L722.3 609.5 L722.5 608.5 L722.7 607.5 L722.9 606.5 L723.1 605.5 L723.3 604.6 L723.5 603.6 L723.7 602.6 L723.8 601.6 L724.0 600.6 L724.2 599.7 L724.4 598.7 L724.6 597.7 L724.8 596.7 L724.9 595.7 L725.1 594.7 L725.3 593.8 L725.5 592.8 L725.7 591.8 L725.9 590.8 L726.0 589.8 L726.2 588.9 L726.4 587.9 L726.6 586.9 L726.8 585.9 L726.9 584.9 L727.1 583.9 L727.3 583.0 L727.5 582.0 L727.6 581.0 L727.8 580.0 L728.0 579.0 L728.2 578.1 L728.3 577.1 L728.5 576.1 L728.7 575.1 L728.9 574.1 L729.0 573.1 L729.2 572.2 L729.4 571.2 L729.6 570.2 L729.7 569.2 L729.9 568.2 L730.1 567.2 L730.3 566.3 L730.4 565.3 L730.6 564.3 L730.8 563.3 L730.9 562.3 L731.1 561.3 L731.3 560.4 L731.4 559.4 L731.6 558.4 L731.8 557.4 L731.9 556.4 L732.1 555.4 L732.3 554.5 L732.5 553.5 L732.6 552.5 L732.8 551.5 L733.0 550.5 L733.1 549.6 L733.3 548.6 L733.4 547.6 L733.6 546.6 L733.8 545.6 L733.9 544.6 L734.1 543.7 L734.3 542.7 L734.4 541.7 L734.6 540.7 L734.8 539.7 L734.9 538.7 L735.1 537.7 L735.3 536.8 L735.4 535.8 L735.6 534.8 L735.7 533.8 L735.9 532.8 L736.1 531.8 L736.2 530.9 L736.4 529.9 L736.5 528.9 L736.7 527.9 L736.9 526.9 L737.0 525.9 L737.2 525.0 L737.3 524.0 L737.5 523.0 L737.7 522.0 L737.8 521.0 L738.0 520.0 L738.1 519.1 L738.3 518.1 L738.5 517.1 L738.6 516.1 L738.8 515.1 L738.9 514.1 L739.1 513.2 L739.2 512.2 L739.4 511.2 L739.5 510.2 L739.7 509.2 L739.9 508.2 L740.0 507.2 L740.2 506.3 L740.3 505.3 L740.5 504.3 L740.6 503.3 L740.8 502.3 L740.9 501.3 L741.1 500.4 L741.3 499.4 L741.4 498.4 L741.6 497.4 L741.7 496.4 L741.9 495.4 L742.0 494.4 L742.2 493.5 L742.3 492.5 L742.5 491.5 L742.6 490.5 L742.8 489.5 L742.9 488.5 L743.1 487.6 L743.3 486.6 L743.4 485.6 L743.6 484.6 L743.7 483.6 L743.9 482.6 L744.0 481.6 L744.2 480.7 L744.3 479.7 L744.5 478.7 L744.6 477.7 L744.8 476.7 L744.9 475.7 L745.1 474.7 L745.2 473.8 L745.4 472.8 L745.5 471.8 L745.7 470.8 L745.8 469.8 L746.0 468.8 L746.1 467.9 L746.3 466.9 L746.4 465.9 L746.6 464.9 L746.7 463.9 L746.9 462.9 L747.0 461.9 L747.2 461.0 L747.3 460.0 L747.5 459.0 L747.6 458.0 L747.8 457.0 L747.9 456.0 L748.1 455.0 L748.2 454.1 L748.4 453.1 L748.5 452.1 L748.7 451.1 L748.8 450.1 L749.0 449.1 L749.1 448.1 L749.3 447.2 L749.4 446.2 L749.6 445.2 L749.7 444.2 L749.9 443.2 L750.0 442.2 L750.2 441.2 L750.3 440.3 L750.5 439.3 L750.6 438.3 L750.8 437.3 L750.9 436.3 L751.1 435.3 L751.2 434.3 L751.4 433.4 L751.5 432.4 L751.7 431.4 L751.8 430.4 L752.0 429.4 L752.1 428.4 L752.3 427.4 L752.4 426.5 L752.6 425.5 L752.7 424.5 L752.9 423.5 L753.0 422.5 L753.2 421.5 L753.3 420.5 L753.5 419.6 L753.6 418.6 L753.8 417.6 L753.9 416.6 L754.1 415.6 L754.2 414.6 L754.4 413.6 L754.5 412.7 L754.7 411.7 L754.8 410.7 L755.0 409.7 L755.1 408.7 L755.3 407.7 L755.4 406.7 L755.6 405.8 L755.7 404.8 L755.9 403.8 L756.0 402.8 L756.2 401.8 L756.3 400.8 L756.5 399.8 L756.6 398.9 L756.8 397.9 L756.9 396.9 L757.1 395.9 L757.3 394.9 L757.4 393.9 L757.6 392.9 L757.7 391.9 L757.9 391.0 L758.0 390.0 L758.2 389.0 L758.3 388.0 L758.5 387.0 L758.6 386.0 L758.8 385.0 L758.9 384.1 L759.1 383.1 L759.2 382.1 L759.4 381.1 L759.6 380.1 L759.7 379.1 L759.9 378.1 L760.0 377.2 L760.2 376.2 L760.3 375.2 L760.5 374.2 L760.6 373.2 L760.8 372.2 L761.0 371.2 L761.1 370.3 L761.3 369.3 L761.4 368.3 L761.6 367.3 L761.7 366.3 L761.9 365.3 L762.0 364.3 L762.2 363.3 L762.4 362.4 L762.5 361.4 L762.7 360.4 L762.8 359.4 L763.0 358.4 L763.2 357.4 L763.3 356.4 L763.5 355.5 L763.6 354.5 L763.8 353.5 L764.0 352.5 L764.1 351.5 L764.3 350.5 L764.4 349.5 L764.6 348.6 L764.8 347.6 L764.9 346.6 L765.1 345.6 L765.2 344.6 L765.4 343.6 L765.6 342.6 L765.7 341.7 L765.9 340.7 L766.1 339.7 L766.2 338.7 L766.4 337.7 L766.6 336.7 L766.7 335.7 L766.9 334.7 L767.0 333.8 L767.2 332.8 L767.4 331.8 L767.5 330.8 L767.7 329.8 L767.9 328.8 L768.0 327.8 L768.2 326.9 L768.4 325.9 L768.5 324.9 L768.7 323.9 L768.9 322.9 L769.0 321.9 L769.2 320.9 L769.4 320.0 L769.6 319.0 L769.7 318.0 L769.9 317.0 L770.1 316.0 L770.3 315.0 L770.4 314.0 L770.6 313.1 L770.8 312.1 L771.0 311.1 L771.2 310.1 L771.4 309.1 L771.6 308.1 L771.8 307.1 L772.0 306.1 L772.2 305.2 L772.4 304.2 L772.6 303.2 L772.8 302.2 L773.1 301.2 L773.3 300.2 L773.5 299.2 L773.8 298.2 L774.0 297.3 L774.3 296.3 L774.5 295.3 L774.8 294.3 L775.1 293.3 L775.3 292.3 L775.6 291.3 L775.9 290.3 L776.2 289.4 L776.5 288.4 L776.8 287.4 L777.1 286.4 L777.5 285.4 L777.8 284.4 L778.1 283.4 L778.5 282.4 L778.8 281.5 L779.2 280.5 L779.6 279.5 L779.9 278.5 L780.3 277.5 L780.7 276.5 L781.2 275.5 L781.6 274.5 L782.0 273.5 L782.4 272.6 L782.9 271.6 L783.4 270.7 L783.9 269.7 L784.4 268.8 L784.9 268.0 L785.4 267.2 L786.0 266.4 L786.5 265.6 L787.1 265.0 L787.7 264.4 L788.4 263.8 L789.0 263.3 L789.7 262.9 L790.4 262.6 L791.2 262.3 L791.9 262.2 L792.7 262.1 L793.5 262.1 L794.3 262.2 L795.1 262.4 L795.9 262.7 L796.6 263.1 L797.4 263.5 L798.1 264.1 L798.7 264.8 L799.4 265.5 L800.0 266.3 L800.6 267.2 L801.1 268.1 L801.6 269.1 L802.1 270.0 L802.5 271.1 L802.9 272.1 L803.3 273.2 L803.7 274.2 L804.1 275.3 L804.4 276.3 L804.8 277.4 L805.1 278.4 L805.5 279.4 L805.9 280.4 L806.3 281.3 L806.7 282.2 L807.1 283.1 L807.6 283.9 L808.1 284.6 L808.7 285.3 L808.8 285.4 L808.8 285.4 L809.0 284.4 L809.2 283.5 L809.4 282.5 L809.6 281.5 L809.8 280.5 L810.0 279.6 L810.2 278.6 L810.4 277.6 L810.5 276.6 L810.7 275.6 L810.9 274.7 L811.0 273.7 L811.2 272.7 L811.3 271.7 L811.5 270.7 L811.6 269.7 L811.8 268.7 L811.9 267.7 L812.1 266.7 L812.2 265.8 L812.3 264.8 L812.5 263.8 L812.6 262.8 L812.7 261.8 L812.8 260.8 L812.9 259.8 L813.1 258.8 L813.2 257.8 L813.3 256.8 L813.4 255.8 L813.5 254.8 L813.6 253.8 L813.7 252.8 L813.8 251.8 L814.0 250.8 L814.1 249.8 L814.2 248.8 L814.3 247.8 L814.4 246.8 L814.5 245.8 L814.6 244.8 L814.7 243.8 L814.8 242.8 L814.9 241.8 L815.0 240.8 L815.1 239.8 L815.2 238.8 L815.3 237.8 L815.4 236.8 L815.5 235.8 L815.7 234.8 L815.8 233.8 L815.9 232.8 L816.0 231.8 L816.1 230.8 L816.2 229.8 L816.3 228.8 L816.4 227.9 L816.5 226.9 L816.6 225.9 L816.8 224.9 L816.9 223.9 L817.0 222.9 L817.1 221.9 L817.2 220.9 L817.3 219.9 L817.4 218.9 L817.5 217.9 L817.6 217.0 L817.8 216.0 L817.9 215.0 L818.0 214.0 L818.1 213.0 L818.2 212.0 L818.3 211.0 L818.4 210.0 L818.6 209.0 L818.7 208.1 L818.8 207.1 L818.9 206.1 L819.0 205.1 L819.1 204.1 L819.2 203.1 L819.4 202.1 L819.5 201.1 L819.6 200.2 L819.7 199.2 L819.8 198.2 L819.9 197.2 L820.0 196.2 L820.1 195.2 L820.3 194.2 L820.4 193.2 L820.5 192.3 L820.6 191.3 L820.7 190.3 L820.8 189.3 L820.9 188.3 L821.1 187.3 L821.2 186.3 L821.3 185.3 L821.4 184.4 L821.5 183.4 L821.6 182.4 L821.7 181.4 L821.9 180.4 L822.0 179.4 L822.1 178.4 L822.2 177.4 L822.3 176.4 L822.4 175.5 L822.5 174.5 L822.6 173.5 L822.7 172.5 L822.9 171.5 L823.0 170.5 L823.1 169.5 L823.2 168.5 L823.3 167.5 L823.4 166.5 L823.5 165.5 L823.6 164.5 L823.7 163.5 L823.8 162.6 L824.0 161.6 L824.1 160.6 L824.2 159.6 L824.3 158.6 L824.4 157.6 L824.5 156.6 L824.6 155.6 L824.7 154.6 L824.8 153.6 L824.9 152.6 L825.0 151.6 L825.1 150.6 L825.2 149.6 L825.3 148.6 L825.4 147.6 L825.5 146.6 L825.6 145.6 L825.7 144.6 L825.9 143.6 L826.0 142.6 L826.1 141.6 L826.2 140.6 L826.3 139.6 L826.4 138.6 L826.5 137.6 L826.5 136.5 L826.6 135.5 L826.7 134.5 L826.8 133.5 L826.9 132.5 L827.0 131.5 L827.1 130.5 L827.2 129.5 L827.3 128.5 L827.4 127.5 L827.5 126.4 L827.6 125.4 L827.7 124.4 L827.8 123.4 L827.9 122.4 L828.0 121.4 L828.1 120.4 L828.2 119.4 L828.3 118.3 L828.4 117.3 L828.6 116.3 L828.7 115.3 L828.8 114.3 L828.9 113.3 L829.0 112.3 L829.2 111.3 L829.3 110.3 L829.5 109.3 L829.6 108.3 L829.7 107.3 L829.9 106.3 L830.0 105.3 L830.2 104.3 L830.4 103.3 L830.5 102.3 L830.7 101.3 L830.9 100.3 L831.1 99.3 L831.3 98.3 L831.5 97.4 L831.7 96.4 L831.9 95.4 L832.1 94.4 L832.4 93.4 L832.6 92.5 L832.8 91.5 L833.1 90.5 L833.3 89.6 L833.6 88.6 L833.9 87.7 L834.2 86.7 L834.5 85.7 L834.8 84.8 L835.1 83.8 L835.4 82.9 L835.7 82.0 L836.0 81.0 L836.4 80.1 L836.8 79.2 L837.1 78.4 L837.5 77.6 L837.9 76.9 L838.3 76.4 L838.7 76.0 L839.2 75.8 L839.6 75.8 L840.1 76.0 L840.5 76.4 L841.0 76.9 L841.5 77.5 L841.9 78.3 L842.4 79.1 L842.9 80.0 L843.3 81.0 L843.7 82.1 L844.1 83.2 L844.5 84.2 L844.9 85.3 L845.2 86.4 L845.6 87.5 L845.9 88.6 L846.1 89.6 L846.4 90.7 L846.6 91.7 L846.8 92.8 L847.0 93.8 L847.2 94.8 L847.4 95.9 L847.6 96.9 L847.7 97.9 L847.9 98.9 L848.0 99.9 L848.1 101.0 L848.2 102.0 L848.4 103.0 L848.5 104.0 L848.6 105.0 L848.7 106.0 L848.8 107.0 L848.9 108.0 L849.0 109.0 L849.1 109.9 L849.3 110.9 L849.4 111.9 L849.5 112.9 L849.7 113.9 L849.8 114.9 L849.9 115.9 L850.1 116.9 L850.2 117.9 L850.4 118.9 L850.5 119.8 L850.7 120.8 L850.8 121.8 L851.0 122.8 L851.1 123.8 L851.3 124.8 L851.4 125.8 L851.6 126.8 L851.7 127.7 L851.9 128.7 L852.0 129.7 L852.2 130.7 L852.4 131.7 L852.5 132.7 L852.7 133.6 L852.8 134.6 L853.0 135.6 L853.1 136.6 L853.3 137.6 L853.5 138.6 L853.6 139.6 L853.8 140.6 L853.9 141.5 L854.1 142.5 L854.2 143.5 L854.4 144.5 L854.5 145.5 L854.7 146.5 L854.9 147.5 L855.0 148.4 L855.2 149.4 L855.3 150.4 L855.5 151.4 L855.6 152.4 L855.8 153.4 L855.9 154.4 L856.1 155.3 L856.2 156.3 L856.4 157.3 L856.5 158.3 L856.7 159.3 L856.8 160.3 L857.0 161.3 L857.1 162.3 L857.3 163.2 L857.4 164.2 L857.5 165.2 L857.7 166.2 L857.8 167.2 L858.0 168.2 L858.1 169.2 L858.3 170.2 L858.4 171.2 L858.6 172.1 L858.7 173.1 L858.9 174.1 L859.0 175.1 L859.1 176.1 L859.3 177.1 L859.4 178.1 L859.6 179.1 L859.7 180.0 L859.9 181.0 L860.0 182.0 L860.1 183.0 L860.3 184.0 L860.4 185.0 L860.6 186.0 L860.7 187.0 L860.9 188.0 L861.0 188.9 L861.1 189.9 L861.3 190.9 L861.4 191.9 L861.6 192.9 L861.7 193.9 L861.8 194.9 L862.0 195.9 L862.1 196.9 L862.2 197.9 L862.4 198.8 L862.5 199.8 L862.7 200.8 L862.8 201.8 L862.9 202.8 L863.1 203.8 L863.2 204.8 L863.3 205.8 L863.5 206.8 L863.6 207.8 L863.8 208.7 L863.9 209.7 L864.0 210.7 L864.2 211.7 L864.3 212.7 L864.4 213.7 L864.6 214.7 L864.7 215.7 L864.8 216.7 L865.0 217.7 L865.1 218.6 L865.2 219.6 L865.4 220.6 L865.5 221.6 L865.6 222.6 L865.8 223.6 L865.9 224.6 L866.0 225.6 L866.2 226.6 L866.3 227.6 L866.4 228.6 L866.6 229.5 L866.7 230.5 L866.8 231.5 L867.0 232.5 L867.1 233.5 L867.2 234.5 L867.4 235.5 L867.5 236.5 L867.6 237.5 L867.7 238.5 L867.9 239.5 L868.0 240.5 L868.1 241.4 L868.3 242.4 L868.4 243.4 L868.5 244.4 L868.7 245.4 L868.8 246.4 L868.9 247.4 L869.0 248.4 L869.2 249.4 L869.3 250.4 L869.4 251.4 L869.6 252.4 L869.7 253.3 L869.8 254.3 L869.9 255.3 L870.1 256.3 L870.2 257.3 L870.3 258.3 L870.5 259.3 L870.6 260.3 L870.7 261.3 L870.8 262.3 L871.0 263.3 L871.1 264.3 L871.2 265.2 L871.4 266.2 L871.5 267.2 L871.6 268.2 L871.7 269.2 L871.9 270.2 L872.0 271.2 L872.1 272.2 L872.2 273.2 L872.4 274.2 L872.5 275.2 L872.6 276.2 L872.8 277.2 L872.9 278.1 L873.0 279.1 L873.1 280.1 L873.3 281.1 L873.4 282.1 L873.5 283.1 L873.6 284.1 L873.8 285.1 L873.9 286.1 L874.0 287.1 L874.1 288.1 L874.3 289.1 L874.4 290.1 L874.5 291.0 L874.6 292.0 L874.8 293.0 L874.9 294.0 L875.0 295.0 L875.1 296.0 L875.3 297.0 L875.4 298.0 L875.5 299.0 L875.6 300.0 L875.8 301.0 L875.9 302.0 L876.0 303.0 L876.2 304.0 L876.3 304.9 L876.4 305.9 L876.5 306.9 L876.7 307.9 L876.8 308.9 L876.9 309.9 L877.0 310.9 L877.2 311.9 L877.3 312.9 L877.4 313.9 L877.5 314.9 L877.7 315.9 L877.8 316.9 L877.9 317.8 L878.0 318.8 L878.2 319.8 L878.3 320.8 L878.4 321.8 L878.5 322.8 L878.7 323.8 L878.8 324.8 L878.9 325.8 L879.0 326.8 L879.2 327.8 L879.3 328.8 L879.4 329.8 L879.5 330.8 L879.7 331.7 L879.8 332.7 L879.9 333.7 L880.1 334.7 L880.2 335.7 L880.3 336.7 L880.4 337.7 L880.6 338.7 L880.7 339.7 L880.8 340.7 L880.9 341.7 L881.1 342.7 L881.2 343.7 L881.3 344.6 L881.4 345.6 L881.6 346.6 L881.7 347.6 L881.8 348.6 L882.0 349.6 L882.1 350.6 L882.2 351.6 L882.3 352.6 L882.5 353.6 L882.6 354.6 L882.7 355.6 L882.9 356.6 L883.0 357.5 L883.1 358.5 L883.2 359.5 L883.4 360.5 L883.5 361.5 L883.6 362.5 L883.8 363.5 L883.9 364.5 L884.0 365.5 L884.1 366.5 L884.3 367.5 L884.4 368.5 L884.5 369.5 L884.7 370.4 L884.8 371.4 L884.9 372.4 L885.1 373.4 L885.2 374.4 L885.3 375.4 L885.4 376.4 L885.6 377.4 L885.7 378.4 L885.8 379.4 L886.0 380.4 L886.1 381.4 L886.2 382.3 L886.4 383.3 L886.5 384.3 L886.6 385.3 L886.8 386.3 L886.9 387.3 L887.0 388.3 L887.2 389.3 L887.3 390.3 L887.4 391.3 L887.6 392.3 L887.7 393.3 L887.8 394.2 L888.0 395.2 L888.1 396.2 L888.2 397.2 L888.4 398.2 L888.5 399.2 L888.6 400.2 L888.8 401.2 L888.9 402.2 L889.0 403.2 L889.2 404.2 L889.3 405.1 L889.4 406.1 L889.6 407.1 L889.7 408.1 L889.9 409.1 L890.0 410.1 L890.1 411.1 L890.3 412.1 L890.4 413.1 L890.5 414.1 L890.7 415.1 L890.8 416.0 L891.0 417.0 L891.1 418.0 L891.2 419.0 L891.4 420.0 L891.5 421.0 L891.7 422.0 L891.8 423.0 L891.9 424.0 L892.1 425.0 L892.2 425.9 L892.4 426.9 L892.5 427.9 L892.6 428.9 L892.8 429.9 L892.9 430.9 L893.1 431.9 L893.2 432.9 L893.4 433.9 L893.5 434.9 L893.6 435.8 L893.8 436.8 L893.9 437.8 L894.1 438.8 L894.2 439.8 L894.4 440.8 L894.5 441.8 L894.7 442.8 L894.8 443.8 L894.9 444.7 L895.1 445.7 L895.2 446.7 L895.4 447.7 L895.5 448.7 L895.7 449.7 L895.8 450.7 L896.0 451.7 L896.1 452.7 L896.3 453.6 L896.4 454.6 L896.6 455.6 L896.7 456.6 L896.9 457.6 L897.0 458.6 L897.2 459.6 L897.3 460.6 L897.5 461.6 L897.6 462.5 L897.8 463.5 L897.9 464.5 L898.1 465.5 L898.2 466.5 L898.4 467.5 L898.5 468.5 L898.7 469.5 L898.8 470.4 L899.0 471.4 L899.2 472.4 L899.3 473.4 L899.5 474.4 L899.6 475.4 L899.8 476.4 L899.9 477.4 L900.1 478.3 L900.3 479.3 L900.4 480.3 L900.6 481.3 L900.7 482.3 L900.9 483.3 L901.0 484.3 L901.2 485.2 L901.4 486.2 L901.5 487.2 L901.7 488.2 L901.8 489.2 L902.0 490.2 L902.2 491.2 L902.3 492.1 L902.5 493.1 L902.7 494.1 L902.8 495.1 L903.0 496.1 L903.2 497.1 L903.3 498.1 L903.5 499.0 L903.6 500.0 L903.8 501.0 L904.0 502.0 L904.1 503.0 L904.3 504.0 L904.5 505.0 L904.7 505.9 L904.8 506.9 L905.0 507.9 L905.2 508.9 L905.3 509.9 L905.5 510.9 L905.7 511.9 L905.8 512.8 L906.0 513.8 L906.2 514.8 L906.4 515.8 L906.5 516.8 L906.7 517.8 L906.9 518.7 L907.1 519.7 L907.2 520.7 L907.4 521.7 L907.6 522.7 L907.8 523.7 L907.9 524.6 L908.1 525.6 L908.3 526.6 L908.5 527.6 L908.6 528.6 L908.8 529.6 L909.0 530.5 L909.2 531.5 L909.4 532.5 L909.5 533.5 L909.7 534.5 L909.9 535.4 L910.1 536.4 L910.3 537.4 L910.5 538.4 L910.6 539.4 L910.8 540.4 L911.0 541.3 L911.2 542.3 L911.4 543.3 L911.6 544.3 L911.8 545.3 L911.9 546.2 L912.1 547.2 L912.3 548.2 L912.5 549.2 L912.7 550.2 L912.9 551.2 L913.1 552.1 L913.3 553.1 L913.5 554.1 L913.6 555.1 L913.8 556.1 L914.0 557.0 L914.2 558.0 L914.4 559.0 L914.6 560.0 L914.8 561.0 L915.0 561.9 L915.2 562.9 L915.4 563.9 L915.6 564.9 L915.8 565.8 L916.0 566.8 L916.2 567.8 L916.4 568.8 L916.6 569.8 L916.8 570.7 L917.0 571.7 L917.2 572.7 L917.4 573.7 L917.6 574.7 L917.8 575.6 L918.0 576.6 L918.2 577.6 L918.4 578.6 L918.6 579.5 L918.8 580.5 L919.0 581.5 L919.2 582.5 L919.5 583.5 L919.7 584.4 L919.9 585.4 L920.1 586.4 L920.3 587.4 L920.5 588.3 L920.7 589.3 L920.9 590.3 L921.1 591.3 L921.4 592.2 L921.6 593.2 L921.8 594.2 L922.0 595.2 L922.2 596.1 L922.4 597.1 L922.7 598.1 L922.9 599.1 L923.1 600.0 L923.3 601.0 L923.5 602.0 L923.8 603.0 L924.0 603.9 L924.2 604.9 L924.4 605.9 L924.6 606.9 L924.9 607.8 L925.1 608.8 L925.3 609.8 L925.5 610.8 L925.8 611.7 L926.0 612.7 L926.2 613.7 L926.4 614.7 L926.7 615.6 L926.9 616.6 L927.1 617.6 L927.4 618.5 L927.6 619.5 L927.8 620.5 L928.1 621.5 L928.3 622.4 L928.5 623.4 L928.8 624.4 L929.0 625.4 L929.2 626.3 L929.5 627.3 L929.7 628.3 L930.0 629.2 L930.2 630.2 L930.4 631.2 L930.7 632.2 L930.9 633.1 L931.2 634.1 L931.4 635.1 L931.6 636.0 L931.9 637.0 L932.1 638.0 L932.4 638.9 L932.6 639.9 L932.9 640.9 L933.1 641.9 L933.4 642.8 L933.6 643.8 L933.9 644.8 L934.1 645.7 L934.4 646.7 L934.6 647.7 L934.9 648.6 L935.1 649.6 L935.4 650.6 L935.6 651.5 L935.9 652.5 L936.1 653.5 L936.4 654.4 L936.7 655.4 L936.9 656.4 L937.2 657.3 L937.4 658.3 L937.7 659.3 L938.0 660.2 L938.2 661.2 L938.5 662.2 L938.7 663.1 L939.0 664.1 L939.3 665.1 L939.5 666.0 L939.8 667.0 L940.1 668.0 L940.3 668.9 L940.6 669.9 L940.9 670.9 L941.2 671.8 L941.4 672.8 L941.7 673.8 L942.0 674.7 L942.2 675.7 L942.5 676.7 L942.8 677.6 L943.1 678.6 L943.4 679.5 L943.6 680.5 L943.9 681.5 L944.2 682.4 L944.5 683.4 L944.7 684.4 L945.0 685.3 L945.3 686.3 L945.6 687.2 L945.9 688.2 L946.2 689.2 L946.5 690.1 L946.7 691.1 L947.0 692.1 L947.3 693.0 L947.6 694.0 L947.9 694.9 L948.2 695.9 L948.5 696.9 L948.8 697.8 L949.1 698.8 L949.4 699.7 L949.7 700.7 L950.0 701.7 L950.3 702.6 L950.6 703.6 L950.9 704.5 L951.2 705.5 L951.5 706.5 L951.8 707.4 L952.1 708.4 L952.4 709.3 L952.7 710.3 L953.0 711.2 L953.3 712.2 L953.6 713.1 L953.9 714.1 L954.2 715.0 L954.6 716.0 L954.9 717.0 L955.2 717.9 L955.5 718.9 L955.8 719.8 L956.1 720.8 L956.5 721.7 L956.8 722.7 L957.1 723.6 L957.5 724.5 L957.8 725.5 L958.1 726.4 L958.4 727.4 L958.8 728.3 L959.1 729.3 L959.5 730.2 L959.8 731.2 L960.1 732.1 L960.5 733.0 L960.8 734.0 L961.2 734.9 L961.5 735.9 L961.9 736.8 L962.2 737.7 L962.6 738.7 L962.9 739.6 L963.3 740.5 L963.6 741.5 L964.0 742.4 L964.4 743.3 L964.7 744.3 L965.1 745.2 L965.5 746.1 L965.8 747.1 L966.2 748.0 L966.6 748.9 L967.0 749.8 L967.3 750.8 L967.7 751.7 L968.1 752.6 L968.5 753.5 L968.9 754.4 L969.3 755.4 L969.6 756.3 L970.0 757.2 L970.4 758.1 L970.8 759.0 L971.2 759.9 L971.6 760.8 L972.0 761.8 L972.5 762.7 L972.9 763.6 L973.3 764.5 L973.7 765.4 L974.1 766.3 L974.5 767.2 L974.9 768.1 L975.4 769.0 L975.8 769.9 L976.2 770.8 L976.7 771.7 L977.1 772.6 L977.5 773.5 L978.0 774.4 L978.4 775.3 L978.8 776.1 L979.3 777.0 L979.7 777.9 L980.2 778.8 L980.7 779.7 L981.1 780.6 L981.6 781.4 L982.0 782.3 L982.5 783.2 L983.0 784.1 L983.4 785.0 L983.9 785.8 L984.4 786.7 L984.9 787.6 L985.4 788.4 L985.8 789.3 L986.3 790.2 L986.8 791.0 L987.3 791.9 L987.8 792.8 L988.3 793.6 L988.8 794.5 L989.3 795.3 L989.8 796.2 L990.3 797.0 L990.9 797.9 L991.4 798.7 L991.9 799.6 L992.4 800.4 L993.0 801.3 L993.5 802.1 L994.0 802.9 L994.6 803.8 L995.1 804.6 L995.6 805.4 L996.2 806.3 L996.7 807.1 L997.3 807.9 L997.9 808.7 L998.4 809.6 L999.0 810.4 L999.5 811.2 L1000.1 812.0 L1000.7 812.8 L1001.3 813.7 L1001.9 814.5 L1002.4 815.3 L1003.0 816.1 L1003.6 816.9 L1004.2 817.7 L1004.8 818.5 L1005.4 819.3 L1006.0 820.1 L1006.6 820.9 L1007.2 821.7 L1007.9 822.5 L1008.5 823.3 L1009.1 824.0 L1009.7 824.8 L1010.3 825.6 L1011.0 826.4 L1011.6 827.2 L1012.2 827.9 L1012.9 828.7 L1013.5 829.5 L1014.2 830.2 L1014.8 831.0 L1015.5 831.8 L1016.1 832.5 L1016.8 833.3 L1017.5 834.0 L1018.1 834.8 L1018.8 835.5 L1019.5 836.3 L1020.1 837.0 L1020.8 837.8 L1021.5 838.5 L1022.2 839.3 L1022.9 840.0 L1023.5 840.7 L1024.2 841.5 L1024.9 842.2 L1025.6 842.9 L1026.3 843.6 L1027.0 844.4 L1027.7 845.1 L1028.4 845.8 L1029.2 846.5 L1029.9 847.2 L1030.6 847.9 L1031.3 848.6 L1032.0 849.3 L1032.8 850.0 L1033.5 850.7 L1034.2 851.4 L1034.9 852.1 L1035.7 852.8 L1036.4 853.5 L1037.2 854.2 L1037.9 854.8 L1038.6 855.5 L1039.4 856.2 L1040.1 856.9 L1040.9 857.5 L1041.7 858.2 L1042.4 858.9 L1043.2 859.5 L1043.9 860.2 L1044.7 860.8 L1045.5 861.5 L1046.2 862.1 L1047.0 862.8 L1047.8 863.4 L1048.6 864.0 L1049.4 864.7 L1050.1 865.3 L1050.9 865.9 L1051.7 866.6 L1052.5 867.2 L1053.3 867.8 L1054.1 868.4 L1054.9 869.0 L1055.7 869.6 L1056.5 870.2 L1057.3 870.9 L1058.1 871.5 L1058.9 872.0 L1059.7 872.6 L1060.5 873.2 L1061.4 873.8 L1062.2 874.4 L1063.0 875.0 L1063.8 875.6 L1064.6 876.1 L1065.5 876.7 L1066.3 877.3 L1067.1 877.8 L1068.0 878.4 L1068.8 879.0 L1069.6 879.5 L1070.5 880.1 L1071.3 880.6 L1072.2 881.1 L1073.0 881.7 L1073.8 882.2 L1074.7 882.8 L1075.5 883.3 L1076.4 883.8 L1077.3 884.3 L1078.1 884.9 L1079.0 885.4 L1079.8 885.9 L1080.7 886.4 L1081.6 886.9 L1082.4 887.4 L1083.3 887.9 L1084.2 888.4 L1085.0 888.9 L1085.9 889.4 L1086.8 889.8 L1087.7 890.3 L1088.5 890.8 L1089.4 891.3 L1090.3 891.7 L1091.2 892.2 L1092.1 892.7 L1093.0 893.1 L1093.8 893.6 L1094.7 894.0 L1095.6 894.5 L1096.5 894.9 L1097.4 895.3 L1098.3 895.8 L1099.2 896.2 L1100.1 896.6 L1101.0 897.0 L1101.9 897.4 L1102.8 897.9 L1103.7 898.3 L1104.6 898.7 L1105.5 899.1 L1106.5 899.5 L1107.4 899.9 L1108.3 900.3 L1109.2 900.6 L1110.1 901.0 L1111.0 901.4 L1112.0 901.8 L1112.9 902.1 L1113.8 902.5 L1114.7 902.9 L1115.6 903.2 L1116.6 903.6 L1117.5 903.9 L1118.4 904.3 L1119.4 904.6 L1120.3 904.9 L1121.2 905.3 L1122.2 905.6 L1123.1 905.9 L1124.0 906.3 L1125.0 906.6 L1125.9 906.9 L1126.8 907.2 L1127.8 907.5 L1128.7 907.8 L1129.7 908.1 L1130.6 908.4 L1131.6 908.7 L1132.5 909.0 L1133.5 909.3 L1134.4 909.6 L1135.4 909.9 L1136.3 910.1 L1137.3 910.4 L1138.2 910.7 L1139.2 911.0 L1140.1 911.2 L1141.1 911.5 L1142.0 911.8 L1143.0 912.0 L1144.0 912.3 L1144.9 912.5 L1145.9 912.8 L1146.8 913.0 L1147.8 913.3 L1148.8 913.5 L1149.7 913.7 L1150.7 914.0 L1151.7 914.2 L1152.6 914.4 L1153.6 914.7 L1154.6 914.9 L1155.5 915.1 L1156.5 915.3 L1157.5 915.5 L1158.5 915.8 L1159.4 916.0 L1160.4 916.2 L1161.4 916.4 L1162.4 916.6 L1163.3 916.8 L1164.3 917.0 L1165.3 917.2 L1166.3 917.4 L1167.3 917.6 L1168.2 917.8 L1169.2 917.9 L1170.2 918.1 L1171.2 918.3 L1172.2 918.5 L1173.2 918.7 L1174.1 918.9 L1175.1 919.0 L1176.1 919.2 L1177.1 919.4 L1178.1 919.5 L1179.1 919.7 L1180.1 919.9 L1181.1 920.0 L1182.0 920.2 L1183.0 920.4 L1184.0 920.5 L1185.0 920.7 L1186.0 920.8 L1187.0 921.0 L1188.0 921.1 L1189.0 921.3 L1190.0 921.4 L1191.0 921.6 L1192.0 921.7 L1193.0 921.9 L1194.0 922.0 L1195.0 922.1 L1196.0 922.3 L1197.0 922.4 L1197.9 922.6 L1198.9 922.7 L1199.9 922.8 L1200.9 923.0 L1201.9 923.1 L1202.9 923.2 L1203.9 923.4 L1204.9 923.5 L1205.9 923.6 L1206.9 923.7 L1207.9 923.9 L1208.9 924.0 L1209.9 924.1 L1210.9 924.2 L1211.9 924.3 L1212.9 924.5 L1213.9 924.6 L1214.9 924.7 L1215.9 924.8 L1217.0 924.9 L1218.0 925.0 L1219.0 925.2 L1220.0 925.3 L1221.0 925.4 L1222.0 925.5 L1223.0 925.6 L1224.0 925.7 L1225.0 925.8 L1226.0 925.9 L1227.0 926.0 L1228.0 926.2 L1229.0 926.3 L1230.0 926.4 L1231.0 926.5 L1232.0 926.6 L1233.0 926.7 L1234.0 926.8 L1235.0 926.9 L1236.0 927.0 L1237.0 927.1 L1238.0 927.2 L1239.0 927.3 L1240.0 927.4 L1241.0 927.5 L1242.0 927.6 L1243.0 927.7 L1244.0 927.9 L1245.0 928.0 L1246.0 928.1 L1247.0 928.2 L1248.0 928.3 L1249.0 928.4 L1250.0 928.5 L1251.0 928.6 L1252.0 928.7 L1253.0 928.8 L1254.0 928.9 L1255.0 929.0 L1256.0 929.1 L1257.0 929.2 L1258.0 929.3 L1259.0 929.4 L1260.0 929.6 L1261.0 929.7 L1262.0 929.8 L1263.0 929.9 L1264.0 930.0 L1265.0 930.1 L1266.0 930.2 L1267.0 930.3 L1268.0 930.4 L1269.0 930.5 L1270.0 930.7 L1271.0 930.8 L1272.0 930.9 L1273.0 931.0 L1274.0 931.1 L1274.9 931.2 L1275.9 931.4 L1276.9 931.5 L1277.9 931.6 L1278.9 931.7 L1279.9 931.9 L1280.9 932.0 L1281.9 932.1 L1282.9 932.2 L1283.8 932.4 L1284.8 932.5 L1285.8 932.6 L1286.8 932.7 L1287.8 932.9 L1288.8 933.0 L1289.7 933.1 L1290.7 933.3 L1291.7 933.4 L1292.7 933.6 L1293.7 933.7 L1294.6 933.8 L1295.6 934.0 L1296.6 934.1 L1297.6 934.3 L1298.6 934.4 L1299.5 934.6 L1300.5 934.7 L1301.5 934.9 L1302.5 935.0 L1303.4 935.2 L1304.4 935.3 L1305.4 935.5 L1306.3 935.7 L1307.3 935.8 L1308.3 936.0 L1309.3 936.2 L1310.2 936.3 L1311.2 936.5 L1312.2 936.7 L1313.1 936.8 L1314.1 937.0 L1315.1 937.2 L1316.0 937.4 L1317.0 937.5 L1318.0 937.7 L1318.9 937.9 L1319.9 938.1 L1320.9 938.3 L1321.8 938.5 L1322.8 938.7 L1323.8 938.8 L1324.7 939.0 L1325.7 939.2 L1326.7 939.4 L1327.6 939.6 L1328.6 939.8 L1329.6 940.0 L1330.5 940.2 L1331.5 940.5 L1332.5 940.7 L1333.4 940.9 L1334.4 941.1 L1335.4 941.3 L1336.3 941.5 L1337.3 941.7 L1338.3 942.0 L1339.2 942.2 L1340.2 942.4 L1341.2 942.6 L1342.1 942.9 L1343.1 943.1 L1344.1 943.3 L1345.0 943.6 L1346.0 943.8 L1347.0 944.1 L1347.9 944.3 L1348.9 944.6 L1349.9 944.8 L1350.8 945.1 L1351.8 945.3 L1352.8 945.6 L1353.7 945.8 L1354.7 946.1 L1355.7 946.4 L1356.6 946.6 L1357.6 946.9 L1358.6 947.2 L1359.6 947.4 L1360.5 947.7 L1361.5 948.0 L1362.5 948.3 L1363.4 948.5 L1364.4 948.8 L1365.4 949.1 L1366.4 949.4 L1367.3 949.6 L1368.3 949.9 L1369.3 950.2 L1370.3 950.5 L1371.2 950.7 L1372.2 951.0 L1373.2 951.3 L1374.2 951.5 L1375.2 951.8 L1376.1 952.0 L1377.1 952.3 L1378.1 952.6 L1379.1 952.8 L1380.1 953.0 L1381.0 953.3 L1382.0 953.5 L1383.0 953.8 L1384.0 954.0 L1385.0 954.2 L1385.9 954.4 L1386.9 954.6 L1387.9 954.8 L1388.9 955.0 L1389.9 955.2 L1390.8 955.4 L1391.8 955.6 L1392.8 955.7 L1393.8 955.9 L1394.8 956.0 L1395.8 956.2 L1396.8 956.3 L1397.7 956.4 L1398.7 956.6 L1399.7 956.7 L1400.7 956.8 L1401.7 956.8 L1402.7 956.9 L1403.7 957.0 L1404.0 957.0 L1404.0 957.0 L1431.2 957.1" fill="none" stroke="#00f" stroke-width="5" stroke-linejoin="round"/>
<path d="M158.2 941.8 L170.2 963.3 L146.2 963.3 Z" fill="#00f"/>
<path d="M271.7 942.0 L283.7 963.5 L259.7 963.5 Z" fill="#00f"/>
<path d="M388.3 939.4 L400.3 960.9 L376.3 960.9 Z" fill="#00f"/>
<path d="M505.0 926.4 L517.0 947.9 L493.0 947.9 Z" fill="#00f"/>
<path d="M621.7 865.4 L633.7 886.9 L609.7 886.9 Z" fill="#00f"/>
<path d="M738.6 506.5 L750.6 528.0 L726.6 528.0 Z" fill="#00f"/>
<path d="M854.7 134.8 L866.7 156.2 L842.7 156.2 Z" fill="#00f"/>
<path d="M971.4 744.2 L983.4 765.8 L959.4 765.8 Z" fill="#00f"/>
<path d="M1087.8 876.1 L1099.8 897.6 L1075.8 897.6 Z" fill="#00f"/>
<path d="M1204.0 909.1 L1216.0 930.6 L1192.0 930.6 Z" fill="#00f"/>
<path d="M1320.7 924.0 L1332.7 945.5 L1308.7 945.5 Z" fill="#00f"/>
<path d="M782.4 199.1 L630 286.4" stroke="#000" stroke-width="5.2" fill="none"/>
<path d="M609 298.4 L640 269 L636 279.6 L636.7 285.6 L650 287.4 Z" fill="#000"/>
<rect x="916" y="38" width="548" height="227" fill="#fff" stroke="#000" stroke-width="2"/>
<path d="M926 78.2 H1061.3" stroke="#000" stroke-width="5"/>
<path d="M926 154.2 H1061.3" stroke="#f00" stroke-width="5"/>
<path d="M926 230.4 H1061.3" stroke="#00f" stroke-width="5"/>
<rect x="985.0" y="69.4" width="17.0" height="17.0" fill="#000"/>
<circle cx="993.5" cy="154.0" r="9.6" fill="#f00"/>
<path d="M993.7 217.4 L1005.2 236.8 L982.2 236.8 Z" fill="#00f"/>
<text y="98.3" font-size="53.0"><tspan x="1070.4" font-size="53.0" textLength="42.0" lengthAdjust="spacingAndGlyphs">O</tspan><tspan x="1109.0" font-size="44.0" textLength="22.7" lengthAdjust="spacingAndGlyphs">2</tspan> <tspan x="1141.8" font-size="53.0" textLength="91.1" lengthAdjust="spacingAndGlyphs">19%</tspan> <tspan x="1245.8" font-size="53.0" textLength="38.1" lengthAdjust="spacingAndGlyphs">&amp;</tspan> <tspan x="1295.6" font-size="53.0" textLength="40.9" lengthAdjust="spacingAndGlyphs">N</tspan><tspan x="1336.0" font-size="44.0" textLength="22.9" lengthAdjust="spacingAndGlyphs">2</tspan> <tspan x="1369.9" font-size="53.0" textLength="89.2" lengthAdjust="spacingAndGlyphs">81%</tspan></text>
<text y="174.4" font-size="53.0"><tspan x="1070.4" font-size="53.0" textLength="42.0" lengthAdjust="spacingAndGlyphs">O</tspan><tspan x="1109.0" font-size="44.0" textLength="22.7" lengthAdjust="spacingAndGlyphs">2</tspan> <tspan x="1142.4" font-size="53.0" textLength="90.4" lengthAdjust="spacingAndGlyphs">21%</tspan> <tspan x="1245.8" font-size="53.0" textLength="38.1" lengthAdjust="spacingAndGlyphs">&amp;</tspan> <tspan x="1295.6" font-size="53.0" textLength="40.9" lengthAdjust="spacingAndGlyphs">N</tspan><tspan x="1336.0" font-size="44.0" textLength="22.9" lengthAdjust="spacingAndGlyphs">2</tspan> <tspan x="1368.5" font-size="53.0" textLength="90.6" lengthAdjust="spacingAndGlyphs">79%</tspan></text>
<text y="250.5" font-size="53.0"><tspan x="1070.4" font-size="53.0" textLength="42.0" lengthAdjust="spacingAndGlyphs">O</tspan><tspan x="1109.0" font-size="44.0" textLength="22.7" lengthAdjust="spacingAndGlyphs">2</tspan> <tspan x="1142.4" font-size="53.0" textLength="90.4" lengthAdjust="spacingAndGlyphs">23%</tspan> <tspan x="1245.8" font-size="53.0" textLength="38.1" lengthAdjust="spacingAndGlyphs">&amp;</tspan> <tspan x="1295.6" font-size="53.0" textLength="40.9" lengthAdjust="spacingAndGlyphs">N</tspan><tspan x="1336.0" font-size="44.0" textLength="22.9" lengthAdjust="spacingAndGlyphs">2</tspan> <tspan x="1368.5" font-size="53.0" textLength="90.6" lengthAdjust="spacingAndGlyphs">77%</tspan></text>
<text x="102.3" y="974.7" font-size="53.3" textLength="26.2" lengthAdjust="spacingAndGlyphs">0</text>
<text x="101.9" y="865.2" font-size="53.3" textLength="27.7" lengthAdjust="spacingAndGlyphs">2</text>
<text x="103.3" y="755.8" font-size="53.3" textLength="24.0" lengthAdjust="spacingAndGlyphs">4</text>
<text x="102.1" y="646.3" font-size="53.3" textLength="26.1" lengthAdjust="spacingAndGlyphs">6</text>
<text x="102.3" y="536.8" font-size="53.3" textLength="26.2" lengthAdjust="spacingAndGlyphs">8</text>
<text x="101.4" y="427.4" font-size="53.3" textLength="51.9" lengthAdjust="spacingAndGlyphs">10</text>
<text x="101.3" y="317.9" font-size="53.3" textLength="52.9" lengthAdjust="spacingAndGlyphs">12</text>
<text x="101.5" y="208.4" font-size="53.3" textLength="50.6" lengthAdjust="spacingAndGlyphs">14</text>
<text x="101.4" y="98.9" font-size="53.3" textLength="51.4" lengthAdjust="spacingAndGlyphs">16</text>
<text x="112.7" y="1080.4" font-size="53.3" textLength="93.2" lengthAdjust="spacingAndGlyphs">-150</text>
<text x="325.3" y="1080.4" font-size="53.3" textLength="91.5" lengthAdjust="spacingAndGlyphs">-100</text>
<text x="549.6" y="1080.4" font-size="53.3" textLength="64.5" lengthAdjust="spacingAndGlyphs">-50</text>
<text x="782.6" y="1080.4" font-size="53.3" textLength="24.5" lengthAdjust="spacingAndGlyphs">0</text>
<text x="979.7" y="1080.4" font-size="53.3" textLength="52.2" lengthAdjust="spacingAndGlyphs">50</text>
<text x="1180.1" y="1080.4" font-size="53.3" textLength="75.4" lengthAdjust="spacingAndGlyphs">100</text>
<text x="1392.3" y="1080.4" font-size="53.3" textLength="74.9" lengthAdjust="spacingAndGlyphs">150</text>
<text x="208.2" y="539.3" font-size="49.7" textLength="71.6" lengthAdjust="spacingAndGlyphs">110</text>
<text x="208.3" y="480.3" font-size="49.7" textLength="71.5" lengthAdjust="spacingAndGlyphs">120</text>
<text x="208.3" y="421.3" font-size="49.7" textLength="71.5" lengthAdjust="spacingAndGlyphs">130</text>
<text x="208.3" y="362.3" font-size="49.7" textLength="71.5" lengthAdjust="spacingAndGlyphs">140</text>
<text x="208.3" y="303.3" font-size="49.7" textLength="71.5" lengthAdjust="spacingAndGlyphs">150</text>
<text x="208.3" y="244.3" font-size="49.7" textLength="71.5" lengthAdjust="spacingAndGlyphs">160</text>
<text x="208.3" y="185.3" font-size="49.7" textLength="71.5" lengthAdjust="spacingAndGlyphs">170</text>
<text x="303.8" y="569.9" font-size="49.7" textLength="39.1" lengthAdjust="spacingAndGlyphs">-5</text>
<text x="387.8" y="569.9" font-size="49.7" textLength="24.7" lengthAdjust="spacingAndGlyphs">0</text>
<text x="462.6" y="569.9" font-size="49.7" textLength="26.1" lengthAdjust="spacingAndGlyphs">5</text>
<text x="529.2" y="569.9" font-size="49.7" textLength="46.3" lengthAdjust="spacingAndGlyphs">10</text>
<text x="604.7" y="569.9" font-size="49.7" textLength="46.5" lengthAdjust="spacingAndGlyphs">15</text>
<text x="681.4" y="569.9" font-size="49.7" textLength="45.7" lengthAdjust="spacingAndGlyphs">20</text>
<text y="1162.4" font-size="55.5"><tspan x="589.8" font-size="55.5" textLength="136.5" lengthAdjust="spacingAndGlyphs">Crank</tspan> <tspan x="739.6" font-size="55.5" textLength="130.5" lengthAdjust="spacingAndGlyphs">Angle</tspan> <tspan x="884.1" font-size="55.5" textLength="112.6" lengthAdjust="spacingAndGlyphs">(deg)</tspan></text>
<text y="0.0" font-size="56.0" transform="translate(67.4 807.2) rotate(-90)"><tspan x="-2.3" font-size="56.0" textLength="198.8" lengthAdjust="spacingAndGlyphs">Cylinder</tspan> <tspan x="212.2" font-size="56.0" textLength="194.4" lengthAdjust="spacingAndGlyphs">Pressure</tspan> <tspan x="412.0" font-size="56.0" textLength="141.5" lengthAdjust="spacingAndGlyphs">(MPa)</tspan></text>
</svg></body></html>
